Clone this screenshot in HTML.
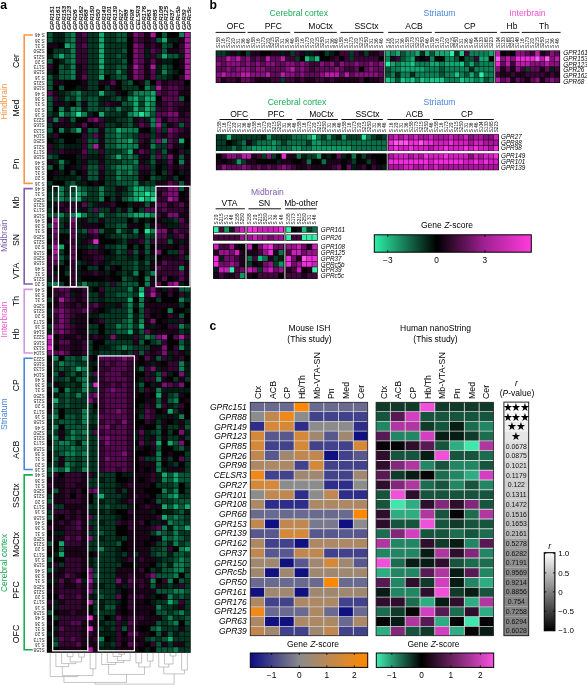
<!DOCTYPE html><html><head><meta charset="utf-8"><title>Figure</title><style>html,body{margin:0;padding:0;background:#fff}svg{display:block}text{font-family:'Liberation Sans', Arial, Helvetica, sans-serif}</style></head><body>
<svg width="587" height="685" viewBox="0 0 587 685">
<rect width="587" height="685" fill="#fff"/>
<rect x="46.80" y="32.00" width="143.90" height="620.80" fill="#000"/>
<path fill="#065637" d="M47.57 32.57h5.17v4.75h-5.17zM64.72 32.57h5.17v4.75h-5.17zM116.17 32.57h5.17v4.75h-5.17zM121.88 32.57h5.17v4.75h-5.17zM161.90 32.57h5.17v4.75h-5.17zM47.57 37.87h5.17v4.75h-5.17zM64.72 37.87h5.17v4.75h-5.17zM116.17 37.87h5.17v4.75h-5.17zM121.88 37.87h5.17v4.75h-5.17zM156.18 37.87h5.17v4.75h-5.17zM161.90 43.17h5.17v4.75h-5.17zM121.88 48.47h5.17v4.75h-5.17zM161.90 48.47h5.17v4.75h-5.17zM53.29 53.77h5.17v4.75h-5.17zM64.72 53.77h5.17v4.75h-5.17zM116.17 53.77h5.17v4.75h-5.17zM167.61 53.77h5.17v4.75h-5.17zM173.33 53.77h5.17v4.75h-5.17zM47.57 59.07h5.17v4.75h-5.17zM64.72 59.07h5.17v4.75h-5.17zM121.88 59.07h5.17v4.75h-5.17zM59.01 64.38h5.17v4.75h-5.17zM116.17 64.38h5.17v4.75h-5.17zM121.88 64.38h5.17v4.75h-5.17zM161.90 64.38h5.17v4.75h-5.17zM59.01 69.68h5.17v4.75h-5.17zM64.72 69.68h5.17v4.75h-5.17zM47.57 74.97h5.17v4.75h-5.17zM59.01 74.97h5.17v4.75h-5.17zM64.72 74.97h5.17v4.75h-5.17zM116.17 74.97h5.17v4.75h-5.17zM121.88 74.97h5.17v4.75h-5.17zM47.57 80.28h5.17v4.75h-5.17zM127.60 80.28h5.17v4.75h-5.17zM144.75 80.28h5.17v4.75h-5.17zM47.57 85.58h5.17v4.75h-5.17zM59.01 85.58h5.17v4.75h-5.17zM70.44 90.88h5.17v4.75h-5.17zM47.57 96.17h5.17v4.75h-5.17zM64.72 96.17h5.17v4.75h-5.17zM87.59 96.17h5.17v4.75h-5.17zM93.30 96.17h5.17v4.75h-5.17zM116.17 96.17h5.17v4.75h-5.17zM139.03 96.17h5.17v4.75h-5.17zM179.04 96.17h5.17v4.75h-5.17zM47.57 101.47h5.17v4.75h-5.17zM76.16 101.47h5.17v4.75h-5.17zM87.59 101.47h5.17v4.75h-5.17zM93.30 101.47h5.17v4.75h-5.17zM121.88 101.47h5.17v4.75h-5.17zM127.60 101.47h5.17v4.75h-5.17zM47.57 106.78h5.17v4.75h-5.17zM87.59 106.78h5.17v4.75h-5.17zM93.30 106.78h5.17v4.75h-5.17zM104.74 106.78h5.17v4.75h-5.17zM139.03 106.78h5.17v4.75h-5.17zM64.72 112.08h5.17v4.75h-5.17zM150.46 112.08h5.17v4.75h-5.17zM70.44 117.38h5.17v4.75h-5.17zM127.60 117.38h5.17v4.75h-5.17zM127.60 122.67h5.17v4.75h-5.17zM179.04 122.67h5.17v4.75h-5.17zM47.57 127.97h5.17v4.75h-5.17zM70.44 127.97h5.17v4.75h-5.17zM87.59 127.97h5.17v4.75h-5.17zM93.30 127.97h5.17v4.75h-5.17zM104.74 127.97h5.17v4.75h-5.17zM110.45 127.97h5.17v4.75h-5.17zM104.74 133.28h5.17v4.75h-5.17zM110.45 133.28h5.17v4.75h-5.17zM121.88 133.28h5.17v4.75h-5.17zM127.60 133.28h5.17v4.75h-5.17zM87.59 138.58h5.17v4.75h-5.17zM93.30 138.58h5.17v4.75h-5.17zM104.74 138.58h5.17v4.75h-5.17zM110.45 138.58h5.17v4.75h-5.17zM133.32 138.58h5.17v4.75h-5.17zM150.46 138.58h5.17v4.75h-5.17zM87.59 143.88h5.17v4.75h-5.17zM104.74 143.88h5.17v4.75h-5.17zM110.45 143.88h5.17v4.75h-5.17zM121.88 149.17h5.17v4.75h-5.17zM161.90 149.17h5.17v4.75h-5.17zM47.57 154.47h5.17v4.75h-5.17zM110.45 154.47h5.17v4.75h-5.17zM121.88 154.47h5.17v4.75h-5.17zM133.32 154.47h5.17v4.75h-5.17zM150.46 154.47h5.17v4.75h-5.17zM179.04 154.47h5.17v4.75h-5.17zM121.88 159.78h5.17v4.75h-5.17zM127.60 159.78h5.17v4.75h-5.17zM150.46 159.78h5.17v4.75h-5.17zM47.57 165.08h5.17v4.75h-5.17zM59.01 165.08h5.17v4.75h-5.17zM87.59 165.08h5.17v4.75h-5.17zM93.30 165.08h5.17v4.75h-5.17zM110.45 165.08h5.17v4.75h-5.17zM133.32 165.08h5.17v4.75h-5.17zM87.59 170.37h5.17v4.75h-5.17zM93.30 170.37h5.17v4.75h-5.17zM121.88 170.37h5.17v4.75h-5.17zM133.32 170.37h5.17v4.75h-5.17zM87.59 175.67h5.17v4.75h-5.17zM93.30 175.67h5.17v4.75h-5.17zM121.88 175.67h5.17v4.75h-5.17zM127.60 175.67h5.17v4.75h-5.17zM133.32 175.67h5.17v4.75h-5.17zM150.46 175.67h5.17v4.75h-5.17zM70.44 180.97h5.17v4.75h-5.17zM116.17 180.97h5.17v4.75h-5.17zM121.88 180.97h5.17v4.75h-5.17zM127.60 180.97h5.17v4.75h-5.17zM179.04 180.97h5.17v4.75h-5.17zM81.87 186.28h5.17v4.75h-5.17zM127.60 186.28h5.17v4.75h-5.17zM179.04 186.28h5.17v4.75h-5.17zM70.44 191.58h5.17v4.75h-5.17zM127.60 191.58h5.17v4.75h-5.17zM53.29 196.87h5.17v4.75h-5.17zM64.72 196.87h5.17v4.75h-5.17zM121.88 196.87h5.17v4.75h-5.17zM144.75 202.17h5.17v4.75h-5.17zM127.60 207.47h5.17v4.75h-5.17zM47.57 212.78h5.17v4.75h-5.17zM53.29 212.78h5.17v4.75h-5.17zM116.17 212.78h5.17v4.75h-5.17zM121.88 212.78h5.17v4.75h-5.17zM47.57 223.37h5.17v4.75h-5.17zM116.17 223.37h5.17v4.75h-5.17zM121.88 223.37h5.17v4.75h-5.17zM144.75 223.37h5.17v4.75h-5.17zM81.87 228.67h5.17v4.75h-5.17zM99.02 228.67h5.17v4.75h-5.17zM121.88 233.97h5.17v4.75h-5.17zM144.75 233.97h5.17v4.75h-5.17zM144.75 239.28h5.17v4.75h-5.17zM167.61 239.28h5.17v4.75h-5.17zM116.17 244.58h5.17v4.75h-5.17zM121.88 244.58h5.17v4.75h-5.17zM144.75 244.58h5.17v4.75h-5.17zM116.17 249.87h5.17v4.75h-5.17zM133.32 249.87h5.17v4.75h-5.17zM144.75 249.87h5.17v4.75h-5.17zM59.01 255.17h5.17v4.75h-5.17zM133.32 260.47h5.17v4.75h-5.17zM144.75 260.47h5.17v4.75h-5.17zM133.32 265.77h5.17v4.75h-5.17zM121.88 276.37h5.17v4.75h-5.17zM47.57 281.67h5.17v4.75h-5.17zM121.88 281.67h5.17v4.75h-5.17zM127.60 281.67h5.17v4.75h-5.17zM133.32 281.67h5.17v4.75h-5.17zM179.04 286.97h5.17v4.75h-5.17zM184.76 286.97h5.17v4.75h-5.17zM116.17 292.27h5.17v4.75h-5.17zM121.88 292.27h5.17v4.75h-5.17zM127.60 292.27h5.17v4.75h-5.17zM139.03 308.17h5.17v4.75h-5.17zM139.03 313.47h5.17v4.75h-5.17zM179.04 313.47h5.17v4.75h-5.17zM121.88 318.77h5.17v4.75h-5.17zM121.88 324.07h5.17v4.75h-5.17zM116.17 329.38h5.17v4.75h-5.17zM121.88 329.38h5.17v4.75h-5.17zM139.03 329.38h5.17v4.75h-5.17zM150.46 334.67h5.17v4.75h-5.17zM139.03 339.97h5.17v4.75h-5.17zM156.18 339.97h5.17v4.75h-5.17zM179.04 339.97h5.17v4.75h-5.17zM116.17 345.27h5.17v4.75h-5.17zM127.60 345.27h5.17v4.75h-5.17zM139.03 350.57h5.17v4.75h-5.17zM64.72 355.88h5.17v4.75h-5.17zM70.44 355.88h5.17v4.75h-5.17zM156.18 355.88h5.17v4.75h-5.17zM64.72 361.17h5.17v4.75h-5.17zM70.44 361.17h5.17v4.75h-5.17zM59.01 366.47h5.17v4.75h-5.17zM70.44 366.47h5.17v4.75h-5.17zM139.03 366.47h5.17v4.75h-5.17zM53.29 371.77h5.17v4.75h-5.17zM70.44 371.77h5.17v4.75h-5.17zM81.87 371.77h5.17v4.75h-5.17zM156.18 371.77h5.17v4.75h-5.17zM64.72 377.07h5.17v4.75h-5.17zM76.16 377.07h5.17v4.75h-5.17zM139.03 382.38h5.17v4.75h-5.17zM64.72 392.97h5.17v4.75h-5.17zM173.33 392.97h5.17v4.75h-5.17zM64.72 398.27h5.17v4.75h-5.17zM156.18 398.27h5.17v4.75h-5.17zM167.61 398.27h5.17v4.75h-5.17zM53.29 403.57h5.17v4.75h-5.17zM64.72 403.57h5.17v4.75h-5.17zM53.29 408.88h5.17v4.75h-5.17zM64.72 414.17h5.17v4.75h-5.17zM70.44 414.17h5.17v4.75h-5.17zM59.01 419.47h5.17v4.75h-5.17zM64.72 419.47h5.17v4.75h-5.17zM70.44 419.47h5.17v4.75h-5.17zM64.72 424.77h5.17v4.75h-5.17zM70.44 424.77h5.17v4.75h-5.17zM76.16 424.77h5.17v4.75h-5.17zM81.87 424.77h5.17v4.75h-5.17zM156.18 424.77h5.17v4.75h-5.17zM184.76 424.77h5.17v4.75h-5.17zM76.16 430.07h5.17v4.75h-5.17zM156.18 430.07h5.17v4.75h-5.17zM64.72 435.38h5.17v4.75h-5.17zM76.16 435.38h5.17v4.75h-5.17zM81.87 435.38h5.17v4.75h-5.17zM156.18 435.38h5.17v4.75h-5.17zM53.29 440.67h5.17v4.75h-5.17zM70.44 440.67h5.17v4.75h-5.17zM173.33 440.67h5.17v4.75h-5.17zM53.29 445.97h5.17v4.75h-5.17zM59.01 445.97h5.17v4.75h-5.17zM64.72 445.97h5.17v4.75h-5.17zM76.16 445.97h5.17v4.75h-5.17zM81.87 445.97h5.17v4.75h-5.17zM156.18 445.97h5.17v4.75h-5.17zM179.04 445.97h5.17v4.75h-5.17zM59.01 451.27h5.17v4.75h-5.17zM76.16 451.27h5.17v4.75h-5.17zM53.29 456.57h5.17v4.75h-5.17zM64.72 456.57h5.17v4.75h-5.17zM70.44 456.57h5.17v4.75h-5.17zM81.87 456.57h5.17v4.75h-5.17zM70.44 461.88h5.17v4.75h-5.17zM81.87 461.88h5.17v4.75h-5.17zM47.57 467.17h5.17v4.75h-5.17zM59.01 467.17h5.17v4.75h-5.17zM167.61 472.47h5.17v4.75h-5.17zM179.04 472.47h5.17v4.75h-5.17zM184.76 472.47h5.17v4.75h-5.17zM167.61 477.77h5.17v4.75h-5.17zM179.04 477.77h5.17v4.75h-5.17zM184.76 477.77h5.17v4.75h-5.17zM173.33 483.07h5.17v4.75h-5.17zM53.29 488.38h5.17v4.75h-5.17zM161.90 493.67h5.17v4.75h-5.17zM47.57 498.97h5.17v4.75h-5.17zM156.18 498.97h5.17v4.75h-5.17zM173.33 498.97h5.17v4.75h-5.17zM179.04 498.97h5.17v4.75h-5.17zM184.76 498.97h5.17v4.75h-5.17zM104.74 504.27h5.17v4.75h-5.17zM167.61 504.27h5.17v4.75h-5.17zM179.04 504.27h5.17v4.75h-5.17zM179.04 509.57h5.17v4.75h-5.17zM47.57 514.88h5.17v4.75h-5.17zM167.61 514.88h5.17v4.75h-5.17zM179.04 514.88h5.17v4.75h-5.17zM173.33 520.17h5.17v4.75h-5.17zM179.04 520.17h5.17v4.75h-5.17zM179.04 525.47h5.17v4.75h-5.17zM99.02 530.77h5.17v4.75h-5.17zM161.90 530.77h5.17v4.75h-5.17zM167.61 536.07h5.17v4.75h-5.17zM179.04 536.07h5.17v4.75h-5.17zM47.57 541.37h5.17v4.75h-5.17zM116.17 541.37h5.17v4.75h-5.17zM161.90 541.37h5.17v4.75h-5.17zM184.76 541.37h5.17v4.75h-5.17zM59.01 546.67h5.17v4.75h-5.17zM161.90 546.67h5.17v4.75h-5.17zM156.18 551.97h5.17v4.75h-5.17zM161.90 551.97h5.17v4.75h-5.17zM173.33 551.97h5.17v4.75h-5.17zM179.04 551.97h5.17v4.75h-5.17zM47.57 557.27h5.17v4.75h-5.17zM173.33 557.27h5.17v4.75h-5.17zM184.76 557.27h5.17v4.75h-5.17zM161.90 562.57h5.17v4.75h-5.17zM184.76 562.57h5.17v4.75h-5.17zM47.57 567.87h5.17v4.75h-5.17zM161.90 567.87h5.17v4.75h-5.17zM167.61 567.87h5.17v4.75h-5.17zM93.30 573.17h5.17v4.75h-5.17zM156.18 573.17h5.17v4.75h-5.17zM161.90 573.17h5.17v4.75h-5.17zM167.61 573.17h5.17v4.75h-5.17zM184.76 573.17h5.17v4.75h-5.17zM179.04 578.47h5.17v4.75h-5.17zM150.46 583.77h5.17v4.75h-5.17zM156.18 589.07h5.17v4.75h-5.17zM161.90 589.07h5.17v4.75h-5.17zM167.61 589.07h5.17v4.75h-5.17zM184.76 589.07h5.17v4.75h-5.17zM99.02 594.37h5.17v4.75h-5.17zM179.04 594.37h5.17v4.75h-5.17zM173.33 599.67h5.17v4.75h-5.17zM104.74 604.97h5.17v4.75h-5.17zM110.45 604.97h5.17v4.75h-5.17zM47.57 610.27h5.17v4.75h-5.17zM156.18 610.27h5.17v4.75h-5.17zM161.90 610.27h5.17v4.75h-5.17zM173.33 610.27h5.17v4.75h-5.17zM184.76 615.57h5.17v4.75h-5.17zM156.18 620.87h5.17v4.75h-5.17zM167.61 620.87h5.17v4.75h-5.17zM184.76 620.87h5.17v4.75h-5.17zM121.88 626.17h5.17v4.75h-5.17zM150.46 626.17h5.17v4.75h-5.17zM156.18 631.47h5.17v4.75h-5.17zM167.61 631.47h5.17v4.75h-5.17zM150.46 636.77h5.17v4.75h-5.17zM161.90 636.77h5.17v4.75h-5.17zM53.29 642.07h5.17v4.75h-5.17zM156.18 642.07h5.17v4.75h-5.17zM156.18 647.37h5.17v4.75h-5.17zM161.90 647.37h5.17v4.75h-5.17zM167.61 647.37h5.17v4.75h-5.17z"/>
<path fill="#021e14" d="M53.29 32.57h5.17v4.75h-5.17zM59.01 32.57h5.17v4.75h-5.17zM53.29 37.87h5.17v4.75h-5.17zM59.01 37.87h5.17v4.75h-5.17zM167.61 37.87h5.17v4.75h-5.17zM173.33 37.87h5.17v4.75h-5.17zM144.75 48.47h5.17v4.75h-5.17zM47.57 53.77h5.17v4.75h-5.17zM144.75 53.77h5.17v4.75h-5.17zM179.04 53.77h5.17v4.75h-5.17zM59.01 59.07h5.17v4.75h-5.17zM161.90 59.07h5.17v4.75h-5.17zM167.61 59.07h5.17v4.75h-5.17zM156.18 64.38h5.17v4.75h-5.17zM47.57 69.68h5.17v4.75h-5.17zM156.18 69.68h5.17v4.75h-5.17zM173.33 69.68h5.17v4.75h-5.17zM53.29 74.97h5.17v4.75h-5.17zM167.61 74.97h5.17v4.75h-5.17zM76.16 85.58h5.17v4.75h-5.17zM59.01 90.88h5.17v4.75h-5.17zM59.01 96.17h5.17v4.75h-5.17zM99.02 96.17h5.17v4.75h-5.17zM104.74 96.17h5.17v4.75h-5.17zM121.88 96.17h5.17v4.75h-5.17zM64.72 101.47h5.17v4.75h-5.17zM99.02 101.47h5.17v4.75h-5.17zM64.72 106.78h5.17v4.75h-5.17zM81.87 106.78h5.17v4.75h-5.17zM53.29 112.08h5.17v4.75h-5.17zM87.59 112.08h5.17v4.75h-5.17zM121.88 112.08h5.17v4.75h-5.17zM104.74 117.38h5.17v4.75h-5.17zM110.45 117.38h5.17v4.75h-5.17zM144.75 117.38h5.17v4.75h-5.17zM70.44 122.67h5.17v4.75h-5.17zM116.17 122.67h5.17v4.75h-5.17zM133.32 122.67h5.17v4.75h-5.17zM64.72 127.97h5.17v4.75h-5.17zM47.57 133.28h5.17v4.75h-5.17zM53.29 138.58h5.17v4.75h-5.17zM76.16 138.58h5.17v4.75h-5.17zM53.29 143.88h5.17v4.75h-5.17zM64.72 143.88h5.17v4.75h-5.17zM70.44 143.88h5.17v4.75h-5.17zM76.16 143.88h5.17v4.75h-5.17zM179.04 143.88h5.17v4.75h-5.17zM53.29 149.17h5.17v4.75h-5.17zM184.76 149.17h5.17v4.75h-5.17zM76.16 154.47h5.17v4.75h-5.17zM87.59 154.47h5.17v4.75h-5.17zM93.30 154.47h5.17v4.75h-5.17zM53.29 159.78h5.17v4.75h-5.17zM64.72 159.78h5.17v4.75h-5.17zM76.16 159.78h5.17v4.75h-5.17zM144.75 159.78h5.17v4.75h-5.17zM161.90 159.78h5.17v4.75h-5.17zM76.16 165.08h5.17v4.75h-5.17zM161.90 165.08h5.17v4.75h-5.17zM59.01 170.37h5.17v4.75h-5.17zM179.04 170.37h5.17v4.75h-5.17zM53.29 175.67h5.17v4.75h-5.17zM59.01 175.67h5.17v4.75h-5.17zM64.72 175.67h5.17v4.75h-5.17zM70.44 175.67h5.17v4.75h-5.17zM161.90 175.67h5.17v4.75h-5.17zM76.16 180.97h5.17v4.75h-5.17zM81.87 180.97h5.17v4.75h-5.17zM139.03 180.97h5.17v4.75h-5.17zM47.57 186.28h5.17v4.75h-5.17zM53.29 186.28h5.17v4.75h-5.17zM121.88 186.28h5.17v4.75h-5.17zM116.17 191.58h5.17v4.75h-5.17zM47.57 202.17h5.17v4.75h-5.17zM93.30 202.17h5.17v4.75h-5.17zM127.60 202.17h5.17v4.75h-5.17zM76.16 207.47h5.17v4.75h-5.17zM64.72 218.08h5.17v4.75h-5.17zM76.16 218.08h5.17v4.75h-5.17zM144.75 218.08h5.17v4.75h-5.17zM161.90 218.08h5.17v4.75h-5.17zM167.61 218.08h5.17v4.75h-5.17zM76.16 223.37h5.17v4.75h-5.17zM167.61 223.37h5.17v4.75h-5.17zM173.33 223.37h5.17v4.75h-5.17zM104.74 228.67h5.17v4.75h-5.17zM110.45 228.67h5.17v4.75h-5.17zM127.60 228.67h5.17v4.75h-5.17zM47.57 233.97h5.17v4.75h-5.17zM76.16 233.97h5.17v4.75h-5.17zM81.87 233.97h5.17v4.75h-5.17zM104.74 233.97h5.17v4.75h-5.17zM167.61 233.97h5.17v4.75h-5.17zM76.16 239.28h5.17v4.75h-5.17zM116.17 239.28h5.17v4.75h-5.17zM179.04 239.28h5.17v4.75h-5.17zM76.16 244.58h5.17v4.75h-5.17zM81.87 244.58h5.17v4.75h-5.17zM110.45 249.87h5.17v4.75h-5.17zM64.72 255.17h5.17v4.75h-5.17zM104.74 255.17h5.17v4.75h-5.17zM110.45 255.17h5.17v4.75h-5.17zM127.60 255.17h5.17v4.75h-5.17zM150.46 255.17h5.17v4.75h-5.17zM81.87 260.47h5.17v4.75h-5.17zM104.74 260.47h5.17v4.75h-5.17zM139.03 260.47h5.17v4.75h-5.17zM64.72 265.77h5.17v4.75h-5.17zM76.16 265.77h5.17v4.75h-5.17zM139.03 265.77h5.17v4.75h-5.17zM53.29 271.07h5.17v4.75h-5.17zM76.16 271.07h5.17v4.75h-5.17zM104.74 271.07h5.17v4.75h-5.17zM116.17 271.07h5.17v4.75h-5.17zM127.60 271.07h5.17v4.75h-5.17zM47.57 276.37h5.17v4.75h-5.17zM76.16 276.37h5.17v4.75h-5.17zM133.32 276.37h5.17v4.75h-5.17zM99.02 281.67h5.17v4.75h-5.17zM179.04 281.67h5.17v4.75h-5.17zM87.59 286.97h5.17v4.75h-5.17zM133.32 286.97h5.17v4.75h-5.17zM161.90 286.97h5.17v4.75h-5.17zM70.44 292.27h5.17v4.75h-5.17zM184.76 292.27h5.17v4.75h-5.17zM99.02 297.57h5.17v4.75h-5.17zM104.74 302.88h5.17v4.75h-5.17zM110.45 302.88h5.17v4.75h-5.17zM133.32 302.88h5.17v4.75h-5.17zM47.57 308.17h5.17v4.75h-5.17zM104.74 308.17h5.17v4.75h-5.17zM184.76 308.17h5.17v4.75h-5.17zM47.57 313.47h5.17v4.75h-5.17zM87.59 313.47h5.17v4.75h-5.17zM93.30 313.47h5.17v4.75h-5.17zM133.32 313.47h5.17v4.75h-5.17zM70.44 318.77h5.17v4.75h-5.17zM133.32 318.77h5.17v4.75h-5.17zM167.61 318.77h5.17v4.75h-5.17zM173.33 318.77h5.17v4.75h-5.17zM150.46 324.07h5.17v4.75h-5.17zM47.57 329.38h5.17v4.75h-5.17zM133.32 329.38h5.17v4.75h-5.17zM184.76 329.38h5.17v4.75h-5.17zM104.74 334.67h5.17v4.75h-5.17zM116.17 334.67h5.17v4.75h-5.17zM121.88 334.67h5.17v4.75h-5.17zM127.60 334.67h5.17v4.75h-5.17zM184.76 339.97h5.17v4.75h-5.17zM99.02 345.27h5.17v4.75h-5.17zM104.74 345.27h5.17v4.75h-5.17zM184.76 345.27h5.17v4.75h-5.17zM93.30 350.57h5.17v4.75h-5.17zM121.88 350.57h5.17v4.75h-5.17zM167.61 350.57h5.17v4.75h-5.17zM184.76 350.57h5.17v4.75h-5.17zM167.61 355.88h5.17v4.75h-5.17zM87.59 361.17h5.17v4.75h-5.17zM93.30 361.17h5.17v4.75h-5.17zM150.46 361.17h5.17v4.75h-5.17zM184.76 361.17h5.17v4.75h-5.17zM87.59 366.47h5.17v4.75h-5.17zM133.32 366.47h5.17v4.75h-5.17zM156.18 366.47h5.17v4.75h-5.17zM184.76 366.47h5.17v4.75h-5.17zM76.16 371.77h5.17v4.75h-5.17zM150.46 371.77h5.17v4.75h-5.17zM167.61 371.77h5.17v4.75h-5.17zM184.76 371.77h5.17v4.75h-5.17zM70.44 377.07h5.17v4.75h-5.17zM87.59 377.07h5.17v4.75h-5.17zM93.30 377.07h5.17v4.75h-5.17zM139.03 377.07h5.17v4.75h-5.17zM59.01 382.38h5.17v4.75h-5.17zM76.16 382.38h5.17v4.75h-5.17zM133.32 382.38h5.17v4.75h-5.17zM150.46 382.38h5.17v4.75h-5.17zM161.90 387.67h5.17v4.75h-5.17zM167.61 387.67h5.17v4.75h-5.17zM173.33 387.67h5.17v4.75h-5.17zM179.04 387.67h5.17v4.75h-5.17zM184.76 387.67h5.17v4.75h-5.17zM53.29 392.97h5.17v4.75h-5.17zM139.03 403.57h5.17v4.75h-5.17zM167.61 403.57h5.17v4.75h-5.17zM93.30 408.88h5.17v4.75h-5.17zM139.03 408.88h5.17v4.75h-5.17zM156.18 414.17h5.17v4.75h-5.17zM161.90 414.17h5.17v4.75h-5.17zM173.33 414.17h5.17v4.75h-5.17zM47.57 419.47h5.17v4.75h-5.17zM173.33 419.47h5.17v4.75h-5.17zM47.57 424.77h5.17v4.75h-5.17zM87.59 424.77h5.17v4.75h-5.17zM93.30 424.77h5.17v4.75h-5.17zM133.32 430.07h5.17v4.75h-5.17zM144.75 430.07h5.17v4.75h-5.17zM184.76 430.07h5.17v4.75h-5.17zM47.57 435.38h5.17v4.75h-5.17zM133.32 435.38h5.17v4.75h-5.17zM144.75 435.38h5.17v4.75h-5.17zM76.16 440.67h5.17v4.75h-5.17zM144.75 440.67h5.17v4.75h-5.17zM47.57 445.97h5.17v4.75h-5.17zM133.32 445.97h5.17v4.75h-5.17zM184.76 445.97h5.17v4.75h-5.17zM47.57 461.88h5.17v4.75h-5.17zM167.61 461.88h5.17v4.75h-5.17zM161.90 467.17h5.17v4.75h-5.17zM93.30 472.47h5.17v4.75h-5.17zM121.88 472.47h5.17v4.75h-5.17zM127.60 472.47h5.17v4.75h-5.17zM156.18 472.47h5.17v4.75h-5.17zM99.02 477.77h5.17v4.75h-5.17zM156.18 477.77h5.17v4.75h-5.17zM116.17 483.07h5.17v4.75h-5.17zM121.88 493.67h5.17v4.75h-5.17zM99.02 498.97h5.17v4.75h-5.17zM116.17 498.97h5.17v4.75h-5.17zM127.60 504.27h5.17v4.75h-5.17zM87.59 509.57h5.17v4.75h-5.17zM93.30 509.57h5.17v4.75h-5.17zM99.02 509.57h5.17v4.75h-5.17zM110.45 509.57h5.17v4.75h-5.17zM150.46 509.57h5.17v4.75h-5.17zM161.90 509.57h5.17v4.75h-5.17zM167.61 509.57h5.17v4.75h-5.17zM184.76 509.57h5.17v4.75h-5.17zM116.17 514.88h5.17v4.75h-5.17zM99.02 520.17h5.17v4.75h-5.17zM150.46 520.17h5.17v4.75h-5.17zM156.18 520.17h5.17v4.75h-5.17zM167.61 525.47h5.17v4.75h-5.17zM53.29 530.77h5.17v4.75h-5.17zM59.01 530.77h5.17v4.75h-5.17zM99.02 536.07h5.17v4.75h-5.17zM116.17 536.07h5.17v4.75h-5.17zM167.61 541.37h5.17v4.75h-5.17zM116.17 546.67h5.17v4.75h-5.17zM53.29 551.97h5.17v4.75h-5.17zM116.17 551.97h5.17v4.75h-5.17zM167.61 551.97h5.17v4.75h-5.17zM87.59 557.27h5.17v4.75h-5.17zM116.17 557.27h5.17v4.75h-5.17zM156.18 557.27h5.17v4.75h-5.17zM47.57 562.57h5.17v4.75h-5.17zM87.59 562.57h5.17v4.75h-5.17zM133.32 562.57h5.17v4.75h-5.17zM167.61 562.57h5.17v4.75h-5.17zM53.29 567.87h5.17v4.75h-5.17zM156.18 567.87h5.17v4.75h-5.17zM47.57 578.47h5.17v4.75h-5.17zM53.29 578.47h5.17v4.75h-5.17zM81.87 578.47h5.17v4.75h-5.17zM93.30 583.77h5.17v4.75h-5.17zM99.02 583.77h5.17v4.75h-5.17zM121.88 583.77h5.17v4.75h-5.17zM161.90 583.77h5.17v4.75h-5.17zM173.33 583.77h5.17v4.75h-5.17zM116.17 589.07h5.17v4.75h-5.17zM87.59 594.37h5.17v4.75h-5.17zM93.30 594.37h5.17v4.75h-5.17zM150.46 594.37h5.17v4.75h-5.17zM53.29 599.67h5.17v4.75h-5.17zM99.02 599.67h5.17v4.75h-5.17zM116.17 599.67h5.17v4.75h-5.17zM150.46 599.67h5.17v4.75h-5.17zM53.29 604.97h5.17v4.75h-5.17zM99.02 604.97h5.17v4.75h-5.17zM173.33 604.97h5.17v4.75h-5.17zM110.45 615.57h5.17v4.75h-5.17zM99.02 620.87h5.17v4.75h-5.17zM121.88 620.87h5.17v4.75h-5.17zM53.29 626.17h5.17v4.75h-5.17zM104.74 626.17h5.17v4.75h-5.17zM47.57 631.47h5.17v4.75h-5.17zM99.02 631.47h5.17v4.75h-5.17zM104.74 631.47h5.17v4.75h-5.17zM110.45 631.47h5.17v4.75h-5.17zM173.33 631.47h5.17v4.75h-5.17zM110.45 636.77h5.17v4.75h-5.17zM104.74 642.07h5.17v4.75h-5.17zM99.02 647.37h5.17v4.75h-5.17zM104.74 647.37h5.17v4.75h-5.17zM110.45 647.37h5.17v4.75h-5.17zM144.75 647.37h5.17v4.75h-5.17z"/>
<path fill="#0c7e52" d="M70.44 32.57h5.17v4.75h-5.17zM179.04 32.57h5.17v4.75h-5.17zM70.44 37.87h5.17v4.75h-5.17zM70.44 43.17h5.17v4.75h-5.17zM70.44 48.47h5.17v4.75h-5.17zM70.44 53.77h5.17v4.75h-5.17zM70.44 59.07h5.17v4.75h-5.17zM70.44 64.38h5.17v4.75h-5.17zM70.44 69.68h5.17v4.75h-5.17zM99.02 69.68h5.17v4.75h-5.17zM116.17 69.68h5.17v4.75h-5.17zM161.90 69.68h5.17v4.75h-5.17zM70.44 74.97h5.17v4.75h-5.17zM144.75 85.58h5.17v4.75h-5.17zM76.16 90.88h5.17v4.75h-5.17zM133.32 90.88h5.17v4.75h-5.17zM139.03 90.88h5.17v4.75h-5.17zM144.75 90.88h5.17v4.75h-5.17zM76.16 96.17h5.17v4.75h-5.17zM127.60 96.17h5.17v4.75h-5.17zM150.46 101.47h5.17v4.75h-5.17zM59.01 106.78h5.17v4.75h-5.17zM70.44 106.78h5.17v4.75h-5.17zM76.16 106.78h5.17v4.75h-5.17zM116.17 106.78h5.17v4.75h-5.17zM150.46 106.78h5.17v4.75h-5.17zM70.44 112.08h5.17v4.75h-5.17zM81.87 112.08h5.17v4.75h-5.17zM127.60 112.08h5.17v4.75h-5.17zM53.29 117.38h5.17v4.75h-5.17zM150.46 117.38h5.17v4.75h-5.17zM150.46 122.67h5.17v4.75h-5.17zM59.01 127.97h5.17v4.75h-5.17zM121.88 127.97h5.17v4.75h-5.17zM127.60 127.97h5.17v4.75h-5.17zM133.32 127.97h5.17v4.75h-5.17zM116.17 133.28h5.17v4.75h-5.17zM116.17 138.58h5.17v4.75h-5.17zM121.88 138.58h5.17v4.75h-5.17zM161.90 138.58h5.17v4.75h-5.17zM116.17 143.88h5.17v4.75h-5.17zM121.88 143.88h5.17v4.75h-5.17zM127.60 143.88h5.17v4.75h-5.17zM133.32 143.88h5.17v4.75h-5.17zM150.46 143.88h5.17v4.75h-5.17zM127.60 154.47h5.17v4.75h-5.17zM59.01 159.78h5.17v4.75h-5.17zM133.32 159.78h5.17v4.75h-5.17zM179.04 159.78h5.17v4.75h-5.17zM116.17 165.08h5.17v4.75h-5.17zM121.88 165.08h5.17v4.75h-5.17zM127.60 165.08h5.17v4.75h-5.17zM116.17 170.37h5.17v4.75h-5.17zM127.60 170.37h5.17v4.75h-5.17zM116.17 175.67h5.17v4.75h-5.17zM133.32 180.97h5.17v4.75h-5.17zM59.01 186.28h5.17v4.75h-5.17zM76.16 186.28h5.17v4.75h-5.17zM99.02 186.28h5.17v4.75h-5.17zM144.75 186.28h5.17v4.75h-5.17zM150.46 186.28h5.17v4.75h-5.17zM59.01 191.58h5.17v4.75h-5.17zM81.87 191.58h5.17v4.75h-5.17zM99.02 191.58h5.17v4.75h-5.17zM59.01 196.87h5.17v4.75h-5.17zM70.44 196.87h5.17v4.75h-5.17zM99.02 196.87h5.17v4.75h-5.17zM127.60 196.87h5.17v4.75h-5.17zM59.01 212.78h5.17v4.75h-5.17zM70.44 212.78h5.17v4.75h-5.17zM81.87 212.78h5.17v4.75h-5.17zM99.02 212.78h5.17v4.75h-5.17zM127.60 212.78h5.17v4.75h-5.17zM150.46 212.78h5.17v4.75h-5.17zM116.17 228.67h5.17v4.75h-5.17zM133.32 228.67h5.17v4.75h-5.17zM150.46 228.67h5.17v4.75h-5.17zM179.04 265.77h5.17v4.75h-5.17zM133.32 271.07h5.17v4.75h-5.17zM150.46 271.07h5.17v4.75h-5.17zM144.75 276.37h5.17v4.75h-5.17zM53.29 281.67h5.17v4.75h-5.17zM81.87 281.67h5.17v4.75h-5.17zM144.75 281.67h5.17v4.75h-5.17zM127.60 286.97h5.17v4.75h-5.17zM139.03 297.57h5.17v4.75h-5.17zM179.04 297.57h5.17v4.75h-5.17zM127.60 302.88h5.17v4.75h-5.17zM139.03 302.88h5.17v4.75h-5.17zM127.60 308.17h5.17v4.75h-5.17zM167.61 308.17h5.17v4.75h-5.17zM127.60 313.47h5.17v4.75h-5.17zM127.60 318.77h5.17v4.75h-5.17zM139.03 318.77h5.17v4.75h-5.17zM116.17 324.07h5.17v4.75h-5.17zM127.60 324.07h5.17v4.75h-5.17zM179.04 324.07h5.17v4.75h-5.17zM144.75 334.67h5.17v4.75h-5.17zM121.88 345.27h5.17v4.75h-5.17zM179.04 345.27h5.17v4.75h-5.17zM53.29 355.88h5.17v4.75h-5.17zM81.87 355.88h5.17v4.75h-5.17zM59.01 361.17h5.17v4.75h-5.17zM179.04 361.17h5.17v4.75h-5.17zM81.87 366.47h5.17v4.75h-5.17zM179.04 366.47h5.17v4.75h-5.17zM81.87 377.07h5.17v4.75h-5.17zM156.18 377.07h5.17v4.75h-5.17zM81.87 382.38h5.17v4.75h-5.17zM53.29 387.67h5.17v4.75h-5.17zM64.72 387.67h5.17v4.75h-5.17zM81.87 387.67h5.17v4.75h-5.17zM156.18 387.67h5.17v4.75h-5.17zM76.16 392.97h5.17v4.75h-5.17zM173.33 398.27h5.17v4.75h-5.17zM156.18 403.57h5.17v4.75h-5.17zM81.87 408.88h5.17v4.75h-5.17zM53.29 414.17h5.17v4.75h-5.17zM81.87 414.17h5.17v4.75h-5.17zM179.04 414.17h5.17v4.75h-5.17zM81.87 419.47h5.17v4.75h-5.17zM53.29 424.77h5.17v4.75h-5.17zM70.44 430.07h5.17v4.75h-5.17zM81.87 430.07h5.17v4.75h-5.17zM53.29 435.38h5.17v4.75h-5.17zM70.44 435.38h5.17v4.75h-5.17zM59.01 440.67h5.17v4.75h-5.17zM64.72 440.67h5.17v4.75h-5.17zM81.87 440.67h5.17v4.75h-5.17zM70.44 445.97h5.17v4.75h-5.17zM64.72 451.27h5.17v4.75h-5.17zM70.44 451.27h5.17v4.75h-5.17zM81.87 451.27h5.17v4.75h-5.17zM156.18 451.27h5.17v4.75h-5.17zM156.18 456.57h5.17v4.75h-5.17zM64.72 461.88h5.17v4.75h-5.17zM156.18 461.88h5.17v4.75h-5.17zM53.29 467.17h5.17v4.75h-5.17zM81.87 467.17h5.17v4.75h-5.17zM156.18 467.17h5.17v4.75h-5.17zM161.90 477.77h5.17v4.75h-5.17zM161.90 488.38h5.17v4.75h-5.17zM173.33 488.38h5.17v4.75h-5.17zM167.61 493.67h5.17v4.75h-5.17zM173.33 514.88h5.17v4.75h-5.17zM167.61 520.17h5.17v4.75h-5.17zM161.90 525.47h5.17v4.75h-5.17zM173.33 525.47h5.17v4.75h-5.17zM156.18 530.77h5.17v4.75h-5.17zM173.33 530.77h5.17v4.75h-5.17zM161.90 536.07h5.17v4.75h-5.17zM173.33 536.07h5.17v4.75h-5.17zM173.33 541.37h5.17v4.75h-5.17zM99.02 546.67h5.17v4.75h-5.17zM179.04 546.67h5.17v4.75h-5.17zM179.04 557.27h5.17v4.75h-5.17zM173.33 562.57h5.17v4.75h-5.17zM179.04 562.57h5.17v4.75h-5.17zM173.33 567.87h5.17v4.75h-5.17zM179.04 567.87h5.17v4.75h-5.17zM173.33 573.17h5.17v4.75h-5.17zM150.46 578.47h5.17v4.75h-5.17zM167.61 578.47h5.17v4.75h-5.17zM173.33 589.07h5.17v4.75h-5.17zM179.04 589.07h5.17v4.75h-5.17zM167.61 594.37h5.17v4.75h-5.17zM156.18 604.97h5.17v4.75h-5.17zM179.04 610.27h5.17v4.75h-5.17zM167.61 615.57h5.17v4.75h-5.17zM173.33 620.87h5.17v4.75h-5.17zM156.18 626.17h5.17v4.75h-5.17zM99.02 636.77h5.17v4.75h-5.17zM173.33 647.37h5.17v4.75h-5.17z"/>
<path fill="#360632" d="M76.16 32.57h5.17v4.75h-5.17zM76.16 37.87h5.17v4.75h-5.17zM81.87 37.87h5.17v4.75h-5.17zM139.03 37.87h5.17v4.75h-5.17zM150.46 37.87h5.17v4.75h-5.17zM76.16 43.17h5.17v4.75h-5.17zM150.46 43.17h5.17v4.75h-5.17zM179.04 43.17h5.17v4.75h-5.17zM76.16 48.47h5.17v4.75h-5.17zM81.87 48.47h5.17v4.75h-5.17zM156.18 48.47h5.17v4.75h-5.17zM179.04 48.47h5.17v4.75h-5.17zM76.16 53.77h5.17v4.75h-5.17zM81.87 53.77h5.17v4.75h-5.17zM150.46 53.77h5.17v4.75h-5.17zM76.16 59.07h5.17v4.75h-5.17zM81.87 59.07h5.17v4.75h-5.17zM47.57 64.38h5.17v4.75h-5.17zM81.87 64.38h5.17v4.75h-5.17zM81.87 69.68h5.17v4.75h-5.17zM179.04 74.97h5.17v4.75h-5.17zM167.61 80.28h5.17v4.75h-5.17zM173.33 80.28h5.17v4.75h-5.17zM179.04 80.28h5.17v4.75h-5.17zM161.90 85.58h5.17v4.75h-5.17zM179.04 85.58h5.17v4.75h-5.17zM161.90 90.88h5.17v4.75h-5.17zM53.29 96.17h5.17v4.75h-5.17zM104.74 101.47h5.17v4.75h-5.17zM161.90 101.47h5.17v4.75h-5.17zM173.33 101.47h5.17v4.75h-5.17zM179.04 101.47h5.17v4.75h-5.17zM156.18 106.78h5.17v4.75h-5.17zM161.90 106.78h5.17v4.75h-5.17zM173.33 106.78h5.17v4.75h-5.17zM184.76 112.08h5.17v4.75h-5.17zM47.57 117.38h5.17v4.75h-5.17zM59.01 117.38h5.17v4.75h-5.17zM99.02 117.38h5.17v4.75h-5.17zM139.03 117.38h5.17v4.75h-5.17zM179.04 117.38h5.17v4.75h-5.17zM184.76 117.38h5.17v4.75h-5.17zM99.02 122.67h5.17v4.75h-5.17zM144.75 122.67h5.17v4.75h-5.17zM173.33 122.67h5.17v4.75h-5.17zM184.76 122.67h5.17v4.75h-5.17zM179.04 127.97h5.17v4.75h-5.17zM53.29 133.28h5.17v4.75h-5.17zM81.87 133.28h5.17v4.75h-5.17zM139.03 133.28h5.17v4.75h-5.17zM144.75 133.28h5.17v4.75h-5.17zM156.18 133.28h5.17v4.75h-5.17zM173.33 133.28h5.17v4.75h-5.17zM81.87 138.58h5.17v4.75h-5.17zM139.03 138.58h5.17v4.75h-5.17zM173.33 138.58h5.17v4.75h-5.17zM47.57 143.88h5.17v4.75h-5.17zM81.87 143.88h5.17v4.75h-5.17zM47.57 149.17h5.17v4.75h-5.17zM59.01 149.17h5.17v4.75h-5.17zM99.02 149.17h5.17v4.75h-5.17zM144.75 149.17h5.17v4.75h-5.17zM156.18 149.17h5.17v4.75h-5.17zM179.04 149.17h5.17v4.75h-5.17zM81.87 154.47h5.17v4.75h-5.17zM81.87 165.08h5.17v4.75h-5.17zM99.02 165.08h5.17v4.75h-5.17zM139.03 165.08h5.17v4.75h-5.17zM144.75 165.08h5.17v4.75h-5.17zM167.61 165.08h5.17v4.75h-5.17zM179.04 165.08h5.17v4.75h-5.17zM167.61 170.37h5.17v4.75h-5.17zM173.33 180.97h5.17v4.75h-5.17zM156.18 186.28h5.17v4.75h-5.17zM161.90 186.28h5.17v4.75h-5.17zM156.18 196.87h5.17v4.75h-5.17zM161.90 196.87h5.17v4.75h-5.17zM59.01 202.17h5.17v4.75h-5.17zM70.44 202.17h5.17v4.75h-5.17zM110.45 202.17h5.17v4.75h-5.17zM173.33 202.17h5.17v4.75h-5.17zM64.72 207.47h5.17v4.75h-5.17zM70.44 207.47h5.17v4.75h-5.17zM156.18 207.47h5.17v4.75h-5.17zM167.61 207.47h5.17v4.75h-5.17zM173.33 207.47h5.17v4.75h-5.17zM179.04 207.47h5.17v4.75h-5.17zM156.18 212.78h5.17v4.75h-5.17zM156.18 223.37h5.17v4.75h-5.17zM179.04 223.37h5.17v4.75h-5.17zM184.76 223.37h5.17v4.75h-5.17zM179.04 228.67h5.17v4.75h-5.17zM184.76 228.67h5.17v4.75h-5.17zM93.30 233.97h5.17v4.75h-5.17zM173.33 233.97h5.17v4.75h-5.17zM70.44 239.28h5.17v4.75h-5.17zM87.59 239.28h5.17v4.75h-5.17zM139.03 239.28h5.17v4.75h-5.17zM150.46 239.28h5.17v4.75h-5.17zM156.18 239.28h5.17v4.75h-5.17zM161.90 239.28h5.17v4.75h-5.17zM179.04 244.58h5.17v4.75h-5.17zM87.59 249.87h5.17v4.75h-5.17zM93.30 249.87h5.17v4.75h-5.17zM127.60 249.87h5.17v4.75h-5.17zM47.57 255.17h5.17v4.75h-5.17zM93.30 255.17h5.17v4.75h-5.17zM99.02 255.17h5.17v4.75h-5.17zM179.04 255.17h5.17v4.75h-5.17zM47.57 260.47h5.17v4.75h-5.17zM70.44 260.47h5.17v4.75h-5.17zM93.30 260.47h5.17v4.75h-5.17zM167.61 260.47h5.17v4.75h-5.17zM173.33 260.47h5.17v4.75h-5.17zM179.04 260.47h5.17v4.75h-5.17zM47.57 265.77h5.17v4.75h-5.17zM70.44 265.77h5.17v4.75h-5.17zM161.90 265.77h5.17v4.75h-5.17zM167.61 265.77h5.17v4.75h-5.17zM173.33 265.77h5.17v4.75h-5.17zM47.57 271.07h5.17v4.75h-5.17zM70.44 271.07h5.17v4.75h-5.17zM93.30 271.07h5.17v4.75h-5.17zM156.18 271.07h5.17v4.75h-5.17zM161.90 271.07h5.17v4.75h-5.17zM167.61 271.07h5.17v4.75h-5.17zM173.33 271.07h5.17v4.75h-5.17zM53.29 276.37h5.17v4.75h-5.17zM70.44 276.37h5.17v4.75h-5.17zM70.44 281.67h5.17v4.75h-5.17zM110.45 281.67h5.17v4.75h-5.17zM53.29 286.97h5.17v4.75h-5.17zM81.87 286.97h5.17v4.75h-5.17zM99.02 286.97h5.17v4.75h-5.17zM144.75 286.97h5.17v4.75h-5.17zM167.61 286.97h5.17v4.75h-5.17zM53.29 292.27h5.17v4.75h-5.17zM59.01 292.27h5.17v4.75h-5.17zM81.87 292.27h5.17v4.75h-5.17zM144.75 292.27h5.17v4.75h-5.17zM156.18 292.27h5.17v4.75h-5.17zM167.61 292.27h5.17v4.75h-5.17zM179.04 292.27h5.17v4.75h-5.17zM70.44 297.57h5.17v4.75h-5.17zM81.87 297.57h5.17v4.75h-5.17zM64.72 302.88h5.17v4.75h-5.17zM76.16 302.88h5.17v4.75h-5.17zM87.59 302.88h5.17v4.75h-5.17zM70.44 308.17h5.17v4.75h-5.17zM76.16 308.17h5.17v4.75h-5.17zM87.59 308.17h5.17v4.75h-5.17zM144.75 308.17h5.17v4.75h-5.17zM53.29 313.47h5.17v4.75h-5.17zM70.44 313.47h5.17v4.75h-5.17zM144.75 313.47h5.17v4.75h-5.17zM167.61 313.47h5.17v4.75h-5.17zM53.29 318.77h5.17v4.75h-5.17zM99.02 318.77h5.17v4.75h-5.17zM179.04 318.77h5.17v4.75h-5.17zM70.44 324.07h5.17v4.75h-5.17zM167.61 324.07h5.17v4.75h-5.17zM173.33 324.07h5.17v4.75h-5.17zM70.44 329.38h5.17v4.75h-5.17zM59.01 334.67h5.17v4.75h-5.17zM76.16 334.67h5.17v4.75h-5.17zM93.30 334.67h5.17v4.75h-5.17zM133.32 334.67h5.17v4.75h-5.17zM184.76 334.67h5.17v4.75h-5.17zM81.87 339.97h5.17v4.75h-5.17zM161.90 339.97h5.17v4.75h-5.17zM59.01 345.27h5.17v4.75h-5.17zM64.72 345.27h5.17v4.75h-5.17zM81.87 345.27h5.17v4.75h-5.17zM173.33 345.27h5.17v4.75h-5.17zM81.87 350.57h5.17v4.75h-5.17zM133.32 350.57h5.17v4.75h-5.17zM144.75 350.57h5.17v4.75h-5.17zM156.18 350.57h5.17v4.75h-5.17zM173.33 350.57h5.17v4.75h-5.17zM133.32 355.88h5.17v4.75h-5.17zM161.90 355.88h5.17v4.75h-5.17zM179.04 355.88h5.17v4.75h-5.17zM99.02 361.17h5.17v4.75h-5.17zM110.45 361.17h5.17v4.75h-5.17zM127.60 361.17h5.17v4.75h-5.17zM167.61 361.17h5.17v4.75h-5.17zM173.33 361.17h5.17v4.75h-5.17zM99.02 366.47h5.17v4.75h-5.17zM104.74 366.47h5.17v4.75h-5.17zM127.60 366.47h5.17v4.75h-5.17zM144.75 366.47h5.17v4.75h-5.17zM167.61 366.47h5.17v4.75h-5.17zM173.33 366.47h5.17v4.75h-5.17zM99.02 371.77h5.17v4.75h-5.17zM121.88 371.77h5.17v4.75h-5.17zM127.60 371.77h5.17v4.75h-5.17zM144.75 371.77h5.17v4.75h-5.17zM99.02 377.07h5.17v4.75h-5.17zM127.60 377.07h5.17v4.75h-5.17zM144.75 377.07h5.17v4.75h-5.17zM150.46 377.07h5.17v4.75h-5.17zM99.02 382.38h5.17v4.75h-5.17zM104.74 382.38h5.17v4.75h-5.17zM116.17 382.38h5.17v4.75h-5.17zM127.60 382.38h5.17v4.75h-5.17zM173.33 382.38h5.17v4.75h-5.17zM99.02 387.67h5.17v4.75h-5.17zM127.60 387.67h5.17v4.75h-5.17zM144.75 387.67h5.17v4.75h-5.17zM99.02 392.97h5.17v4.75h-5.17zM127.60 392.97h5.17v4.75h-5.17zM93.30 398.27h5.17v4.75h-5.17zM99.02 398.27h5.17v4.75h-5.17zM127.60 398.27h5.17v4.75h-5.17zM99.02 403.57h5.17v4.75h-5.17zM127.60 403.57h5.17v4.75h-5.17zM144.75 403.57h5.17v4.75h-5.17zM161.90 403.57h5.17v4.75h-5.17zM179.04 403.57h5.17v4.75h-5.17zM99.02 408.88h5.17v4.75h-5.17zM127.60 408.88h5.17v4.75h-5.17zM150.46 408.88h5.17v4.75h-5.17zM127.60 414.17h5.17v4.75h-5.17zM150.46 414.17h5.17v4.75h-5.17zM99.02 419.47h5.17v4.75h-5.17zM116.17 419.47h5.17v4.75h-5.17zM127.60 419.47h5.17v4.75h-5.17zM144.75 419.47h5.17v4.75h-5.17zM110.45 424.77h5.17v4.75h-5.17zM127.60 424.77h5.17v4.75h-5.17zM99.02 430.07h5.17v4.75h-5.17zM127.60 430.07h5.17v4.75h-5.17zM127.60 435.38h5.17v4.75h-5.17zM139.03 435.38h5.17v4.75h-5.17zM99.02 440.67h5.17v4.75h-5.17zM127.60 440.67h5.17v4.75h-5.17zM150.46 440.67h5.17v4.75h-5.17zM99.02 445.97h5.17v4.75h-5.17zM127.60 445.97h5.17v4.75h-5.17zM99.02 451.27h5.17v4.75h-5.17zM127.60 451.27h5.17v4.75h-5.17zM99.02 456.57h5.17v4.75h-5.17zM127.60 456.57h5.17v4.75h-5.17zM139.03 456.57h5.17v4.75h-5.17zM99.02 461.88h5.17v4.75h-5.17zM127.60 461.88h5.17v4.75h-5.17zM99.02 467.17h5.17v4.75h-5.17zM116.17 467.17h5.17v4.75h-5.17zM127.60 467.17h5.17v4.75h-5.17zM53.29 472.47h5.17v4.75h-5.17zM64.72 472.47h5.17v4.75h-5.17zM70.44 472.47h5.17v4.75h-5.17zM76.16 472.47h5.17v4.75h-5.17zM87.59 472.47h5.17v4.75h-5.17zM150.46 472.47h5.17v4.75h-5.17zM64.72 477.77h5.17v4.75h-5.17zM70.44 477.77h5.17v4.75h-5.17zM76.16 477.77h5.17v4.75h-5.17zM150.46 477.77h5.17v4.75h-5.17zM47.57 483.07h5.17v4.75h-5.17zM64.72 483.07h5.17v4.75h-5.17zM70.44 483.07h5.17v4.75h-5.17zM127.60 483.07h5.17v4.75h-5.17zM64.72 488.38h5.17v4.75h-5.17zM76.16 488.38h5.17v4.75h-5.17zM64.72 493.67h5.17v4.75h-5.17zM76.16 493.67h5.17v4.75h-5.17zM133.32 493.67h5.17v4.75h-5.17zM64.72 498.97h5.17v4.75h-5.17zM70.44 498.97h5.17v4.75h-5.17zM76.16 498.97h5.17v4.75h-5.17zM127.60 498.97h5.17v4.75h-5.17zM47.57 504.27h5.17v4.75h-5.17zM144.75 504.27h5.17v4.75h-5.17zM53.29 509.57h5.17v4.75h-5.17zM59.01 509.57h5.17v4.75h-5.17zM64.72 509.57h5.17v4.75h-5.17zM76.16 509.57h5.17v4.75h-5.17zM127.60 509.57h5.17v4.75h-5.17zM64.72 514.88h5.17v4.75h-5.17zM76.16 514.88h5.17v4.75h-5.17zM156.18 514.88h5.17v4.75h-5.17zM59.01 520.17h5.17v4.75h-5.17zM70.44 520.17h5.17v4.75h-5.17zM116.17 520.17h5.17v4.75h-5.17zM127.60 520.17h5.17v4.75h-5.17zM139.03 520.17h5.17v4.75h-5.17zM47.57 525.47h5.17v4.75h-5.17zM64.72 525.47h5.17v4.75h-5.17zM70.44 525.47h5.17v4.75h-5.17zM87.59 525.47h5.17v4.75h-5.17zM127.60 525.47h5.17v4.75h-5.17zM150.46 525.47h5.17v4.75h-5.17zM64.72 530.77h5.17v4.75h-5.17zM70.44 530.77h5.17v4.75h-5.17zM76.16 530.77h5.17v4.75h-5.17zM70.44 536.07h5.17v4.75h-5.17zM64.72 541.37h5.17v4.75h-5.17zM70.44 541.37h5.17v4.75h-5.17zM76.16 541.37h5.17v4.75h-5.17zM167.61 546.67h5.17v4.75h-5.17zM64.72 557.27h5.17v4.75h-5.17zM70.44 557.27h5.17v4.75h-5.17zM76.16 557.27h5.17v4.75h-5.17zM127.60 557.27h5.17v4.75h-5.17zM139.03 557.27h5.17v4.75h-5.17zM53.29 562.57h5.17v4.75h-5.17zM64.72 562.57h5.17v4.75h-5.17zM70.44 562.57h5.17v4.75h-5.17zM76.16 562.57h5.17v4.75h-5.17zM64.72 567.87h5.17v4.75h-5.17zM70.44 567.87h5.17v4.75h-5.17zM76.16 567.87h5.17v4.75h-5.17zM139.03 567.87h5.17v4.75h-5.17zM70.44 573.17h5.17v4.75h-5.17zM127.60 573.17h5.17v4.75h-5.17zM144.75 573.17h5.17v4.75h-5.17zM70.44 578.47h5.17v4.75h-5.17zM133.32 578.47h5.17v4.75h-5.17zM139.03 578.47h5.17v4.75h-5.17zM161.90 578.47h5.17v4.75h-5.17zM59.01 583.77h5.17v4.75h-5.17zM76.16 583.77h5.17v4.75h-5.17zM127.60 583.77h5.17v4.75h-5.17zM139.03 583.77h5.17v4.75h-5.17zM179.04 583.77h5.17v4.75h-5.17zM59.01 589.07h5.17v4.75h-5.17zM64.72 589.07h5.17v4.75h-5.17zM70.44 589.07h5.17v4.75h-5.17zM76.16 589.07h5.17v4.75h-5.17zM64.72 594.37h5.17v4.75h-5.17zM70.44 594.37h5.17v4.75h-5.17zM127.60 594.37h5.17v4.75h-5.17zM133.32 594.37h5.17v4.75h-5.17zM139.03 594.37h5.17v4.75h-5.17zM47.57 599.67h5.17v4.75h-5.17zM64.72 599.67h5.17v4.75h-5.17zM70.44 599.67h5.17v4.75h-5.17zM76.16 599.67h5.17v4.75h-5.17zM127.60 599.67h5.17v4.75h-5.17zM179.04 599.67h5.17v4.75h-5.17zM59.01 604.97h5.17v4.75h-5.17zM64.72 604.97h5.17v4.75h-5.17zM70.44 604.97h5.17v4.75h-5.17zM76.16 604.97h5.17v4.75h-5.17zM127.60 604.97h5.17v4.75h-5.17zM70.44 610.27h5.17v4.75h-5.17zM59.01 615.57h5.17v4.75h-5.17zM64.72 615.57h5.17v4.75h-5.17zM70.44 615.57h5.17v4.75h-5.17zM76.16 615.57h5.17v4.75h-5.17zM81.87 615.57h5.17v4.75h-5.17zM127.60 615.57h5.17v4.75h-5.17zM133.32 615.57h5.17v4.75h-5.17zM139.03 615.57h5.17v4.75h-5.17zM59.01 620.87h5.17v4.75h-5.17zM64.72 620.87h5.17v4.75h-5.17zM116.17 620.87h5.17v4.75h-5.17zM133.32 620.87h5.17v4.75h-5.17zM64.72 626.17h5.17v4.75h-5.17zM70.44 626.17h5.17v4.75h-5.17zM76.16 626.17h5.17v4.75h-5.17zM116.17 626.17h5.17v4.75h-5.17zM127.60 626.17h5.17v4.75h-5.17zM59.01 631.47h5.17v4.75h-5.17zM64.72 631.47h5.17v4.75h-5.17zM70.44 631.47h5.17v4.75h-5.17zM76.16 631.47h5.17v4.75h-5.17zM87.59 631.47h5.17v4.75h-5.17zM116.17 631.47h5.17v4.75h-5.17zM64.72 636.77h5.17v4.75h-5.17zM76.16 636.77h5.17v4.75h-5.17zM93.30 636.77h5.17v4.75h-5.17zM116.17 636.77h5.17v4.75h-5.17zM127.60 636.77h5.17v4.75h-5.17zM59.01 642.07h5.17v4.75h-5.17zM64.72 642.07h5.17v4.75h-5.17zM70.44 642.07h5.17v4.75h-5.17zM116.17 642.07h5.17v4.75h-5.17zM133.32 642.07h5.17v4.75h-5.17zM150.46 642.07h5.17v4.75h-5.17z"/>
<path fill="#560950" d="M81.87 32.57h5.17v4.75h-5.17zM139.03 32.57h5.17v4.75h-5.17zM133.32 37.87h5.17v4.75h-5.17zM81.87 43.17h5.17v4.75h-5.17zM139.03 43.17h5.17v4.75h-5.17zM139.03 48.47h5.17v4.75h-5.17zM150.46 48.47h5.17v4.75h-5.17zM139.03 53.77h5.17v4.75h-5.17zM139.03 59.07h5.17v4.75h-5.17zM150.46 59.07h5.17v4.75h-5.17zM139.03 64.38h5.17v4.75h-5.17zM139.03 69.68h5.17v4.75h-5.17zM150.46 69.68h5.17v4.75h-5.17zM81.87 74.97h5.17v4.75h-5.17zM139.03 74.97h5.17v4.75h-5.17zM150.46 74.97h5.17v4.75h-5.17zM110.45 80.28h5.17v4.75h-5.17zM156.18 80.28h5.17v4.75h-5.17zM167.61 85.58h5.17v4.75h-5.17zM173.33 85.58h5.17v4.75h-5.17zM47.57 90.88h5.17v4.75h-5.17zM156.18 90.88h5.17v4.75h-5.17zM167.61 90.88h5.17v4.75h-5.17zM173.33 90.88h5.17v4.75h-5.17zM161.90 96.17h5.17v4.75h-5.17zM167.61 96.17h5.17v4.75h-5.17zM173.33 96.17h5.17v4.75h-5.17zM167.61 101.47h5.17v4.75h-5.17zM167.61 106.78h5.17v4.75h-5.17zM156.18 112.08h5.17v4.75h-5.17zM161.90 112.08h5.17v4.75h-5.17zM87.59 117.38h5.17v4.75h-5.17zM167.61 117.38h5.17v4.75h-5.17zM173.33 117.38h5.17v4.75h-5.17zM81.87 122.67h5.17v4.75h-5.17zM139.03 122.67h5.17v4.75h-5.17zM156.18 127.97h5.17v4.75h-5.17zM173.33 127.97h5.17v4.75h-5.17zM93.30 133.28h5.17v4.75h-5.17zM167.61 133.28h5.17v4.75h-5.17zM167.61 138.58h5.17v4.75h-5.17zM167.61 143.88h5.17v4.75h-5.17zM81.87 149.17h5.17v4.75h-5.17zM139.03 149.17h5.17v4.75h-5.17zM156.18 154.47h5.17v4.75h-5.17zM167.61 159.78h5.17v4.75h-5.17zM167.61 180.97h5.17v4.75h-5.17zM161.90 191.58h5.17v4.75h-5.17zM81.87 202.17h5.17v4.75h-5.17zM156.18 202.17h5.17v4.75h-5.17zM161.90 202.17h5.17v4.75h-5.17zM179.04 202.17h5.17v4.75h-5.17zM93.30 207.47h5.17v4.75h-5.17zM144.75 207.47h5.17v4.75h-5.17zM150.46 207.47h5.17v4.75h-5.17zM161.90 207.47h5.17v4.75h-5.17zM179.04 218.08h5.17v4.75h-5.17zM70.44 223.37h5.17v4.75h-5.17zM70.44 228.67h5.17v4.75h-5.17zM87.59 228.67h5.17v4.75h-5.17zM173.33 228.67h5.17v4.75h-5.17zM53.29 233.97h5.17v4.75h-5.17zM70.44 233.97h5.17v4.75h-5.17zM156.18 233.97h5.17v4.75h-5.17zM161.90 233.97h5.17v4.75h-5.17zM179.04 233.97h5.17v4.75h-5.17zM53.29 239.28h5.17v4.75h-5.17zM70.44 244.58h5.17v4.75h-5.17zM70.44 249.87h5.17v4.75h-5.17zM179.04 249.87h5.17v4.75h-5.17zM70.44 255.17h5.17v4.75h-5.17zM53.29 260.47h5.17v4.75h-5.17zM161.90 260.47h5.17v4.75h-5.17zM156.18 265.77h5.17v4.75h-5.17zM179.04 271.07h5.17v4.75h-5.17zM161.90 276.37h5.17v4.75h-5.17zM179.04 276.37h5.17v4.75h-5.17zM156.18 281.67h5.17v4.75h-5.17zM59.01 286.97h5.17v4.75h-5.17zM64.72 286.97h5.17v4.75h-5.17zM64.72 292.27h5.17v4.75h-5.17zM64.72 297.57h5.17v4.75h-5.17zM59.01 302.88h5.17v4.75h-5.17zM93.30 302.88h5.17v4.75h-5.17zM53.29 308.17h5.17v4.75h-5.17zM64.72 308.17h5.17v4.75h-5.17zM81.87 308.17h5.17v4.75h-5.17zM64.72 313.47h5.17v4.75h-5.17zM64.72 318.77h5.17v4.75h-5.17zM53.29 324.07h5.17v4.75h-5.17zM64.72 324.07h5.17v4.75h-5.17zM53.29 329.38h5.17v4.75h-5.17zM64.72 329.38h5.17v4.75h-5.17zM144.75 329.38h5.17v4.75h-5.17zM173.33 334.67h5.17v4.75h-5.17zM59.01 339.97h5.17v4.75h-5.17zM64.72 339.97h5.17v4.75h-5.17zM53.29 350.57h5.17v4.75h-5.17zM64.72 350.57h5.17v4.75h-5.17zM99.02 355.88h5.17v4.75h-5.17zM104.74 355.88h5.17v4.75h-5.17zM110.45 355.88h5.17v4.75h-5.17zM116.17 355.88h5.17v4.75h-5.17zM127.60 355.88h5.17v4.75h-5.17zM144.75 355.88h5.17v4.75h-5.17zM104.74 361.17h5.17v4.75h-5.17zM116.17 361.17h5.17v4.75h-5.17zM121.88 361.17h5.17v4.75h-5.17zM110.45 366.47h5.17v4.75h-5.17zM116.17 366.47h5.17v4.75h-5.17zM121.88 366.47h5.17v4.75h-5.17zM93.30 371.77h5.17v4.75h-5.17zM104.74 371.77h5.17v4.75h-5.17zM110.45 371.77h5.17v4.75h-5.17zM116.17 371.77h5.17v4.75h-5.17zM161.90 371.77h5.17v4.75h-5.17zM104.74 377.07h5.17v4.75h-5.17zM110.45 377.07h5.17v4.75h-5.17zM116.17 377.07h5.17v4.75h-5.17zM121.88 377.07h5.17v4.75h-5.17zM110.45 382.38h5.17v4.75h-5.17zM121.88 382.38h5.17v4.75h-5.17zM167.61 382.38h5.17v4.75h-5.17zM104.74 387.67h5.17v4.75h-5.17zM116.17 387.67h5.17v4.75h-5.17zM121.88 387.67h5.17v4.75h-5.17zM87.59 392.97h5.17v4.75h-5.17zM104.74 392.97h5.17v4.75h-5.17zM110.45 392.97h5.17v4.75h-5.17zM116.17 392.97h5.17v4.75h-5.17zM121.88 392.97h5.17v4.75h-5.17zM104.74 398.27h5.17v4.75h-5.17zM110.45 398.27h5.17v4.75h-5.17zM116.17 398.27h5.17v4.75h-5.17zM121.88 398.27h5.17v4.75h-5.17zM104.74 403.57h5.17v4.75h-5.17zM110.45 403.57h5.17v4.75h-5.17zM116.17 403.57h5.17v4.75h-5.17zM121.88 403.57h5.17v4.75h-5.17zM104.74 408.88h5.17v4.75h-5.17zM110.45 408.88h5.17v4.75h-5.17zM121.88 408.88h5.17v4.75h-5.17zM144.75 408.88h5.17v4.75h-5.17zM99.02 414.17h5.17v4.75h-5.17zM104.74 414.17h5.17v4.75h-5.17zM110.45 414.17h5.17v4.75h-5.17zM116.17 414.17h5.17v4.75h-5.17zM121.88 414.17h5.17v4.75h-5.17zM144.75 414.17h5.17v4.75h-5.17zM104.74 419.47h5.17v4.75h-5.17zM110.45 419.47h5.17v4.75h-5.17zM99.02 424.77h5.17v4.75h-5.17zM116.17 424.77h5.17v4.75h-5.17zM121.88 424.77h5.17v4.75h-5.17zM93.30 430.07h5.17v4.75h-5.17zM104.74 430.07h5.17v4.75h-5.17zM110.45 430.07h5.17v4.75h-5.17zM116.17 430.07h5.17v4.75h-5.17zM121.88 430.07h5.17v4.75h-5.17zM139.03 430.07h5.17v4.75h-5.17zM99.02 435.38h5.17v4.75h-5.17zM110.45 435.38h5.17v4.75h-5.17zM116.17 435.38h5.17v4.75h-5.17zM121.88 435.38h5.17v4.75h-5.17zM110.45 440.67h5.17v4.75h-5.17zM116.17 440.67h5.17v4.75h-5.17zM121.88 440.67h5.17v4.75h-5.17zM139.03 440.67h5.17v4.75h-5.17zM104.74 445.97h5.17v4.75h-5.17zM110.45 445.97h5.17v4.75h-5.17zM116.17 445.97h5.17v4.75h-5.17zM121.88 445.97h5.17v4.75h-5.17zM104.74 451.27h5.17v4.75h-5.17zM110.45 451.27h5.17v4.75h-5.17zM116.17 451.27h5.17v4.75h-5.17zM110.45 456.57h5.17v4.75h-5.17zM116.17 456.57h5.17v4.75h-5.17zM121.88 456.57h5.17v4.75h-5.17zM179.04 456.57h5.17v4.75h-5.17zM104.74 461.88h5.17v4.75h-5.17zM110.45 461.88h5.17v4.75h-5.17zM116.17 461.88h5.17v4.75h-5.17zM121.88 461.88h5.17v4.75h-5.17zM104.74 467.17h5.17v4.75h-5.17zM110.45 467.17h5.17v4.75h-5.17zM121.88 467.17h5.17v4.75h-5.17zM87.59 488.38h5.17v4.75h-5.17zM87.59 514.88h5.17v4.75h-5.17zM76.16 520.17h5.17v4.75h-5.17zM76.16 525.47h5.17v4.75h-5.17zM156.18 525.47h5.17v4.75h-5.17zM64.72 536.07h5.17v4.75h-5.17zM76.16 536.07h5.17v4.75h-5.17zM64.72 573.17h5.17v4.75h-5.17zM59.01 578.47h5.17v4.75h-5.17zM127.60 578.47h5.17v4.75h-5.17zM87.59 583.77h5.17v4.75h-5.17zM59.01 594.37h5.17v4.75h-5.17zM76.16 594.37h5.17v4.75h-5.17zM116.17 594.37h5.17v4.75h-5.17zM116.17 615.57h5.17v4.75h-5.17zM70.44 620.87h5.17v4.75h-5.17zM76.16 620.87h5.17v4.75h-5.17zM127.60 620.87h5.17v4.75h-5.17zM59.01 626.17h5.17v4.75h-5.17zM127.60 631.47h5.17v4.75h-5.17zM133.32 631.47h5.17v4.75h-5.17zM59.01 636.77h5.17v4.75h-5.17zM70.44 636.77h5.17v4.75h-5.17zM76.16 642.07h5.17v4.75h-5.17zM127.60 642.07h5.17v4.75h-5.17z"/>
<path fill="#043724" d="M87.59 32.57h5.17v4.75h-5.17zM93.30 32.57h5.17v4.75h-5.17zM104.74 32.57h5.17v4.75h-5.17zM110.45 32.57h5.17v4.75h-5.17zM87.59 37.87h5.17v4.75h-5.17zM93.30 37.87h5.17v4.75h-5.17zM104.74 37.87h5.17v4.75h-5.17zM110.45 37.87h5.17v4.75h-5.17zM87.59 43.17h5.17v4.75h-5.17zM93.30 43.17h5.17v4.75h-5.17zM104.74 43.17h5.17v4.75h-5.17zM110.45 43.17h5.17v4.75h-5.17zM116.17 43.17h5.17v4.75h-5.17zM121.88 43.17h5.17v4.75h-5.17zM167.61 43.17h5.17v4.75h-5.17zM53.29 48.47h5.17v4.75h-5.17zM59.01 48.47h5.17v4.75h-5.17zM64.72 48.47h5.17v4.75h-5.17zM87.59 48.47h5.17v4.75h-5.17zM93.30 48.47h5.17v4.75h-5.17zM104.74 48.47h5.17v4.75h-5.17zM110.45 48.47h5.17v4.75h-5.17zM116.17 48.47h5.17v4.75h-5.17zM87.59 53.77h5.17v4.75h-5.17zM93.30 53.77h5.17v4.75h-5.17zM104.74 53.77h5.17v4.75h-5.17zM110.45 53.77h5.17v4.75h-5.17zM121.88 53.77h5.17v4.75h-5.17zM156.18 53.77h5.17v4.75h-5.17zM87.59 59.07h5.17v4.75h-5.17zM93.30 59.07h5.17v4.75h-5.17zM104.74 59.07h5.17v4.75h-5.17zM110.45 59.07h5.17v4.75h-5.17zM116.17 59.07h5.17v4.75h-5.17zM64.72 64.38h5.17v4.75h-5.17zM87.59 64.38h5.17v4.75h-5.17zM93.30 64.38h5.17v4.75h-5.17zM104.74 64.38h5.17v4.75h-5.17zM110.45 64.38h5.17v4.75h-5.17zM167.61 64.38h5.17v4.75h-5.17zM87.59 69.68h5.17v4.75h-5.17zM93.30 69.68h5.17v4.75h-5.17zM104.74 69.68h5.17v4.75h-5.17zM110.45 69.68h5.17v4.75h-5.17zM121.88 69.68h5.17v4.75h-5.17zM167.61 69.68h5.17v4.75h-5.17zM87.59 74.97h5.17v4.75h-5.17zM93.30 74.97h5.17v4.75h-5.17zM110.45 74.97h5.17v4.75h-5.17zM156.18 74.97h5.17v4.75h-5.17zM161.90 74.97h5.17v4.75h-5.17zM87.59 80.28h5.17v4.75h-5.17zM93.30 80.28h5.17v4.75h-5.17zM121.88 80.28h5.17v4.75h-5.17zM87.59 85.58h5.17v4.75h-5.17zM93.30 85.58h5.17v4.75h-5.17zM104.74 85.58h5.17v4.75h-5.17zM121.88 85.58h5.17v4.75h-5.17zM127.60 85.58h5.17v4.75h-5.17zM133.32 85.58h5.17v4.75h-5.17zM150.46 85.58h5.17v4.75h-5.17zM64.72 90.88h5.17v4.75h-5.17zM81.87 90.88h5.17v4.75h-5.17zM87.59 90.88h5.17v4.75h-5.17zM93.30 90.88h5.17v4.75h-5.17zM104.74 90.88h5.17v4.75h-5.17zM110.45 90.88h5.17v4.75h-5.17zM127.60 90.88h5.17v4.75h-5.17zM70.44 96.17h5.17v4.75h-5.17zM81.87 96.17h5.17v4.75h-5.17zM110.45 96.17h5.17v4.75h-5.17zM139.03 101.47h5.17v4.75h-5.17zM99.02 106.78h5.17v4.75h-5.17zM110.45 106.78h5.17v4.75h-5.17zM121.88 106.78h5.17v4.75h-5.17zM127.60 106.78h5.17v4.75h-5.17zM47.57 112.08h5.17v4.75h-5.17zM104.74 112.08h5.17v4.75h-5.17zM110.45 112.08h5.17v4.75h-5.17zM116.17 112.08h5.17v4.75h-5.17zM116.17 117.38h5.17v4.75h-5.17zM121.88 117.38h5.17v4.75h-5.17zM47.57 122.67h5.17v4.75h-5.17zM104.74 122.67h5.17v4.75h-5.17zM110.45 122.67h5.17v4.75h-5.17zM121.88 122.67h5.17v4.75h-5.17zM161.90 122.67h5.17v4.75h-5.17zM150.46 127.97h5.17v4.75h-5.17zM161.90 127.97h5.17v4.75h-5.17zM87.59 133.28h5.17v4.75h-5.17zM133.32 133.28h5.17v4.75h-5.17zM150.46 133.28h5.17v4.75h-5.17zM59.01 138.58h5.17v4.75h-5.17zM59.01 143.88h5.17v4.75h-5.17zM156.18 143.88h5.17v4.75h-5.17zM161.90 143.88h5.17v4.75h-5.17zM87.59 149.17h5.17v4.75h-5.17zM93.30 149.17h5.17v4.75h-5.17zM104.74 149.17h5.17v4.75h-5.17zM110.45 149.17h5.17v4.75h-5.17zM116.17 149.17h5.17v4.75h-5.17zM150.46 149.17h5.17v4.75h-5.17zM53.29 154.47h5.17v4.75h-5.17zM104.74 154.47h5.17v4.75h-5.17zM161.90 154.47h5.17v4.75h-5.17zM87.59 159.78h5.17v4.75h-5.17zM93.30 159.78h5.17v4.75h-5.17zM104.74 159.78h5.17v4.75h-5.17zM110.45 159.78h5.17v4.75h-5.17zM116.17 159.78h5.17v4.75h-5.17zM104.74 165.08h5.17v4.75h-5.17zM150.46 165.08h5.17v4.75h-5.17zM70.44 170.37h5.17v4.75h-5.17zM104.74 170.37h5.17v4.75h-5.17zM110.45 170.37h5.17v4.75h-5.17zM150.46 170.37h5.17v4.75h-5.17zM161.90 170.37h5.17v4.75h-5.17zM76.16 175.67h5.17v4.75h-5.17zM104.74 175.67h5.17v4.75h-5.17zM110.45 175.67h5.17v4.75h-5.17zM156.18 175.67h5.17v4.75h-5.17zM173.33 175.67h5.17v4.75h-5.17zM47.57 180.97h5.17v4.75h-5.17zM64.72 180.97h5.17v4.75h-5.17zM104.74 180.97h5.17v4.75h-5.17zM110.45 180.97h5.17v4.75h-5.17zM144.75 180.97h5.17v4.75h-5.17zM150.46 180.97h5.17v4.75h-5.17zM64.72 186.28h5.17v4.75h-5.17zM70.44 186.28h5.17v4.75h-5.17zM87.59 186.28h5.17v4.75h-5.17zM93.30 186.28h5.17v4.75h-5.17zM104.74 186.28h5.17v4.75h-5.17zM110.45 186.28h5.17v4.75h-5.17zM47.57 191.58h5.17v4.75h-5.17zM53.29 191.58h5.17v4.75h-5.17zM64.72 191.58h5.17v4.75h-5.17zM87.59 191.58h5.17v4.75h-5.17zM93.30 191.58h5.17v4.75h-5.17zM104.74 191.58h5.17v4.75h-5.17zM110.45 191.58h5.17v4.75h-5.17zM121.88 191.58h5.17v4.75h-5.17zM47.57 196.87h5.17v4.75h-5.17zM81.87 196.87h5.17v4.75h-5.17zM87.59 196.87h5.17v4.75h-5.17zM93.30 196.87h5.17v4.75h-5.17zM110.45 196.87h5.17v4.75h-5.17zM87.59 202.17h5.17v4.75h-5.17zM47.57 207.47h5.17v4.75h-5.17zM87.59 207.47h5.17v4.75h-5.17zM99.02 207.47h5.17v4.75h-5.17zM104.74 207.47h5.17v4.75h-5.17zM116.17 207.47h5.17v4.75h-5.17zM139.03 207.47h5.17v4.75h-5.17zM64.72 212.78h5.17v4.75h-5.17zM87.59 212.78h5.17v4.75h-5.17zM93.30 212.78h5.17v4.75h-5.17zM104.74 212.78h5.17v4.75h-5.17zM110.45 212.78h5.17v4.75h-5.17zM59.01 218.08h5.17v4.75h-5.17zM87.59 218.08h5.17v4.75h-5.17zM93.30 218.08h5.17v4.75h-5.17zM104.74 218.08h5.17v4.75h-5.17zM110.45 218.08h5.17v4.75h-5.17zM116.17 218.08h5.17v4.75h-5.17zM121.88 218.08h5.17v4.75h-5.17zM133.32 218.08h5.17v4.75h-5.17zM173.33 218.08h5.17v4.75h-5.17zM59.01 223.37h5.17v4.75h-5.17zM104.74 223.37h5.17v4.75h-5.17zM110.45 223.37h5.17v4.75h-5.17zM59.01 228.67h5.17v4.75h-5.17zM64.72 228.67h5.17v4.75h-5.17zM76.16 228.67h5.17v4.75h-5.17zM121.88 228.67h5.17v4.75h-5.17zM110.45 233.97h5.17v4.75h-5.17zM116.17 233.97h5.17v4.75h-5.17zM127.60 233.97h5.17v4.75h-5.17zM133.32 233.97h5.17v4.75h-5.17zM150.46 233.97h5.17v4.75h-5.17zM121.88 239.28h5.17v4.75h-5.17zM47.57 244.58h5.17v4.75h-5.17zM87.59 244.58h5.17v4.75h-5.17zM93.30 244.58h5.17v4.75h-5.17zM104.74 244.58h5.17v4.75h-5.17zM110.45 244.58h5.17v4.75h-5.17zM133.32 244.58h5.17v4.75h-5.17zM59.01 249.87h5.17v4.75h-5.17zM121.88 249.87h5.17v4.75h-5.17zM167.61 249.87h5.17v4.75h-5.17zM173.33 249.87h5.17v4.75h-5.17zM116.17 255.17h5.17v4.75h-5.17zM121.88 255.17h5.17v4.75h-5.17zM133.32 255.17h5.17v4.75h-5.17zM144.75 255.17h5.17v4.75h-5.17zM184.76 255.17h5.17v4.75h-5.17zM59.01 260.47h5.17v4.75h-5.17zM76.16 260.47h5.17v4.75h-5.17zM110.45 260.47h5.17v4.75h-5.17zM116.17 260.47h5.17v4.75h-5.17zM121.88 260.47h5.17v4.75h-5.17zM127.60 260.47h5.17v4.75h-5.17zM87.59 265.77h5.17v4.75h-5.17zM93.30 265.77h5.17v4.75h-5.17zM104.74 265.77h5.17v4.75h-5.17zM121.88 265.77h5.17v4.75h-5.17zM127.60 265.77h5.17v4.75h-5.17zM144.75 265.77h5.17v4.75h-5.17zM64.72 271.07h5.17v4.75h-5.17zM121.88 271.07h5.17v4.75h-5.17zM144.75 271.07h5.17v4.75h-5.17zM127.60 276.37h5.17v4.75h-5.17zM59.01 281.67h5.17v4.75h-5.17zM76.16 281.67h5.17v4.75h-5.17zM87.59 281.67h5.17v4.75h-5.17zM93.30 281.67h5.17v4.75h-5.17zM104.74 281.67h5.17v4.75h-5.17zM116.17 281.67h5.17v4.75h-5.17zM104.74 286.97h5.17v4.75h-5.17zM110.45 286.97h5.17v4.75h-5.17zM116.17 286.97h5.17v4.75h-5.17zM121.88 286.97h5.17v4.75h-5.17zM87.59 292.27h5.17v4.75h-5.17zM93.30 292.27h5.17v4.75h-5.17zM104.74 292.27h5.17v4.75h-5.17zM110.45 292.27h5.17v4.75h-5.17zM133.32 292.27h5.17v4.75h-5.17zM47.57 297.57h5.17v4.75h-5.17zM87.59 297.57h5.17v4.75h-5.17zM93.30 297.57h5.17v4.75h-5.17zM104.74 297.57h5.17v4.75h-5.17zM110.45 297.57h5.17v4.75h-5.17zM116.17 297.57h5.17v4.75h-5.17zM121.88 297.57h5.17v4.75h-5.17zM156.18 297.57h5.17v4.75h-5.17zM184.76 297.57h5.17v4.75h-5.17zM121.88 302.88h5.17v4.75h-5.17zM179.04 302.88h5.17v4.75h-5.17zM110.45 308.17h5.17v4.75h-5.17zM116.17 308.17h5.17v4.75h-5.17zM121.88 308.17h5.17v4.75h-5.17zM99.02 313.47h5.17v4.75h-5.17zM104.74 313.47h5.17v4.75h-5.17zM110.45 313.47h5.17v4.75h-5.17zM116.17 313.47h5.17v4.75h-5.17zM121.88 313.47h5.17v4.75h-5.17zM104.74 318.77h5.17v4.75h-5.17zM110.45 318.77h5.17v4.75h-5.17zM116.17 318.77h5.17v4.75h-5.17zM47.57 324.07h5.17v4.75h-5.17zM87.59 324.07h5.17v4.75h-5.17zM93.30 324.07h5.17v4.75h-5.17zM104.74 324.07h5.17v4.75h-5.17zM110.45 324.07h5.17v4.75h-5.17zM133.32 324.07h5.17v4.75h-5.17zM184.76 324.07h5.17v4.75h-5.17zM87.59 329.38h5.17v4.75h-5.17zM93.30 329.38h5.17v4.75h-5.17zM104.74 329.38h5.17v4.75h-5.17zM110.45 329.38h5.17v4.75h-5.17zM179.04 329.38h5.17v4.75h-5.17zM139.03 334.67h5.17v4.75h-5.17zM87.59 339.97h5.17v4.75h-5.17zM104.74 339.97h5.17v4.75h-5.17zM110.45 339.97h5.17v4.75h-5.17zM116.17 339.97h5.17v4.75h-5.17zM121.88 339.97h5.17v4.75h-5.17zM127.60 339.97h5.17v4.75h-5.17zM150.46 339.97h5.17v4.75h-5.17zM87.59 345.27h5.17v4.75h-5.17zM110.45 345.27h5.17v4.75h-5.17zM133.32 345.27h5.17v4.75h-5.17zM139.03 345.27h5.17v4.75h-5.17zM144.75 345.27h5.17v4.75h-5.17zM87.59 350.57h5.17v4.75h-5.17zM99.02 350.57h5.17v4.75h-5.17zM104.74 350.57h5.17v4.75h-5.17zM110.45 350.57h5.17v4.75h-5.17zM116.17 350.57h5.17v4.75h-5.17zM127.60 350.57h5.17v4.75h-5.17zM76.16 355.88h5.17v4.75h-5.17zM53.29 361.17h5.17v4.75h-5.17zM76.16 361.17h5.17v4.75h-5.17zM81.87 361.17h5.17v4.75h-5.17zM53.29 366.47h5.17v4.75h-5.17zM64.72 366.47h5.17v4.75h-5.17zM64.72 371.77h5.17v4.75h-5.17zM87.59 371.77h5.17v4.75h-5.17zM53.29 377.07h5.17v4.75h-5.17zM59.01 377.07h5.17v4.75h-5.17zM173.33 377.07h5.17v4.75h-5.17zM184.76 377.07h5.17v4.75h-5.17zM47.57 382.38h5.17v4.75h-5.17zM64.72 382.38h5.17v4.75h-5.17zM70.44 382.38h5.17v4.75h-5.17zM87.59 382.38h5.17v4.75h-5.17zM70.44 387.67h5.17v4.75h-5.17zM76.16 387.67h5.17v4.75h-5.17zM87.59 387.67h5.17v4.75h-5.17zM93.30 387.67h5.17v4.75h-5.17zM139.03 387.67h5.17v4.75h-5.17zM59.01 392.97h5.17v4.75h-5.17zM70.44 392.97h5.17v4.75h-5.17zM81.87 392.97h5.17v4.75h-5.17zM167.61 392.97h5.17v4.75h-5.17zM59.01 398.27h5.17v4.75h-5.17zM70.44 398.27h5.17v4.75h-5.17zM76.16 398.27h5.17v4.75h-5.17zM81.87 398.27h5.17v4.75h-5.17zM59.01 403.57h5.17v4.75h-5.17zM70.44 403.57h5.17v4.75h-5.17zM76.16 403.57h5.17v4.75h-5.17zM81.87 403.57h5.17v4.75h-5.17zM87.59 403.57h5.17v4.75h-5.17zM173.33 403.57h5.17v4.75h-5.17zM64.72 408.88h5.17v4.75h-5.17zM70.44 408.88h5.17v4.75h-5.17zM76.16 408.88h5.17v4.75h-5.17zM87.59 408.88h5.17v4.75h-5.17zM173.33 408.88h5.17v4.75h-5.17zM47.57 414.17h5.17v4.75h-5.17zM76.16 414.17h5.17v4.75h-5.17zM87.59 414.17h5.17v4.75h-5.17zM93.30 414.17h5.17v4.75h-5.17zM139.03 414.17h5.17v4.75h-5.17zM53.29 419.47h5.17v4.75h-5.17zM76.16 419.47h5.17v4.75h-5.17zM87.59 419.47h5.17v4.75h-5.17zM93.30 419.47h5.17v4.75h-5.17zM156.18 419.47h5.17v4.75h-5.17zM184.76 419.47h5.17v4.75h-5.17zM167.61 424.77h5.17v4.75h-5.17zM173.33 424.77h5.17v4.75h-5.17zM47.57 430.07h5.17v4.75h-5.17zM53.29 430.07h5.17v4.75h-5.17zM64.72 430.07h5.17v4.75h-5.17zM87.59 430.07h5.17v4.75h-5.17zM150.46 430.07h5.17v4.75h-5.17zM167.61 430.07h5.17v4.75h-5.17zM87.59 435.38h5.17v4.75h-5.17zM93.30 435.38h5.17v4.75h-5.17zM167.61 435.38h5.17v4.75h-5.17zM173.33 435.38h5.17v4.75h-5.17zM184.76 435.38h5.17v4.75h-5.17zM87.59 440.67h5.17v4.75h-5.17zM93.30 440.67h5.17v4.75h-5.17zM87.59 445.97h5.17v4.75h-5.17zM93.30 445.97h5.17v4.75h-5.17zM173.33 445.97h5.17v4.75h-5.17zM53.29 451.27h5.17v4.75h-5.17zM87.59 451.27h5.17v4.75h-5.17zM93.30 451.27h5.17v4.75h-5.17zM184.76 451.27h5.17v4.75h-5.17zM76.16 456.57h5.17v4.75h-5.17zM87.59 456.57h5.17v4.75h-5.17zM93.30 456.57h5.17v4.75h-5.17zM144.75 456.57h5.17v4.75h-5.17zM150.46 456.57h5.17v4.75h-5.17zM167.61 456.57h5.17v4.75h-5.17zM184.76 456.57h5.17v4.75h-5.17zM53.29 461.88h5.17v4.75h-5.17zM76.16 461.88h5.17v4.75h-5.17zM87.59 461.88h5.17v4.75h-5.17zM93.30 461.88h5.17v4.75h-5.17zM173.33 461.88h5.17v4.75h-5.17zM184.76 461.88h5.17v4.75h-5.17zM70.44 467.17h5.17v4.75h-5.17zM76.16 467.17h5.17v4.75h-5.17zM87.59 467.17h5.17v4.75h-5.17zM93.30 467.17h5.17v4.75h-5.17zM184.76 467.17h5.17v4.75h-5.17zM47.57 472.47h5.17v4.75h-5.17zM99.02 472.47h5.17v4.75h-5.17zM104.74 472.47h5.17v4.75h-5.17zM110.45 472.47h5.17v4.75h-5.17zM87.59 477.77h5.17v4.75h-5.17zM93.30 477.77h5.17v4.75h-5.17zM104.74 477.77h5.17v4.75h-5.17zM110.45 477.77h5.17v4.75h-5.17zM87.59 483.07h5.17v4.75h-5.17zM93.30 483.07h5.17v4.75h-5.17zM99.02 483.07h5.17v4.75h-5.17zM104.74 483.07h5.17v4.75h-5.17zM110.45 483.07h5.17v4.75h-5.17zM156.18 483.07h5.17v4.75h-5.17zM161.90 483.07h5.17v4.75h-5.17zM167.61 483.07h5.17v4.75h-5.17zM184.76 483.07h5.17v4.75h-5.17zM99.02 488.38h5.17v4.75h-5.17zM104.74 488.38h5.17v4.75h-5.17zM110.45 488.38h5.17v4.75h-5.17zM121.88 488.38h5.17v4.75h-5.17zM167.61 488.38h5.17v4.75h-5.17zM184.76 488.38h5.17v4.75h-5.17zM47.57 493.67h5.17v4.75h-5.17zM93.30 493.67h5.17v4.75h-5.17zM104.74 493.67h5.17v4.75h-5.17zM110.45 493.67h5.17v4.75h-5.17zM116.17 493.67h5.17v4.75h-5.17zM156.18 493.67h5.17v4.75h-5.17zM179.04 493.67h5.17v4.75h-5.17zM184.76 493.67h5.17v4.75h-5.17zM93.30 498.97h5.17v4.75h-5.17zM104.74 498.97h5.17v4.75h-5.17zM110.45 498.97h5.17v4.75h-5.17zM161.90 498.97h5.17v4.75h-5.17zM167.61 498.97h5.17v4.75h-5.17zM53.29 504.27h5.17v4.75h-5.17zM59.01 504.27h5.17v4.75h-5.17zM87.59 504.27h5.17v4.75h-5.17zM93.30 504.27h5.17v4.75h-5.17zM99.02 504.27h5.17v4.75h-5.17zM110.45 504.27h5.17v4.75h-5.17zM116.17 504.27h5.17v4.75h-5.17zM121.88 504.27h5.17v4.75h-5.17zM47.57 509.57h5.17v4.75h-5.17zM104.74 509.57h5.17v4.75h-5.17zM173.33 509.57h5.17v4.75h-5.17zM93.30 514.88h5.17v4.75h-5.17zM99.02 514.88h5.17v4.75h-5.17zM104.74 514.88h5.17v4.75h-5.17zM110.45 514.88h5.17v4.75h-5.17zM184.76 514.88h5.17v4.75h-5.17zM87.59 520.17h5.17v4.75h-5.17zM93.30 520.17h5.17v4.75h-5.17zM104.74 520.17h5.17v4.75h-5.17zM110.45 520.17h5.17v4.75h-5.17zM184.76 520.17h5.17v4.75h-5.17zM93.30 525.47h5.17v4.75h-5.17zM99.02 525.47h5.17v4.75h-5.17zM104.74 525.47h5.17v4.75h-5.17zM110.45 525.47h5.17v4.75h-5.17zM87.59 530.77h5.17v4.75h-5.17zM93.30 530.77h5.17v4.75h-5.17zM104.74 530.77h5.17v4.75h-5.17zM110.45 530.77h5.17v4.75h-5.17zM150.46 530.77h5.17v4.75h-5.17zM167.61 530.77h5.17v4.75h-5.17zM179.04 530.77h5.17v4.75h-5.17zM184.76 530.77h5.17v4.75h-5.17zM93.30 536.07h5.17v4.75h-5.17zM104.74 536.07h5.17v4.75h-5.17zM110.45 536.07h5.17v4.75h-5.17zM121.88 536.07h5.17v4.75h-5.17zM184.76 536.07h5.17v4.75h-5.17zM87.59 541.37h5.17v4.75h-5.17zM93.30 541.37h5.17v4.75h-5.17zM99.02 541.37h5.17v4.75h-5.17zM104.74 541.37h5.17v4.75h-5.17zM110.45 541.37h5.17v4.75h-5.17zM156.18 541.37h5.17v4.75h-5.17zM179.04 541.37h5.17v4.75h-5.17zM87.59 546.67h5.17v4.75h-5.17zM93.30 546.67h5.17v4.75h-5.17zM104.74 546.67h5.17v4.75h-5.17zM110.45 546.67h5.17v4.75h-5.17zM150.46 546.67h5.17v4.75h-5.17zM156.18 546.67h5.17v4.75h-5.17zM99.02 551.97h5.17v4.75h-5.17zM104.74 551.97h5.17v4.75h-5.17zM110.45 551.97h5.17v4.75h-5.17zM121.88 551.97h5.17v4.75h-5.17zM133.32 551.97h5.17v4.75h-5.17zM150.46 551.97h5.17v4.75h-5.17zM184.76 551.97h5.17v4.75h-5.17zM93.30 557.27h5.17v4.75h-5.17zM99.02 557.27h5.17v4.75h-5.17zM104.74 557.27h5.17v4.75h-5.17zM110.45 557.27h5.17v4.75h-5.17zM161.90 557.27h5.17v4.75h-5.17zM167.61 557.27h5.17v4.75h-5.17zM59.01 562.57h5.17v4.75h-5.17zM93.30 562.57h5.17v4.75h-5.17zM99.02 562.57h5.17v4.75h-5.17zM104.74 562.57h5.17v4.75h-5.17zM110.45 562.57h5.17v4.75h-5.17zM116.17 562.57h5.17v4.75h-5.17zM156.18 562.57h5.17v4.75h-5.17zM93.30 567.87h5.17v4.75h-5.17zM99.02 567.87h5.17v4.75h-5.17zM104.74 567.87h5.17v4.75h-5.17zM110.45 567.87h5.17v4.75h-5.17zM150.46 567.87h5.17v4.75h-5.17zM184.76 567.87h5.17v4.75h-5.17zM99.02 573.17h5.17v4.75h-5.17zM104.74 573.17h5.17v4.75h-5.17zM110.45 573.17h5.17v4.75h-5.17zM93.30 578.47h5.17v4.75h-5.17zM99.02 578.47h5.17v4.75h-5.17zM104.74 578.47h5.17v4.75h-5.17zM110.45 578.47h5.17v4.75h-5.17zM184.76 578.47h5.17v4.75h-5.17zM104.74 583.77h5.17v4.75h-5.17zM110.45 583.77h5.17v4.75h-5.17zM167.61 583.77h5.17v4.75h-5.17zM184.76 583.77h5.17v4.75h-5.17zM93.30 589.07h5.17v4.75h-5.17zM99.02 589.07h5.17v4.75h-5.17zM104.74 589.07h5.17v4.75h-5.17zM110.45 589.07h5.17v4.75h-5.17zM104.74 594.37h5.17v4.75h-5.17zM110.45 594.37h5.17v4.75h-5.17zM173.33 594.37h5.17v4.75h-5.17zM184.76 594.37h5.17v4.75h-5.17zM93.30 599.67h5.17v4.75h-5.17zM104.74 599.67h5.17v4.75h-5.17zM110.45 599.67h5.17v4.75h-5.17zM156.18 599.67h5.17v4.75h-5.17zM161.90 599.67h5.17v4.75h-5.17zM184.76 599.67h5.17v4.75h-5.17zM93.30 604.97h5.17v4.75h-5.17zM161.90 604.97h5.17v4.75h-5.17zM167.61 604.97h5.17v4.75h-5.17zM184.76 604.97h5.17v4.75h-5.17zM93.30 610.27h5.17v4.75h-5.17zM99.02 610.27h5.17v4.75h-5.17zM104.74 610.27h5.17v4.75h-5.17zM110.45 610.27h5.17v4.75h-5.17zM167.61 610.27h5.17v4.75h-5.17zM184.76 610.27h5.17v4.75h-5.17zM53.29 615.57h5.17v4.75h-5.17zM99.02 615.57h5.17v4.75h-5.17zM161.90 615.57h5.17v4.75h-5.17zM173.33 615.57h5.17v4.75h-5.17zM179.04 615.57h5.17v4.75h-5.17zM104.74 620.87h5.17v4.75h-5.17zM110.45 620.87h5.17v4.75h-5.17zM161.90 620.87h5.17v4.75h-5.17zM99.02 626.17h5.17v4.75h-5.17zM110.45 626.17h5.17v4.75h-5.17zM161.90 626.17h5.17v4.75h-5.17zM167.61 626.17h5.17v4.75h-5.17zM173.33 626.17h5.17v4.75h-5.17zM184.76 626.17h5.17v4.75h-5.17zM179.04 631.47h5.17v4.75h-5.17zM184.76 631.47h5.17v4.75h-5.17zM53.29 636.77h5.17v4.75h-5.17zM144.75 636.77h5.17v4.75h-5.17zM156.18 636.77h5.17v4.75h-5.17zM173.33 636.77h5.17v4.75h-5.17zM179.04 636.77h5.17v4.75h-5.17zM184.76 636.77h5.17v4.75h-5.17zM99.02 642.07h5.17v4.75h-5.17zM110.45 642.07h5.17v4.75h-5.17zM167.61 642.07h5.17v4.75h-5.17zM184.76 642.07h5.17v4.75h-5.17zM179.04 647.37h5.17v4.75h-5.17zM184.76 647.37h5.17v4.75h-5.17z"/>
<path fill="#13a86e" d="M99.02 32.57h5.17v4.75h-5.17zM99.02 37.87h5.17v4.75h-5.17zM161.90 37.87h5.17v4.75h-5.17zM64.72 43.17h5.17v4.75h-5.17zM99.02 43.17h5.17v4.75h-5.17zM99.02 48.47h5.17v4.75h-5.17zM59.01 53.77h5.17v4.75h-5.17zM99.02 53.77h5.17v4.75h-5.17zM161.90 53.77h5.17v4.75h-5.17zM99.02 59.07h5.17v4.75h-5.17zM99.02 64.38h5.17v4.75h-5.17zM99.02 74.97h5.17v4.75h-5.17zM99.02 90.88h5.17v4.75h-5.17zM150.46 90.88h5.17v4.75h-5.17zM133.32 96.17h5.17v4.75h-5.17zM144.75 96.17h5.17v4.75h-5.17zM150.46 96.17h5.17v4.75h-5.17zM133.32 101.47h5.17v4.75h-5.17zM144.75 101.47h5.17v4.75h-5.17zM133.32 106.78h5.17v4.75h-5.17zM144.75 106.78h5.17v4.75h-5.17zM59.01 112.08h5.17v4.75h-5.17zM99.02 112.08h5.17v4.75h-5.17zM133.32 112.08h5.17v4.75h-5.17zM144.75 112.08h5.17v4.75h-5.17zM76.16 127.97h5.17v4.75h-5.17zM116.17 127.97h5.17v4.75h-5.17zM127.60 138.58h5.17v4.75h-5.17zM179.04 138.58h5.17v4.75h-5.17zM127.60 149.17h5.17v4.75h-5.17zM116.17 154.47h5.17v4.75h-5.17zM133.32 186.28h5.17v4.75h-5.17zM139.03 186.28h5.17v4.75h-5.17zM76.16 191.58h5.17v4.75h-5.17zM133.32 191.58h5.17v4.75h-5.17zM139.03 191.58h5.17v4.75h-5.17zM150.46 191.58h5.17v4.75h-5.17zM76.16 196.87h5.17v4.75h-5.17zM133.32 196.87h5.17v4.75h-5.17zM144.75 196.87h5.17v4.75h-5.17zM133.32 212.78h5.17v4.75h-5.17zM139.03 212.78h5.17v4.75h-5.17zM144.75 212.78h5.17v4.75h-5.17zM59.01 244.58h5.17v4.75h-5.17zM139.03 286.97h5.17v4.75h-5.17zM127.60 297.57h5.17v4.75h-5.17zM139.03 324.07h5.17v4.75h-5.17zM127.60 329.38h5.17v4.75h-5.17zM76.16 366.47h5.17v4.75h-5.17zM156.18 392.97h5.17v4.75h-5.17zM53.29 398.27h5.17v4.75h-5.17zM167.61 408.88h5.17v4.75h-5.17zM156.18 440.67h5.17v4.75h-5.17zM167.61 440.67h5.17v4.75h-5.17zM64.72 467.17h5.17v4.75h-5.17zM161.90 472.47h5.17v4.75h-5.17zM173.33 472.47h5.17v4.75h-5.17zM173.33 477.77h5.17v4.75h-5.17zM99.02 493.67h5.17v4.75h-5.17zM173.33 493.67h5.17v4.75h-5.17zM161.90 504.27h5.17v4.75h-5.17zM173.33 504.27h5.17v4.75h-5.17zM184.76 504.27h5.17v4.75h-5.17zM161.90 514.88h5.17v4.75h-5.17zM184.76 525.47h5.17v4.75h-5.17zM59.01 541.37h5.17v4.75h-5.17zM184.76 546.67h5.17v4.75h-5.17zM59.01 551.97h5.17v4.75h-5.17zM167.61 599.67h5.17v4.75h-5.17zM167.61 636.77h5.17v4.75h-5.17z"/>
<path fill="#1b0319" d="M127.60 32.57h5.17v4.75h-5.17zM144.75 32.57h5.17v4.75h-5.17zM144.75 37.87h5.17v4.75h-5.17zM179.04 37.87h5.17v4.75h-5.17zM47.57 43.17h5.17v4.75h-5.17zM53.29 43.17h5.17v4.75h-5.17zM144.75 43.17h5.17v4.75h-5.17zM156.18 43.17h5.17v4.75h-5.17zM167.61 48.47h5.17v4.75h-5.17zM173.33 48.47h5.17v4.75h-5.17zM144.75 59.07h5.17v4.75h-5.17zM156.18 59.07h5.17v4.75h-5.17zM179.04 59.07h5.17v4.75h-5.17zM76.16 64.38h5.17v4.75h-5.17zM127.60 64.38h5.17v4.75h-5.17zM144.75 64.38h5.17v4.75h-5.17zM179.04 64.38h5.17v4.75h-5.17zM76.16 69.68h5.17v4.75h-5.17zM127.60 69.68h5.17v4.75h-5.17zM144.75 69.68h5.17v4.75h-5.17zM76.16 74.97h5.17v4.75h-5.17zM127.60 74.97h5.17v4.75h-5.17zM144.75 74.97h5.17v4.75h-5.17zM53.29 80.28h5.17v4.75h-5.17zM59.01 80.28h5.17v4.75h-5.17zM81.87 80.28h5.17v4.75h-5.17zM99.02 80.28h5.17v4.75h-5.17zM104.74 80.28h5.17v4.75h-5.17zM139.03 80.28h5.17v4.75h-5.17zM161.90 80.28h5.17v4.75h-5.17zM81.87 85.58h5.17v4.75h-5.17zM110.45 85.58h5.17v4.75h-5.17zM184.76 85.58h5.17v4.75h-5.17zM53.29 90.88h5.17v4.75h-5.17zM116.17 90.88h5.17v4.75h-5.17zM179.04 90.88h5.17v4.75h-5.17zM184.76 90.88h5.17v4.75h-5.17zM53.29 101.47h5.17v4.75h-5.17zM59.01 101.47h5.17v4.75h-5.17zM81.87 101.47h5.17v4.75h-5.17zM110.45 101.47h5.17v4.75h-5.17zM116.17 101.47h5.17v4.75h-5.17zM156.18 101.47h5.17v4.75h-5.17zM184.76 101.47h5.17v4.75h-5.17zM179.04 106.78h5.17v4.75h-5.17zM184.76 106.78h5.17v4.75h-5.17zM179.04 112.08h5.17v4.75h-5.17zM64.72 117.38h5.17v4.75h-5.17zM133.32 117.38h5.17v4.75h-5.17zM161.90 117.38h5.17v4.75h-5.17zM53.29 122.67h5.17v4.75h-5.17zM59.01 122.67h5.17v4.75h-5.17zM64.72 122.67h5.17v4.75h-5.17zM76.16 122.67h5.17v4.75h-5.17zM93.30 122.67h5.17v4.75h-5.17zM167.61 122.67h5.17v4.75h-5.17zM81.87 127.97h5.17v4.75h-5.17zM99.02 127.97h5.17v4.75h-5.17zM184.76 127.97h5.17v4.75h-5.17zM99.02 133.28h5.17v4.75h-5.17zM161.90 133.28h5.17v4.75h-5.17zM179.04 133.28h5.17v4.75h-5.17zM184.76 133.28h5.17v4.75h-5.17zM99.02 138.58h5.17v4.75h-5.17zM144.75 138.58h5.17v4.75h-5.17zM99.02 143.88h5.17v4.75h-5.17zM139.03 143.88h5.17v4.75h-5.17zM144.75 143.88h5.17v4.75h-5.17zM173.33 143.88h5.17v4.75h-5.17zM64.72 149.17h5.17v4.75h-5.17zM70.44 149.17h5.17v4.75h-5.17zM76.16 149.17h5.17v4.75h-5.17zM133.32 149.17h5.17v4.75h-5.17zM167.61 149.17h5.17v4.75h-5.17zM99.02 154.47h5.17v4.75h-5.17zM139.03 154.47h5.17v4.75h-5.17zM144.75 154.47h5.17v4.75h-5.17zM173.33 154.47h5.17v4.75h-5.17zM184.76 154.47h5.17v4.75h-5.17zM47.57 159.78h5.17v4.75h-5.17zM81.87 159.78h5.17v4.75h-5.17zM99.02 159.78h5.17v4.75h-5.17zM139.03 159.78h5.17v4.75h-5.17zM156.18 159.78h5.17v4.75h-5.17zM184.76 159.78h5.17v4.75h-5.17zM70.44 165.08h5.17v4.75h-5.17zM173.33 165.08h5.17v4.75h-5.17zM184.76 165.08h5.17v4.75h-5.17zM53.29 170.37h5.17v4.75h-5.17zM81.87 170.37h5.17v4.75h-5.17zM99.02 170.37h5.17v4.75h-5.17zM139.03 170.37h5.17v4.75h-5.17zM144.75 170.37h5.17v4.75h-5.17zM184.76 170.37h5.17v4.75h-5.17zM81.87 175.67h5.17v4.75h-5.17zM99.02 175.67h5.17v4.75h-5.17zM139.03 175.67h5.17v4.75h-5.17zM167.61 175.67h5.17v4.75h-5.17zM184.76 175.67h5.17v4.75h-5.17zM93.30 180.97h5.17v4.75h-5.17zM156.18 180.97h5.17v4.75h-5.17zM161.90 180.97h5.17v4.75h-5.17zM184.76 180.97h5.17v4.75h-5.17zM116.17 186.28h5.17v4.75h-5.17zM184.76 186.28h5.17v4.75h-5.17zM156.18 191.58h5.17v4.75h-5.17zM184.76 191.58h5.17v4.75h-5.17zM116.17 196.87h5.17v4.75h-5.17zM184.76 196.87h5.17v4.75h-5.17zM53.29 202.17h5.17v4.75h-5.17zM64.72 202.17h5.17v4.75h-5.17zM76.16 202.17h5.17v4.75h-5.17zM99.02 202.17h5.17v4.75h-5.17zM104.74 202.17h5.17v4.75h-5.17zM133.32 202.17h5.17v4.75h-5.17zM139.03 202.17h5.17v4.75h-5.17zM150.46 202.17h5.17v4.75h-5.17zM167.61 202.17h5.17v4.75h-5.17zM184.76 202.17h5.17v4.75h-5.17zM59.01 207.47h5.17v4.75h-5.17zM81.87 207.47h5.17v4.75h-5.17zM110.45 207.47h5.17v4.75h-5.17zM121.88 207.47h5.17v4.75h-5.17zM184.76 207.47h5.17v4.75h-5.17zM161.90 212.78h5.17v4.75h-5.17zM179.04 212.78h5.17v4.75h-5.17zM184.76 212.78h5.17v4.75h-5.17zM47.57 218.08h5.17v4.75h-5.17zM81.87 218.08h5.17v4.75h-5.17zM99.02 218.08h5.17v4.75h-5.17zM156.18 218.08h5.17v4.75h-5.17zM184.76 218.08h5.17v4.75h-5.17zM64.72 223.37h5.17v4.75h-5.17zM81.87 223.37h5.17v4.75h-5.17zM87.59 223.37h5.17v4.75h-5.17zM93.30 223.37h5.17v4.75h-5.17zM127.60 223.37h5.17v4.75h-5.17zM133.32 223.37h5.17v4.75h-5.17zM150.46 223.37h5.17v4.75h-5.17zM161.90 223.37h5.17v4.75h-5.17zM47.57 228.67h5.17v4.75h-5.17zM167.61 228.67h5.17v4.75h-5.17zM87.59 233.97h5.17v4.75h-5.17zM139.03 233.97h5.17v4.75h-5.17zM184.76 233.97h5.17v4.75h-5.17zM64.72 239.28h5.17v4.75h-5.17zM81.87 239.28h5.17v4.75h-5.17zM127.60 239.28h5.17v4.75h-5.17zM133.32 239.28h5.17v4.75h-5.17zM173.33 239.28h5.17v4.75h-5.17zM184.76 239.28h5.17v4.75h-5.17zM99.02 244.58h5.17v4.75h-5.17zM156.18 244.58h5.17v4.75h-5.17zM161.90 244.58h5.17v4.75h-5.17zM167.61 244.58h5.17v4.75h-5.17zM184.76 244.58h5.17v4.75h-5.17zM81.87 249.87h5.17v4.75h-5.17zM99.02 249.87h5.17v4.75h-5.17zM139.03 249.87h5.17v4.75h-5.17zM150.46 249.87h5.17v4.75h-5.17zM184.76 249.87h5.17v4.75h-5.17zM81.87 255.17h5.17v4.75h-5.17zM87.59 255.17h5.17v4.75h-5.17zM161.90 255.17h5.17v4.75h-5.17zM167.61 255.17h5.17v4.75h-5.17zM173.33 255.17h5.17v4.75h-5.17zM87.59 260.47h5.17v4.75h-5.17zM99.02 260.47h5.17v4.75h-5.17zM150.46 260.47h5.17v4.75h-5.17zM156.18 260.47h5.17v4.75h-5.17zM184.76 260.47h5.17v4.75h-5.17zM110.45 265.77h5.17v4.75h-5.17zM150.46 265.77h5.17v4.75h-5.17zM184.76 265.77h5.17v4.75h-5.17zM81.87 271.07h5.17v4.75h-5.17zM87.59 271.07h5.17v4.75h-5.17zM99.02 271.07h5.17v4.75h-5.17zM184.76 271.07h5.17v4.75h-5.17zM104.74 276.37h5.17v4.75h-5.17zM150.46 276.37h5.17v4.75h-5.17zM156.18 276.37h5.17v4.75h-5.17zM173.33 276.37h5.17v4.75h-5.17zM184.76 276.37h5.17v4.75h-5.17zM150.46 281.67h5.17v4.75h-5.17zM70.44 286.97h5.17v4.75h-5.17zM76.16 286.97h5.17v4.75h-5.17zM156.18 286.97h5.17v4.75h-5.17zM173.33 286.97h5.17v4.75h-5.17zM76.16 292.27h5.17v4.75h-5.17zM99.02 292.27h5.17v4.75h-5.17zM53.29 297.57h5.17v4.75h-5.17zM76.16 297.57h5.17v4.75h-5.17zM144.75 297.57h5.17v4.75h-5.17zM53.29 302.88h5.17v4.75h-5.17zM70.44 302.88h5.17v4.75h-5.17zM81.87 302.88h5.17v4.75h-5.17zM99.02 302.88h5.17v4.75h-5.17zM116.17 302.88h5.17v4.75h-5.17zM144.75 302.88h5.17v4.75h-5.17zM150.46 302.88h5.17v4.75h-5.17zM156.18 302.88h5.17v4.75h-5.17zM161.90 302.88h5.17v4.75h-5.17zM167.61 302.88h5.17v4.75h-5.17zM173.33 302.88h5.17v4.75h-5.17zM93.30 308.17h5.17v4.75h-5.17zM150.46 308.17h5.17v4.75h-5.17zM156.18 308.17h5.17v4.75h-5.17zM76.16 313.47h5.17v4.75h-5.17zM81.87 313.47h5.17v4.75h-5.17zM156.18 313.47h5.17v4.75h-5.17zM173.33 313.47h5.17v4.75h-5.17zM76.16 318.77h5.17v4.75h-5.17zM81.87 318.77h5.17v4.75h-5.17zM93.30 318.77h5.17v4.75h-5.17zM144.75 318.77h5.17v4.75h-5.17zM161.90 318.77h5.17v4.75h-5.17zM76.16 324.07h5.17v4.75h-5.17zM81.87 324.07h5.17v4.75h-5.17zM144.75 324.07h5.17v4.75h-5.17zM156.18 324.07h5.17v4.75h-5.17zM76.16 329.38h5.17v4.75h-5.17zM81.87 329.38h5.17v4.75h-5.17zM150.46 329.38h5.17v4.75h-5.17zM156.18 329.38h5.17v4.75h-5.17zM161.90 329.38h5.17v4.75h-5.17zM167.61 329.38h5.17v4.75h-5.17zM173.33 329.38h5.17v4.75h-5.17zM64.72 334.67h5.17v4.75h-5.17zM70.44 334.67h5.17v4.75h-5.17zM81.87 334.67h5.17v4.75h-5.17zM87.59 334.67h5.17v4.75h-5.17zM99.02 334.67h5.17v4.75h-5.17zM53.29 339.97h5.17v4.75h-5.17zM70.44 339.97h5.17v4.75h-5.17zM76.16 339.97h5.17v4.75h-5.17zM133.32 339.97h5.17v4.75h-5.17zM70.44 345.27h5.17v4.75h-5.17zM76.16 345.27h5.17v4.75h-5.17zM150.46 345.27h5.17v4.75h-5.17zM156.18 345.27h5.17v4.75h-5.17zM70.44 350.57h5.17v4.75h-5.17zM76.16 350.57h5.17v4.75h-5.17zM150.46 350.57h5.17v4.75h-5.17zM179.04 350.57h5.17v4.75h-5.17zM87.59 355.88h5.17v4.75h-5.17zM150.46 355.88h5.17v4.75h-5.17zM173.33 355.88h5.17v4.75h-5.17zM47.57 361.17h5.17v4.75h-5.17zM133.32 361.17h5.17v4.75h-5.17zM144.75 361.17h5.17v4.75h-5.17zM156.18 361.17h5.17v4.75h-5.17zM161.90 366.47h5.17v4.75h-5.17zM59.01 371.77h5.17v4.75h-5.17zM47.57 377.07h5.17v4.75h-5.17zM161.90 377.07h5.17v4.75h-5.17zM179.04 377.07h5.17v4.75h-5.17zM53.29 382.38h5.17v4.75h-5.17zM156.18 382.38h5.17v4.75h-5.17zM47.57 387.67h5.17v4.75h-5.17zM133.32 387.67h5.17v4.75h-5.17zM150.46 387.67h5.17v4.75h-5.17zM133.32 392.97h5.17v4.75h-5.17zM144.75 392.97h5.17v4.75h-5.17zM161.90 392.97h5.17v4.75h-5.17zM179.04 392.97h5.17v4.75h-5.17zM47.57 398.27h5.17v4.75h-5.17zM144.75 398.27h5.17v4.75h-5.17zM150.46 398.27h5.17v4.75h-5.17zM161.90 398.27h5.17v4.75h-5.17zM184.76 398.27h5.17v4.75h-5.17zM150.46 403.57h5.17v4.75h-5.17zM47.57 408.88h5.17v4.75h-5.17zM133.32 408.88h5.17v4.75h-5.17zM161.90 408.88h5.17v4.75h-5.17zM179.04 408.88h5.17v4.75h-5.17zM167.61 414.17h5.17v4.75h-5.17zM150.46 419.47h5.17v4.75h-5.17zM161.90 419.47h5.17v4.75h-5.17zM179.04 419.47h5.17v4.75h-5.17zM139.03 424.77h5.17v4.75h-5.17zM161.90 424.77h5.17v4.75h-5.17zM179.04 424.77h5.17v4.75h-5.17zM59.01 430.07h5.17v4.75h-5.17zM59.01 435.38h5.17v4.75h-5.17zM150.46 435.38h5.17v4.75h-5.17zM161.90 435.38h5.17v4.75h-5.17zM179.04 435.38h5.17v4.75h-5.17zM139.03 445.97h5.17v4.75h-5.17zM150.46 445.97h5.17v4.75h-5.17zM150.46 451.27h5.17v4.75h-5.17zM167.61 451.27h5.17v4.75h-5.17zM59.01 456.57h5.17v4.75h-5.17zM161.90 456.57h5.17v4.75h-5.17zM59.01 461.88h5.17v4.75h-5.17zM139.03 461.88h5.17v4.75h-5.17zM144.75 461.88h5.17v4.75h-5.17zM150.46 461.88h5.17v4.75h-5.17zM139.03 467.17h5.17v4.75h-5.17zM150.46 467.17h5.17v4.75h-5.17zM167.61 467.17h5.17v4.75h-5.17zM173.33 467.17h5.17v4.75h-5.17zM179.04 467.17h5.17v4.75h-5.17zM81.87 472.47h5.17v4.75h-5.17zM133.32 472.47h5.17v4.75h-5.17zM139.03 472.47h5.17v4.75h-5.17zM144.75 472.47h5.17v4.75h-5.17zM47.57 477.77h5.17v4.75h-5.17zM53.29 477.77h5.17v4.75h-5.17zM59.01 477.77h5.17v4.75h-5.17zM81.87 477.77h5.17v4.75h-5.17zM127.60 477.77h5.17v4.75h-5.17zM133.32 477.77h5.17v4.75h-5.17zM144.75 477.77h5.17v4.75h-5.17zM53.29 483.07h5.17v4.75h-5.17zM59.01 483.07h5.17v4.75h-5.17zM76.16 483.07h5.17v4.75h-5.17zM81.87 483.07h5.17v4.75h-5.17zM121.88 483.07h5.17v4.75h-5.17zM133.32 483.07h5.17v4.75h-5.17zM139.03 483.07h5.17v4.75h-5.17zM144.75 483.07h5.17v4.75h-5.17zM47.57 488.38h5.17v4.75h-5.17zM59.01 488.38h5.17v4.75h-5.17zM70.44 488.38h5.17v4.75h-5.17zM116.17 488.38h5.17v4.75h-5.17zM127.60 488.38h5.17v4.75h-5.17zM133.32 488.38h5.17v4.75h-5.17zM139.03 488.38h5.17v4.75h-5.17zM53.29 493.67h5.17v4.75h-5.17zM59.01 493.67h5.17v4.75h-5.17zM81.87 493.67h5.17v4.75h-5.17zM127.60 493.67h5.17v4.75h-5.17zM139.03 493.67h5.17v4.75h-5.17zM144.75 493.67h5.17v4.75h-5.17zM53.29 498.97h5.17v4.75h-5.17zM59.01 498.97h5.17v4.75h-5.17zM81.87 498.97h5.17v4.75h-5.17zM121.88 498.97h5.17v4.75h-5.17zM133.32 498.97h5.17v4.75h-5.17zM139.03 498.97h5.17v4.75h-5.17zM150.46 498.97h5.17v4.75h-5.17zM64.72 504.27h5.17v4.75h-5.17zM70.44 504.27h5.17v4.75h-5.17zM76.16 504.27h5.17v4.75h-5.17zM81.87 504.27h5.17v4.75h-5.17zM139.03 504.27h5.17v4.75h-5.17zM150.46 504.27h5.17v4.75h-5.17zM156.18 504.27h5.17v4.75h-5.17zM70.44 509.57h5.17v4.75h-5.17zM81.87 509.57h5.17v4.75h-5.17zM133.32 509.57h5.17v4.75h-5.17zM139.03 509.57h5.17v4.75h-5.17zM144.75 509.57h5.17v4.75h-5.17zM53.29 514.88h5.17v4.75h-5.17zM70.44 514.88h5.17v4.75h-5.17zM81.87 514.88h5.17v4.75h-5.17zM127.60 514.88h5.17v4.75h-5.17zM133.32 514.88h5.17v4.75h-5.17zM139.03 514.88h5.17v4.75h-5.17zM144.75 514.88h5.17v4.75h-5.17zM150.46 514.88h5.17v4.75h-5.17zM53.29 520.17h5.17v4.75h-5.17zM64.72 520.17h5.17v4.75h-5.17zM81.87 520.17h5.17v4.75h-5.17zM121.88 520.17h5.17v4.75h-5.17zM133.32 520.17h5.17v4.75h-5.17zM161.90 520.17h5.17v4.75h-5.17zM53.29 525.47h5.17v4.75h-5.17zM59.01 525.47h5.17v4.75h-5.17zM81.87 525.47h5.17v4.75h-5.17zM133.32 525.47h5.17v4.75h-5.17zM139.03 525.47h5.17v4.75h-5.17zM144.75 525.47h5.17v4.75h-5.17zM81.87 530.77h5.17v4.75h-5.17zM127.60 530.77h5.17v4.75h-5.17zM133.32 530.77h5.17v4.75h-5.17zM139.03 530.77h5.17v4.75h-5.17zM144.75 530.77h5.17v4.75h-5.17zM47.57 536.07h5.17v4.75h-5.17zM53.29 536.07h5.17v4.75h-5.17zM59.01 536.07h5.17v4.75h-5.17zM81.87 536.07h5.17v4.75h-5.17zM127.60 536.07h5.17v4.75h-5.17zM133.32 536.07h5.17v4.75h-5.17zM139.03 536.07h5.17v4.75h-5.17zM144.75 536.07h5.17v4.75h-5.17zM156.18 536.07h5.17v4.75h-5.17zM81.87 541.37h5.17v4.75h-5.17zM127.60 541.37h5.17v4.75h-5.17zM133.32 541.37h5.17v4.75h-5.17zM139.03 541.37h5.17v4.75h-5.17zM150.46 541.37h5.17v4.75h-5.17zM47.57 546.67h5.17v4.75h-5.17zM64.72 546.67h5.17v4.75h-5.17zM70.44 546.67h5.17v4.75h-5.17zM76.16 546.67h5.17v4.75h-5.17zM81.87 546.67h5.17v4.75h-5.17zM127.60 546.67h5.17v4.75h-5.17zM133.32 546.67h5.17v4.75h-5.17zM139.03 546.67h5.17v4.75h-5.17zM144.75 546.67h5.17v4.75h-5.17zM64.72 551.97h5.17v4.75h-5.17zM70.44 551.97h5.17v4.75h-5.17zM76.16 551.97h5.17v4.75h-5.17zM81.87 551.97h5.17v4.75h-5.17zM93.30 551.97h5.17v4.75h-5.17zM127.60 551.97h5.17v4.75h-5.17zM139.03 551.97h5.17v4.75h-5.17zM144.75 551.97h5.17v4.75h-5.17zM81.87 557.27h5.17v4.75h-5.17zM121.88 557.27h5.17v4.75h-5.17zM133.32 557.27h5.17v4.75h-5.17zM144.75 557.27h5.17v4.75h-5.17zM150.46 557.27h5.17v4.75h-5.17zM81.87 562.57h5.17v4.75h-5.17zM139.03 562.57h5.17v4.75h-5.17zM144.75 562.57h5.17v4.75h-5.17zM59.01 567.87h5.17v4.75h-5.17zM81.87 567.87h5.17v4.75h-5.17zM116.17 567.87h5.17v4.75h-5.17zM121.88 567.87h5.17v4.75h-5.17zM127.60 567.87h5.17v4.75h-5.17zM133.32 567.87h5.17v4.75h-5.17zM47.57 573.17h5.17v4.75h-5.17zM53.29 573.17h5.17v4.75h-5.17zM59.01 573.17h5.17v4.75h-5.17zM76.16 573.17h5.17v4.75h-5.17zM116.17 573.17h5.17v4.75h-5.17zM121.88 573.17h5.17v4.75h-5.17zM133.32 573.17h5.17v4.75h-5.17zM139.03 573.17h5.17v4.75h-5.17zM64.72 578.47h5.17v4.75h-5.17zM121.88 578.47h5.17v4.75h-5.17zM144.75 578.47h5.17v4.75h-5.17zM53.29 583.77h5.17v4.75h-5.17zM64.72 583.77h5.17v4.75h-5.17zM70.44 583.77h5.17v4.75h-5.17zM81.87 583.77h5.17v4.75h-5.17zM116.17 583.77h5.17v4.75h-5.17zM133.32 583.77h5.17v4.75h-5.17zM144.75 583.77h5.17v4.75h-5.17zM156.18 583.77h5.17v4.75h-5.17zM47.57 589.07h5.17v4.75h-5.17zM53.29 589.07h5.17v4.75h-5.17zM81.87 589.07h5.17v4.75h-5.17zM127.60 589.07h5.17v4.75h-5.17zM133.32 589.07h5.17v4.75h-5.17zM139.03 589.07h5.17v4.75h-5.17zM144.75 589.07h5.17v4.75h-5.17zM150.46 589.07h5.17v4.75h-5.17zM81.87 594.37h5.17v4.75h-5.17zM144.75 594.37h5.17v4.75h-5.17zM161.90 594.37h5.17v4.75h-5.17zM59.01 599.67h5.17v4.75h-5.17zM81.87 599.67h5.17v4.75h-5.17zM133.32 599.67h5.17v4.75h-5.17zM139.03 599.67h5.17v4.75h-5.17zM47.57 604.97h5.17v4.75h-5.17zM81.87 604.97h5.17v4.75h-5.17zM116.17 604.97h5.17v4.75h-5.17zM133.32 604.97h5.17v4.75h-5.17zM139.03 604.97h5.17v4.75h-5.17zM144.75 604.97h5.17v4.75h-5.17zM150.46 604.97h5.17v4.75h-5.17zM179.04 604.97h5.17v4.75h-5.17zM59.01 610.27h5.17v4.75h-5.17zM64.72 610.27h5.17v4.75h-5.17zM76.16 610.27h5.17v4.75h-5.17zM81.87 610.27h5.17v4.75h-5.17zM116.17 610.27h5.17v4.75h-5.17zM127.60 610.27h5.17v4.75h-5.17zM133.32 610.27h5.17v4.75h-5.17zM139.03 610.27h5.17v4.75h-5.17zM144.75 610.27h5.17v4.75h-5.17zM93.30 615.57h5.17v4.75h-5.17zM121.88 615.57h5.17v4.75h-5.17zM144.75 615.57h5.17v4.75h-5.17zM150.46 615.57h5.17v4.75h-5.17zM156.18 615.57h5.17v4.75h-5.17zM47.57 620.87h5.17v4.75h-5.17zM81.87 620.87h5.17v4.75h-5.17zM87.59 620.87h5.17v4.75h-5.17zM93.30 620.87h5.17v4.75h-5.17zM139.03 620.87h5.17v4.75h-5.17zM144.75 620.87h5.17v4.75h-5.17zM150.46 620.87h5.17v4.75h-5.17zM81.87 626.17h5.17v4.75h-5.17zM93.30 626.17h5.17v4.75h-5.17zM133.32 626.17h5.17v4.75h-5.17zM179.04 626.17h5.17v4.75h-5.17zM53.29 631.47h5.17v4.75h-5.17zM81.87 631.47h5.17v4.75h-5.17zM93.30 631.47h5.17v4.75h-5.17zM139.03 631.47h5.17v4.75h-5.17zM144.75 631.47h5.17v4.75h-5.17zM161.90 631.47h5.17v4.75h-5.17zM81.87 636.77h5.17v4.75h-5.17zM87.59 636.77h5.17v4.75h-5.17zM121.88 636.77h5.17v4.75h-5.17zM133.32 636.77h5.17v4.75h-5.17zM139.03 636.77h5.17v4.75h-5.17zM81.87 642.07h5.17v4.75h-5.17zM87.59 642.07h5.17v4.75h-5.17zM93.30 642.07h5.17v4.75h-5.17zM139.03 642.07h5.17v4.75h-5.17zM161.90 642.07h5.17v4.75h-5.17zM173.33 642.07h5.17v4.75h-5.17zM179.04 642.07h5.17v4.75h-5.17zM59.01 647.37h5.17v4.75h-5.17zM64.72 647.37h5.17v4.75h-5.17zM70.44 647.37h5.17v4.75h-5.17zM76.16 647.37h5.17v4.75h-5.17zM93.30 647.37h5.17v4.75h-5.17zM116.17 647.37h5.17v4.75h-5.17zM121.88 647.37h5.17v4.75h-5.17zM127.60 647.37h5.17v4.75h-5.17zM133.32 647.37h5.17v4.75h-5.17z"/>
<path fill="#7a0f71" d="M133.32 32.57h5.17v4.75h-5.17zM133.32 43.17h5.17v4.75h-5.17zM133.32 48.47h5.17v4.75h-5.17zM133.32 53.77h5.17v4.75h-5.17zM133.32 59.07h5.17v4.75h-5.17zM133.32 69.68h5.17v4.75h-5.17zM133.32 74.97h5.17v4.75h-5.17zM167.61 112.08h5.17v4.75h-5.17zM173.33 112.08h5.17v4.75h-5.17zM93.30 117.38h5.17v4.75h-5.17zM156.18 117.38h5.17v4.75h-5.17zM167.61 127.97h5.17v4.75h-5.17zM156.18 138.58h5.17v4.75h-5.17zM167.61 154.47h5.17v4.75h-5.17zM167.61 186.28h5.17v4.75h-5.17zM173.33 186.28h5.17v4.75h-5.17zM167.61 191.58h5.17v4.75h-5.17zM173.33 191.58h5.17v4.75h-5.17zM173.33 196.87h5.17v4.75h-5.17zM167.61 212.78h5.17v4.75h-5.17zM173.33 212.78h5.17v4.75h-5.17zM70.44 218.08h5.17v4.75h-5.17zM53.29 223.37h5.17v4.75h-5.17zM53.29 228.67h5.17v4.75h-5.17zM93.30 228.67h5.17v4.75h-5.17zM156.18 228.67h5.17v4.75h-5.17zM161.90 228.67h5.17v4.75h-5.17zM156.18 249.87h5.17v4.75h-5.17zM53.29 255.17h5.17v4.75h-5.17zM167.61 281.67h5.17v4.75h-5.17zM150.46 286.97h5.17v4.75h-5.17zM59.01 308.17h5.17v4.75h-5.17zM59.01 313.47h5.17v4.75h-5.17zM59.01 318.77h5.17v4.75h-5.17zM150.46 318.77h5.17v4.75h-5.17zM59.01 324.07h5.17v4.75h-5.17zM59.01 329.38h5.17v4.75h-5.17zM110.45 334.67h5.17v4.75h-5.17zM156.18 334.67h5.17v4.75h-5.17zM161.90 345.27h5.17v4.75h-5.17zM47.57 350.57h5.17v4.75h-5.17zM59.01 350.57h5.17v4.75h-5.17zM161.90 350.57h5.17v4.75h-5.17zM121.88 355.88h5.17v4.75h-5.17zM150.46 366.47h5.17v4.75h-5.17zM179.04 371.77h5.17v4.75h-5.17zM161.90 382.38h5.17v4.75h-5.17zM179.04 382.38h5.17v4.75h-5.17zM110.45 387.67h5.17v4.75h-5.17zM93.30 392.97h5.17v4.75h-5.17zM87.59 398.27h5.17v4.75h-5.17zM116.17 408.88h5.17v4.75h-5.17zM121.88 419.47h5.17v4.75h-5.17zM104.74 424.77h5.17v4.75h-5.17zM179.04 430.07h5.17v4.75h-5.17zM104.74 435.38h5.17v4.75h-5.17zM104.74 440.67h5.17v4.75h-5.17zM179.04 440.67h5.17v4.75h-5.17zM121.88 451.27h5.17v4.75h-5.17zM104.74 456.57h5.17v4.75h-5.17zM93.30 488.38h5.17v4.75h-5.17zM87.59 536.07h5.17v4.75h-5.17zM87.59 567.87h5.17v4.75h-5.17zM87.59 573.17h5.17v4.75h-5.17zM150.46 573.17h5.17v4.75h-5.17zM76.16 578.47h5.17v4.75h-5.17zM116.17 578.47h5.17v4.75h-5.17zM87.59 589.07h5.17v4.75h-5.17z"/>
<path fill="#a71a99" d="M150.46 32.57h5.17v4.75h-5.17zM184.76 32.57h5.17v4.75h-5.17zM184.76 37.87h5.17v4.75h-5.17zM184.76 43.17h5.17v4.75h-5.17zM184.76 48.47h5.17v4.75h-5.17zM184.76 53.77h5.17v4.75h-5.17zM184.76 59.07h5.17v4.75h-5.17zM133.32 64.38h5.17v4.75h-5.17zM150.46 64.38h5.17v4.75h-5.17zM184.76 64.38h5.17v4.75h-5.17zM184.76 69.68h5.17v4.75h-5.17zM184.76 74.97h5.17v4.75h-5.17zM156.18 85.58h5.17v4.75h-5.17zM156.18 122.67h5.17v4.75h-5.17zM93.30 143.88h5.17v4.75h-5.17zM167.61 196.87h5.17v4.75h-5.17zM53.29 218.08h5.17v4.75h-5.17zM53.29 244.58h5.17v4.75h-5.17zM53.29 249.87h5.17v4.75h-5.17zM173.33 281.67h5.17v4.75h-5.17zM150.46 292.27h5.17v4.75h-5.17zM59.01 297.57h5.17v4.75h-5.17zM161.90 334.67h5.17v4.75h-5.17zM179.04 334.67h5.17v4.75h-5.17zM47.57 339.97h5.17v4.75h-5.17zM87.59 578.47h5.17v4.75h-5.17zM87.59 599.67h5.17v4.75h-5.17zM87.59 647.37h5.17v4.75h-5.17z"/>
<path fill="#030303" d="M156.18 32.57h5.17v4.75h-5.17zM167.61 32.57h5.17v4.75h-5.17zM173.33 32.57h5.17v4.75h-5.17zM127.60 37.87h5.17v4.75h-5.17zM59.01 43.17h5.17v4.75h-5.17zM127.60 43.17h5.17v4.75h-5.17zM173.33 43.17h5.17v4.75h-5.17zM47.57 48.47h5.17v4.75h-5.17zM127.60 48.47h5.17v4.75h-5.17zM127.60 53.77h5.17v4.75h-5.17zM53.29 59.07h5.17v4.75h-5.17zM127.60 59.07h5.17v4.75h-5.17zM173.33 59.07h5.17v4.75h-5.17zM53.29 64.38h5.17v4.75h-5.17zM173.33 64.38h5.17v4.75h-5.17zM53.29 69.68h5.17v4.75h-5.17zM179.04 69.68h5.17v4.75h-5.17zM104.74 74.97h5.17v4.75h-5.17zM173.33 74.97h5.17v4.75h-5.17zM64.72 80.28h5.17v4.75h-5.17zM70.44 80.28h5.17v4.75h-5.17zM76.16 80.28h5.17v4.75h-5.17zM116.17 80.28h5.17v4.75h-5.17zM133.32 80.28h5.17v4.75h-5.17zM150.46 80.28h5.17v4.75h-5.17zM184.76 80.28h5.17v4.75h-5.17zM53.29 85.58h5.17v4.75h-5.17zM64.72 85.58h5.17v4.75h-5.17zM70.44 85.58h5.17v4.75h-5.17zM99.02 85.58h5.17v4.75h-5.17zM116.17 85.58h5.17v4.75h-5.17zM139.03 85.58h5.17v4.75h-5.17zM121.88 90.88h5.17v4.75h-5.17zM156.18 96.17h5.17v4.75h-5.17zM184.76 96.17h5.17v4.75h-5.17zM70.44 101.47h5.17v4.75h-5.17zM53.29 106.78h5.17v4.75h-5.17zM93.30 112.08h5.17v4.75h-5.17zM76.16 117.38h5.17v4.75h-5.17zM81.87 117.38h5.17v4.75h-5.17zM87.59 122.67h5.17v4.75h-5.17zM53.29 127.97h5.17v4.75h-5.17zM139.03 127.97h5.17v4.75h-5.17zM144.75 127.97h5.17v4.75h-5.17zM59.01 133.28h5.17v4.75h-5.17zM64.72 133.28h5.17v4.75h-5.17zM70.44 133.28h5.17v4.75h-5.17zM76.16 133.28h5.17v4.75h-5.17zM47.57 138.58h5.17v4.75h-5.17zM64.72 138.58h5.17v4.75h-5.17zM70.44 138.58h5.17v4.75h-5.17zM184.76 138.58h5.17v4.75h-5.17zM184.76 143.88h5.17v4.75h-5.17zM173.33 149.17h5.17v4.75h-5.17zM59.01 154.47h5.17v4.75h-5.17zM64.72 154.47h5.17v4.75h-5.17zM70.44 154.47h5.17v4.75h-5.17zM70.44 159.78h5.17v4.75h-5.17zM173.33 159.78h5.17v4.75h-5.17zM53.29 165.08h5.17v4.75h-5.17zM64.72 165.08h5.17v4.75h-5.17zM156.18 165.08h5.17v4.75h-5.17zM47.57 170.37h5.17v4.75h-5.17zM64.72 170.37h5.17v4.75h-5.17zM76.16 170.37h5.17v4.75h-5.17zM156.18 170.37h5.17v4.75h-5.17zM173.33 170.37h5.17v4.75h-5.17zM47.57 175.67h5.17v4.75h-5.17zM144.75 175.67h5.17v4.75h-5.17zM179.04 175.67h5.17v4.75h-5.17zM53.29 180.97h5.17v4.75h-5.17zM59.01 180.97h5.17v4.75h-5.17zM87.59 180.97h5.17v4.75h-5.17zM99.02 180.97h5.17v4.75h-5.17zM179.04 191.58h5.17v4.75h-5.17zM104.74 196.87h5.17v4.75h-5.17zM179.04 196.87h5.17v4.75h-5.17zM116.17 202.17h5.17v4.75h-5.17zM121.88 202.17h5.17v4.75h-5.17zM53.29 207.47h5.17v4.75h-5.17zM133.32 207.47h5.17v4.75h-5.17zM127.60 218.08h5.17v4.75h-5.17zM139.03 218.08h5.17v4.75h-5.17zM150.46 218.08h5.17v4.75h-5.17zM99.02 223.37h5.17v4.75h-5.17zM139.03 223.37h5.17v4.75h-5.17zM139.03 228.67h5.17v4.75h-5.17zM59.01 233.97h5.17v4.75h-5.17zM64.72 233.97h5.17v4.75h-5.17zM99.02 233.97h5.17v4.75h-5.17zM47.57 239.28h5.17v4.75h-5.17zM59.01 239.28h5.17v4.75h-5.17zM99.02 239.28h5.17v4.75h-5.17zM104.74 239.28h5.17v4.75h-5.17zM110.45 239.28h5.17v4.75h-5.17zM64.72 244.58h5.17v4.75h-5.17zM127.60 244.58h5.17v4.75h-5.17zM139.03 244.58h5.17v4.75h-5.17zM150.46 244.58h5.17v4.75h-5.17zM173.33 244.58h5.17v4.75h-5.17zM47.57 249.87h5.17v4.75h-5.17zM64.72 249.87h5.17v4.75h-5.17zM76.16 249.87h5.17v4.75h-5.17zM104.74 249.87h5.17v4.75h-5.17zM161.90 249.87h5.17v4.75h-5.17zM76.16 255.17h5.17v4.75h-5.17zM139.03 255.17h5.17v4.75h-5.17zM156.18 255.17h5.17v4.75h-5.17zM64.72 260.47h5.17v4.75h-5.17zM53.29 265.77h5.17v4.75h-5.17zM59.01 265.77h5.17v4.75h-5.17zM81.87 265.77h5.17v4.75h-5.17zM99.02 265.77h5.17v4.75h-5.17zM116.17 265.77h5.17v4.75h-5.17zM59.01 271.07h5.17v4.75h-5.17zM110.45 271.07h5.17v4.75h-5.17zM139.03 271.07h5.17v4.75h-5.17zM59.01 276.37h5.17v4.75h-5.17zM64.72 276.37h5.17v4.75h-5.17zM81.87 276.37h5.17v4.75h-5.17zM87.59 276.37h5.17v4.75h-5.17zM93.30 276.37h5.17v4.75h-5.17zM99.02 276.37h5.17v4.75h-5.17zM110.45 276.37h5.17v4.75h-5.17zM116.17 276.37h5.17v4.75h-5.17zM139.03 276.37h5.17v4.75h-5.17zM167.61 276.37h5.17v4.75h-5.17zM64.72 281.67h5.17v4.75h-5.17zM139.03 281.67h5.17v4.75h-5.17zM161.90 281.67h5.17v4.75h-5.17zM184.76 281.67h5.17v4.75h-5.17zM47.57 286.97h5.17v4.75h-5.17zM93.30 286.97h5.17v4.75h-5.17zM47.57 292.27h5.17v4.75h-5.17zM161.90 292.27h5.17v4.75h-5.17zM173.33 292.27h5.17v4.75h-5.17zM133.32 297.57h5.17v4.75h-5.17zM150.46 297.57h5.17v4.75h-5.17zM161.90 297.57h5.17v4.75h-5.17zM167.61 297.57h5.17v4.75h-5.17zM173.33 297.57h5.17v4.75h-5.17zM47.57 302.88h5.17v4.75h-5.17zM184.76 302.88h5.17v4.75h-5.17zM99.02 308.17h5.17v4.75h-5.17zM133.32 308.17h5.17v4.75h-5.17zM161.90 308.17h5.17v4.75h-5.17zM173.33 308.17h5.17v4.75h-5.17zM179.04 308.17h5.17v4.75h-5.17zM150.46 313.47h5.17v4.75h-5.17zM161.90 313.47h5.17v4.75h-5.17zM184.76 313.47h5.17v4.75h-5.17zM47.57 318.77h5.17v4.75h-5.17zM87.59 318.77h5.17v4.75h-5.17zM156.18 318.77h5.17v4.75h-5.17zM184.76 318.77h5.17v4.75h-5.17zM99.02 324.07h5.17v4.75h-5.17zM161.90 324.07h5.17v4.75h-5.17zM99.02 329.38h5.17v4.75h-5.17zM53.29 334.67h5.17v4.75h-5.17zM167.61 334.67h5.17v4.75h-5.17zM93.30 339.97h5.17v4.75h-5.17zM99.02 339.97h5.17v4.75h-5.17zM144.75 339.97h5.17v4.75h-5.17zM167.61 339.97h5.17v4.75h-5.17zM173.33 339.97h5.17v4.75h-5.17zM53.29 345.27h5.17v4.75h-5.17zM93.30 345.27h5.17v4.75h-5.17zM167.61 345.27h5.17v4.75h-5.17zM47.57 355.88h5.17v4.75h-5.17zM59.01 355.88h5.17v4.75h-5.17zM93.30 355.88h5.17v4.75h-5.17zM139.03 355.88h5.17v4.75h-5.17zM184.76 355.88h5.17v4.75h-5.17zM139.03 361.17h5.17v4.75h-5.17zM161.90 361.17h5.17v4.75h-5.17zM47.57 366.47h5.17v4.75h-5.17zM93.30 366.47h5.17v4.75h-5.17zM47.57 371.77h5.17v4.75h-5.17zM133.32 371.77h5.17v4.75h-5.17zM139.03 371.77h5.17v4.75h-5.17zM173.33 371.77h5.17v4.75h-5.17zM133.32 377.07h5.17v4.75h-5.17zM167.61 377.07h5.17v4.75h-5.17zM144.75 382.38h5.17v4.75h-5.17zM184.76 382.38h5.17v4.75h-5.17zM59.01 387.67h5.17v4.75h-5.17zM47.57 392.97h5.17v4.75h-5.17zM139.03 392.97h5.17v4.75h-5.17zM150.46 392.97h5.17v4.75h-5.17zM184.76 392.97h5.17v4.75h-5.17zM133.32 398.27h5.17v4.75h-5.17zM139.03 398.27h5.17v4.75h-5.17zM179.04 398.27h5.17v4.75h-5.17zM47.57 403.57h5.17v4.75h-5.17zM93.30 403.57h5.17v4.75h-5.17zM133.32 403.57h5.17v4.75h-5.17zM184.76 403.57h5.17v4.75h-5.17zM59.01 408.88h5.17v4.75h-5.17zM156.18 408.88h5.17v4.75h-5.17zM184.76 408.88h5.17v4.75h-5.17zM59.01 414.17h5.17v4.75h-5.17zM133.32 414.17h5.17v4.75h-5.17zM184.76 414.17h5.17v4.75h-5.17zM133.32 419.47h5.17v4.75h-5.17zM139.03 419.47h5.17v4.75h-5.17zM167.61 419.47h5.17v4.75h-5.17zM59.01 424.77h5.17v4.75h-5.17zM133.32 424.77h5.17v4.75h-5.17zM144.75 424.77h5.17v4.75h-5.17zM150.46 424.77h5.17v4.75h-5.17zM161.90 430.07h5.17v4.75h-5.17zM173.33 430.07h5.17v4.75h-5.17zM47.57 440.67h5.17v4.75h-5.17zM133.32 440.67h5.17v4.75h-5.17zM161.90 440.67h5.17v4.75h-5.17zM184.76 440.67h5.17v4.75h-5.17zM144.75 445.97h5.17v4.75h-5.17zM161.90 445.97h5.17v4.75h-5.17zM167.61 445.97h5.17v4.75h-5.17zM47.57 451.27h5.17v4.75h-5.17zM133.32 451.27h5.17v4.75h-5.17zM139.03 451.27h5.17v4.75h-5.17zM144.75 451.27h5.17v4.75h-5.17zM161.90 451.27h5.17v4.75h-5.17zM173.33 451.27h5.17v4.75h-5.17zM179.04 451.27h5.17v4.75h-5.17zM47.57 456.57h5.17v4.75h-5.17zM133.32 456.57h5.17v4.75h-5.17zM173.33 456.57h5.17v4.75h-5.17zM133.32 461.88h5.17v4.75h-5.17zM161.90 461.88h5.17v4.75h-5.17zM179.04 461.88h5.17v4.75h-5.17zM133.32 467.17h5.17v4.75h-5.17zM144.75 467.17h5.17v4.75h-5.17zM59.01 472.47h5.17v4.75h-5.17zM116.17 472.47h5.17v4.75h-5.17zM116.17 477.77h5.17v4.75h-5.17zM121.88 477.77h5.17v4.75h-5.17zM139.03 477.77h5.17v4.75h-5.17zM150.46 483.07h5.17v4.75h-5.17zM179.04 483.07h5.17v4.75h-5.17zM81.87 488.38h5.17v4.75h-5.17zM144.75 488.38h5.17v4.75h-5.17zM150.46 488.38h5.17v4.75h-5.17zM156.18 488.38h5.17v4.75h-5.17zM179.04 488.38h5.17v4.75h-5.17zM70.44 493.67h5.17v4.75h-5.17zM87.59 493.67h5.17v4.75h-5.17zM150.46 493.67h5.17v4.75h-5.17zM87.59 498.97h5.17v4.75h-5.17zM144.75 498.97h5.17v4.75h-5.17zM133.32 504.27h5.17v4.75h-5.17zM116.17 509.57h5.17v4.75h-5.17zM121.88 509.57h5.17v4.75h-5.17zM156.18 509.57h5.17v4.75h-5.17zM59.01 514.88h5.17v4.75h-5.17zM121.88 514.88h5.17v4.75h-5.17zM47.57 520.17h5.17v4.75h-5.17zM144.75 520.17h5.17v4.75h-5.17zM116.17 525.47h5.17v4.75h-5.17zM121.88 525.47h5.17v4.75h-5.17zM47.57 530.77h5.17v4.75h-5.17zM116.17 530.77h5.17v4.75h-5.17zM121.88 530.77h5.17v4.75h-5.17zM150.46 536.07h5.17v4.75h-5.17zM53.29 541.37h5.17v4.75h-5.17zM121.88 541.37h5.17v4.75h-5.17zM144.75 541.37h5.17v4.75h-5.17zM53.29 546.67h5.17v4.75h-5.17zM121.88 546.67h5.17v4.75h-5.17zM173.33 546.67h5.17v4.75h-5.17zM47.57 551.97h5.17v4.75h-5.17zM87.59 551.97h5.17v4.75h-5.17zM53.29 557.27h5.17v4.75h-5.17zM59.01 557.27h5.17v4.75h-5.17zM121.88 562.57h5.17v4.75h-5.17zM127.60 562.57h5.17v4.75h-5.17zM150.46 562.57h5.17v4.75h-5.17zM144.75 567.87h5.17v4.75h-5.17zM81.87 573.17h5.17v4.75h-5.17zM179.04 573.17h5.17v4.75h-5.17zM156.18 578.47h5.17v4.75h-5.17zM173.33 578.47h5.17v4.75h-5.17zM47.57 583.77h5.17v4.75h-5.17zM121.88 589.07h5.17v4.75h-5.17zM47.57 594.37h5.17v4.75h-5.17zM53.29 594.37h5.17v4.75h-5.17zM121.88 594.37h5.17v4.75h-5.17zM156.18 594.37h5.17v4.75h-5.17zM121.88 599.67h5.17v4.75h-5.17zM144.75 599.67h5.17v4.75h-5.17zM87.59 604.97h5.17v4.75h-5.17zM121.88 604.97h5.17v4.75h-5.17zM53.29 610.27h5.17v4.75h-5.17zM87.59 610.27h5.17v4.75h-5.17zM121.88 610.27h5.17v4.75h-5.17zM150.46 610.27h5.17v4.75h-5.17zM47.57 615.57h5.17v4.75h-5.17zM104.74 615.57h5.17v4.75h-5.17zM53.29 620.87h5.17v4.75h-5.17zM179.04 620.87h5.17v4.75h-5.17zM47.57 626.17h5.17v4.75h-5.17zM139.03 626.17h5.17v4.75h-5.17zM144.75 626.17h5.17v4.75h-5.17zM121.88 631.47h5.17v4.75h-5.17zM150.46 631.47h5.17v4.75h-5.17zM47.57 636.77h5.17v4.75h-5.17zM104.74 636.77h5.17v4.75h-5.17zM47.57 642.07h5.17v4.75h-5.17zM121.88 642.07h5.17v4.75h-5.17zM144.75 642.07h5.17v4.75h-5.17zM47.57 647.37h5.17v4.75h-5.17zM53.29 647.37h5.17v4.75h-5.17zM81.87 647.37h5.17v4.75h-5.17zM139.03 647.37h5.17v4.75h-5.17zM150.46 647.37h5.17v4.75h-5.17z"/>
<path fill="#22e298" d="M76.16 112.08h5.17v4.75h-5.17zM139.03 112.08h5.17v4.75h-5.17zM144.75 191.58h5.17v4.75h-5.17zM139.03 196.87h5.17v4.75h-5.17zM150.46 196.87h5.17v4.75h-5.17zM76.16 212.78h5.17v4.75h-5.17zM144.75 228.67h5.17v4.75h-5.17zM139.03 292.27h5.17v4.75h-5.17z"/>
<path fill="#e02bcc" d="M93.30 239.28h5.17v4.75h-5.17zM47.57 334.67h5.17v4.75h-5.17zM47.57 345.27h5.17v4.75h-5.17zM93.30 382.38h5.17v4.75h-5.17zM87.59 615.57h5.17v4.75h-5.17zM87.59 626.17h5.17v4.75h-5.17z"/>
<rect x="52.65" y="186.30" width="5.80" height="100.40" fill="none" stroke="#fff" stroke-width="1.25"/>
<rect x="70.40" y="186.30" width="5.90" height="100.40" fill="none" stroke="#fff" stroke-width="1.25"/>
<rect x="155.90" y="186.30" width="34.10" height="100.40" fill="none" stroke="#fff" stroke-width="1.25"/>
<rect x="52.70" y="287.00" width="35.10" height="363.80" fill="none" stroke="#fff" stroke-width="1.25"/>
<rect x="98.30" y="355.90" width="36.10" height="294.90" fill="none" stroke="#fff" stroke-width="1.25"/>
<text transform="translate(54.16 29.80) rotate(-90)" style="font-size:6.20px;font-style:italic;" stroke="#000" stroke-width="0.15">GPR151</text>
<text transform="translate(59.87 29.80) rotate(-90)" style="font-size:6.20px;font-style:italic;" stroke="#000" stroke-width="0.15">GPR161</text>
<text transform="translate(65.59 29.80) rotate(-90)" style="font-size:6.20px;font-style:italic;" stroke="#000" stroke-width="0.15">GPR153</text>
<text transform="translate(71.31 29.80) rotate(-90)" style="font-size:6.20px;font-style:italic;" stroke="#000" stroke-width="0.15">GPR123</text>
<text transform="translate(77.02 29.80) rotate(-90)" style="font-size:6.20px;font-style:italic;" stroke="#000" stroke-width="0.15">GPR26</text>
<text transform="translate(82.74 29.80) rotate(-90)" style="font-size:6.20px;font-style:italic;" stroke="#000" stroke-width="0.15">GPR162</text>
<text transform="translate(88.45 29.80) rotate(-90)" style="font-size:6.20px;font-style:italic;" stroke="#000" stroke-width="0.15">GPR68</text>
<text transform="translate(94.17 29.80) rotate(-90)" style="font-size:6.20px;font-style:italic;" stroke="#000" stroke-width="0.15">GPR150</text>
<text transform="translate(99.89 29.80) rotate(-90)" style="font-size:6.20px;font-style:italic;" stroke="#000" stroke-width="0.15">GPR50</text>
<text transform="translate(105.60 29.80) rotate(-90)" style="font-size:6.20px;font-style:italic;" stroke="#000" stroke-width="0.15">GPR149</text>
<text transform="translate(111.32 29.80) rotate(-90)" style="font-size:6.20px;font-style:italic;" stroke="#000" stroke-width="0.15">GPR101</text>
<text transform="translate(117.03 29.80) rotate(-90)" style="font-size:6.20px;font-style:italic;" stroke="#000" stroke-width="0.15">GPR139</text>
<text transform="translate(122.75 29.80) rotate(-90)" style="font-size:6.20px;font-style:italic;" stroke="#000" stroke-width="0.15">GPR27</text>
<text transform="translate(128.47 29.80) rotate(-90)" style="font-size:6.20px;font-style:italic;" stroke="#000" stroke-width="0.15">GPR88</text>
<text transform="translate(134.18 29.80) rotate(-90)" style="font-size:6.20px;font-style:italic;" stroke="#000" stroke-width="0.15">GPR98</text>
<text transform="translate(139.90 29.80) rotate(-90)" style="font-size:6.20px;font-style:italic;" stroke="#000" stroke-width="0.15">CELSR3</text>
<text transform="translate(145.61 29.80) rotate(-90)" style="font-size:6.20px;font-style:italic;" stroke="#000" stroke-width="0.15">GPR176</text>
<text transform="translate(151.33 29.80) rotate(-90)" style="font-size:6.20px;font-style:italic;" stroke="#000" stroke-width="0.15">GPR63</text>
<text transform="translate(157.05 29.80) rotate(-90)" style="font-size:6.20px;font-style:italic;" stroke="#000" stroke-width="0.15">GPR85</text>
<text transform="translate(162.76 29.80) rotate(-90)" style="font-size:6.20px;font-style:italic;" stroke="#000" stroke-width="0.15">GPR108</text>
<text transform="translate(168.48 29.80) rotate(-90)" style="font-size:6.20px;font-style:italic;" stroke="#000" stroke-width="0.15">GPR125</text>
<text transform="translate(174.19 29.80) rotate(-90)" style="font-size:6.20px;font-style:italic;" stroke="#000" stroke-width="0.15">GPR37</text>
<text transform="translate(179.91 29.80) rotate(-90)" style="font-size:6.20px;font-style:italic;" stroke="#000" stroke-width="0.15">GPRc5b</text>
<text transform="translate(185.63 29.80) rotate(-90)" style="font-size:6.20px;font-style:italic;" stroke="#000" stroke-width="0.15">GPR39</text>
<text transform="translate(191.34 29.80) rotate(-90)" style="font-size:6.20px;font-style:italic;" stroke="#000" stroke-width="0.15">GPRc5c</text>
<g style="font-size:4.8px" fill="#000">
<text transform="translate(44.80 33.35) rotate(180)" fill="#2a2a2a">S 46</text>
<text transform="translate(44.80 38.65) rotate(180)" fill="#2a2a2a">S 36</text>
<text transform="translate(44.80 43.95) rotate(180)" fill="#2a2a2a">S 31</text>
<text transform="translate(44.80 49.25) rotate(180)" fill="#2a2a2a">S250</text>
<text transform="translate(44.80 54.55) rotate(180)" fill="#2a2a2a">S215</text>
<text transform="translate(44.80 59.85) rotate(180)" fill="#2a2a2a">S 20</text>
<text transform="translate(44.80 65.15) rotate(180)" fill="#2a2a2a">S173</text>
<text transform="translate(44.80 70.45) rotate(180)" fill="#2a2a2a">S158</text>
<text transform="translate(44.80 75.75) rotate(180)" fill="#2a2a2a">S 16</text>
<text transform="translate(44.80 81.05) rotate(180)" fill="#2a2a2a">S215</text>
<text transform="translate(44.80 86.35) rotate(180)" fill="#2a2a2a">S158</text>
<text transform="translate(44.80 91.65) rotate(180)" fill="#2a2a2a">S 46</text>
<text transform="translate(44.80 96.95) rotate(180)" fill="#2a2a2a">S 36</text>
<text transform="translate(44.80 102.25) rotate(180)" fill="#2a2a2a">S 31</text>
<text transform="translate(44.80 107.55) rotate(180)" fill="#2a2a2a">S 20</text>
<text transform="translate(44.80 112.85) rotate(180)" fill="#2a2a2a">S 16</text>
<text transform="translate(44.80 118.15) rotate(180)" fill="#2a2a2a">S223</text>
<text transform="translate(44.80 123.45) rotate(180)" fill="#2a2a2a">S165</text>
<text transform="translate(44.80 128.75) rotate(180)" fill="#2a2a2a">S133</text>
<text transform="translate(44.80 134.05) rotate(180)" fill="#2a2a2a">S104</text>
<text transform="translate(44.80 139.35) rotate(180)" fill="#2a2a2a">S250</text>
<text transform="translate(44.80 144.65) rotate(180)" fill="#2a2a2a">S215</text>
<text transform="translate(44.80 149.95) rotate(180)" fill="#2a2a2a">S173</text>
<text transform="translate(44.80 155.25) rotate(180)" fill="#2a2a2a">S158</text>
<text transform="translate(44.80 160.55) rotate(180)" fill="#2a2a2a">S 46</text>
<text transform="translate(44.80 165.85) rotate(180)" fill="#2a2a2a">S 36</text>
<text transform="translate(44.80 171.15) rotate(180)" fill="#2a2a2a">S 31</text>
<text transform="translate(44.80 176.45) rotate(180)" fill="#2a2a2a">S 20</text>
<text transform="translate(44.80 181.75) rotate(180)" fill="#2a2a2a">S 16</text>
<text transform="translate(44.80 187.05) rotate(180)" fill="#2a2a2a">S 46</text>
<text transform="translate(44.80 192.35) rotate(180)" fill="#2a2a2a">S 31</text>
<text transform="translate(44.80 197.65) rotate(180)" fill="#2a2a2a">S250</text>
<text transform="translate(44.80 202.95) rotate(180)" fill="#2a2a2a">S215</text>
<text transform="translate(44.80 208.25) rotate(180)" fill="#2a2a2a">S173</text>
<text transform="translate(44.80 213.55) rotate(180)" fill="#2a2a2a">S158</text>
<text transform="translate(44.80 218.85) rotate(180)" fill="#2a2a2a">S 46</text>
<text transform="translate(44.80 224.15) rotate(180)" fill="#2a2a2a">S 36</text>
<text transform="translate(44.80 229.45) rotate(180)" fill="#2a2a2a">S 31</text>
<text transform="translate(44.80 234.75) rotate(180)" fill="#2a2a2a">S250</text>
<text transform="translate(44.80 240.05) rotate(180)" fill="#2a2a2a">S215</text>
<text transform="translate(44.80 245.35) rotate(180)" fill="#2a2a2a">S 20</text>
<text transform="translate(44.80 250.65) rotate(180)" fill="#2a2a2a">S158</text>
<text transform="translate(44.80 255.95) rotate(180)" fill="#2a2a2a">S250</text>
<text transform="translate(44.80 261.25) rotate(180)" fill="#2a2a2a">S158</text>
<text transform="translate(44.80 266.55) rotate(180)" fill="#2a2a2a">S 46</text>
<text transform="translate(44.80 271.85) rotate(180)" fill="#2a2a2a">S 31</text>
<text transform="translate(44.80 277.15) rotate(180)" fill="#2a2a2a">S215</text>
<text transform="translate(44.80 282.45) rotate(180)" fill="#2a2a2a">S 20</text>
<text transform="translate(44.80 287.75) rotate(180)" fill="#2a2a2a">S 46</text>
<text transform="translate(44.80 293.05) rotate(180)" fill="#2a2a2a">S 36</text>
<text transform="translate(44.80 298.35) rotate(180)" fill="#2a2a2a">S 31</text>
<text transform="translate(44.80 303.65) rotate(180)" fill="#2a2a2a">S250</text>
<text transform="translate(44.80 308.95) rotate(180)" fill="#2a2a2a">S215</text>
<text transform="translate(44.80 314.25) rotate(180)" fill="#2a2a2a">S 20</text>
<text transform="translate(44.80 319.55) rotate(180)" fill="#2a2a2a">S173</text>
<text transform="translate(44.80 324.85) rotate(180)" fill="#2a2a2a">S 16</text>
<text transform="translate(44.80 330.15) rotate(180)" fill="#2a2a2a">S146</text>
<text transform="translate(44.80 335.45) rotate(180)" fill="#2a2a2a">S223</text>
<text transform="translate(44.80 340.75) rotate(180)" fill="#2a2a2a">S165</text>
<text transform="translate(44.80 346.05) rotate(180)" fill="#2a2a2a">S133</text>
<text transform="translate(44.80 351.35) rotate(180)" fill="#2a2a2a">S104</text>
<text transform="translate(44.80 356.65) rotate(180)" fill="#2a2a2a">S223</text>
<text transform="translate(44.80 361.95) rotate(180)" fill="#2a2a2a">S165</text>
<text transform="translate(44.80 367.25) rotate(180)" fill="#2a2a2a">S133</text>
<text transform="translate(44.80 372.55) rotate(180)" fill="#2a2a2a">S104</text>
<text transform="translate(44.80 377.85) rotate(180)" fill="#2a2a2a">S 46</text>
<text transform="translate(44.80 383.15) rotate(180)" fill="#2a2a2a">S 36</text>
<text transform="translate(44.80 388.45) rotate(180)" fill="#2a2a2a">S 31</text>
<text transform="translate(44.80 393.75) rotate(180)" fill="#2a2a2a">S250</text>
<text transform="translate(44.80 399.05) rotate(180)" fill="#2a2a2a">S215</text>
<text transform="translate(44.80 404.35) rotate(180)" fill="#2a2a2a">S 20</text>
<text transform="translate(44.80 409.65) rotate(180)" fill="#2a2a2a">S173</text>
<text transform="translate(44.80 414.95) rotate(180)" fill="#2a2a2a">S 16</text>
<text transform="translate(44.80 420.25) rotate(180)" fill="#2a2a2a">S158</text>
<text transform="translate(44.80 425.55) rotate(180)" fill="#2a2a2a">S 46</text>
<text transform="translate(44.80 430.85) rotate(180)" fill="#2a2a2a">S250</text>
<text transform="translate(44.80 436.15) rotate(180)" fill="#2a2a2a">S215</text>
<text transform="translate(44.80 441.45) rotate(180)" fill="#2a2a2a">S173</text>
<text transform="translate(44.80 446.75) rotate(180)" fill="#2a2a2a">S158</text>
<text transform="translate(44.80 452.05) rotate(180)" fill="#2a2a2a">S 36</text>
<text transform="translate(44.80 457.35) rotate(180)" fill="#2a2a2a">S 31</text>
<text transform="translate(44.80 462.65) rotate(180)" fill="#2a2a2a">S 20</text>
<text transform="translate(44.80 467.95) rotate(180)" fill="#2a2a2a">S 16</text>
<text transform="translate(44.80 473.25) rotate(180)" fill="#2a2a2a">S 46</text>
<text transform="translate(44.80 478.55) rotate(180)" fill="#2a2a2a">S 36</text>
<text transform="translate(44.80 483.85) rotate(180)" fill="#2a2a2a">S 31</text>
<text transform="translate(44.80 489.15) rotate(180)" fill="#2a2a2a">S250</text>
<text transform="translate(44.80 494.45) rotate(180)" fill="#2a2a2a">S215</text>
<text transform="translate(44.80 499.75) rotate(180)" fill="#2a2a2a">S 20</text>
<text transform="translate(44.80 505.05) rotate(180)" fill="#2a2a2a">S173</text>
<text transform="translate(44.80 510.35) rotate(180)" fill="#2a2a2a">S 16</text>
<text transform="translate(44.80 515.65) rotate(180)" fill="#2a2a2a">S158</text>
<text transform="translate(44.80 520.95) rotate(180)" fill="#2a2a2a">S 46</text>
<text transform="translate(44.80 526.25) rotate(180)" fill="#2a2a2a">S 36</text>
<text transform="translate(44.80 531.55) rotate(180)" fill="#2a2a2a">S 31</text>
<text transform="translate(44.80 536.85) rotate(180)" fill="#2a2a2a">S250</text>
<text transform="translate(44.80 542.15) rotate(180)" fill="#2a2a2a">S215</text>
<text transform="translate(44.80 547.45) rotate(180)" fill="#2a2a2a">S 20</text>
<text transform="translate(44.80 552.75) rotate(180)" fill="#2a2a2a">S173</text>
<text transform="translate(44.80 558.05) rotate(180)" fill="#2a2a2a">S 16</text>
<text transform="translate(44.80 563.35) rotate(180)" fill="#2a2a2a">S158</text>
<text transform="translate(44.80 568.65) rotate(180)" fill="#2a2a2a">S 46</text>
<text transform="translate(44.80 573.95) rotate(180)" fill="#2a2a2a">S 36</text>
<text transform="translate(44.80 579.25) rotate(180)" fill="#2a2a2a">S 31</text>
<text transform="translate(44.80 584.55) rotate(180)" fill="#2a2a2a">S250</text>
<text transform="translate(44.80 589.85) rotate(180)" fill="#2a2a2a">S215</text>
<text transform="translate(44.80 595.15) rotate(180)" fill="#2a2a2a">S 20</text>
<text transform="translate(44.80 600.45) rotate(180)" fill="#2a2a2a">S173</text>
<text transform="translate(44.80 605.75) rotate(180)" fill="#2a2a2a">S 16</text>
<text transform="translate(44.80 611.05) rotate(180)" fill="#2a2a2a">S158</text>
<text transform="translate(44.80 616.35) rotate(180)" fill="#2a2a2a">S 46</text>
<text transform="translate(44.80 621.65) rotate(180)" fill="#2a2a2a">S 36</text>
<text transform="translate(44.80 626.95) rotate(180)" fill="#2a2a2a">S 31</text>
<text transform="translate(44.80 632.25) rotate(180)" fill="#2a2a2a">S 20</text>
<text transform="translate(44.80 637.55) rotate(180)" fill="#2a2a2a">S173</text>
<text transform="translate(44.80 642.85) rotate(180)" fill="#2a2a2a">S 16</text>
<text transform="translate(44.80 648.15) rotate(180)" fill="#2a2a2a">S158</text>
</g>
<text transform="translate(19.30 61.00) rotate(-90)" text-anchor="middle" style="font-size:8.70px;">Cer</text>
<text transform="translate(19.30 108.00) rotate(-90)" text-anchor="middle" style="font-size:8.70px;">Med</text>
<text transform="translate(19.30 164.00) rotate(-90)" text-anchor="middle" style="font-size:8.70px;">Pn</text>
<text transform="translate(19.30 202.40) rotate(-90)" text-anchor="middle" style="font-size:8.70px;">Mb</text>
<text transform="translate(19.30 240.00) rotate(-90)" text-anchor="middle" style="font-size:8.70px;">SN</text>
<text transform="translate(19.30 270.80) rotate(-90)" text-anchor="middle" style="font-size:8.70px;">VTA</text>
<text transform="translate(19.30 301.00) rotate(-90)" text-anchor="middle" style="font-size:8.70px;">Th</text>
<text transform="translate(19.30 334.00) rotate(-90)" text-anchor="middle" style="font-size:8.70px;">Hb</text>
<text transform="translate(19.30 385.30) rotate(-90)" text-anchor="middle" style="font-size:8.70px;">CP</text>
<text transform="translate(19.30 449.70) rotate(-90)" text-anchor="middle" style="font-size:8.70px;">ACB</text>
<text transform="translate(19.30 495.80) rotate(-90)" text-anchor="middle" style="font-size:8.70px;">SSCtx</text>
<text transform="translate(19.30 544.50) rotate(-90)" text-anchor="middle" style="font-size:8.70px;">MoCtx</text>
<text transform="translate(19.30 590.00) rotate(-90)" text-anchor="middle" style="font-size:8.70px;">PFC</text>
<text transform="translate(19.30 634.00) rotate(-90)" text-anchor="middle" style="font-size:8.70px;">OFC</text>
<path d="M32.8 34.95H24.2V183.35H32.8" fill="none" stroke="#f79646" stroke-width="1.6"/>
<text transform="translate(7.00 101.60) rotate(-90)" text-anchor="middle" fill="#f79646" style="font-size:8.50px;">Hindbrain</text>
<path d="M32.8 188.65H24.2V284.05H32.8" fill="none" stroke="#7f5fa9" stroke-width="1.6"/>
<text transform="translate(7.00 235.80) rotate(-90)" text-anchor="middle" fill="#7f5fa9" style="font-size:8.50px;">Midbrain</text>
<path d="M32.8 289.35H24.2V352.95H32.8" fill="none" stroke="#d098dc" stroke-width="1.6"/>
<text transform="translate(7.00 319.50) rotate(-90)" text-anchor="middle" fill="#ee58cc" style="font-size:8.50px;">Interbrain</text>
<path d="M32.8 358.25H24.2V469.55H32.8" fill="none" stroke="#4a86d8" stroke-width="1.6"/>
<text transform="translate(7.00 414.20) rotate(-90)" text-anchor="middle" fill="#4a86d8" style="font-size:8.50px;">Striatum</text>
<path d="M32.8 474.85H24.2V649.75H32.8" fill="none" stroke="#1aab54" stroke-width="1.6"/>
<text transform="translate(7.00 563.00) rotate(-90)" text-anchor="middle" fill="#1aab54" style="font-size:8.50px;">Cerebral cortex</text>
<text x="0.30" y="9.30" style="font-size:12.20px;font-weight:bold;">a</text>
<path d="M67.31 652.70V656.70H73.02V652.70M78.74 652.70V657.10H84.45V652.70M70.16 656.70V661.90H81.60V657.10M61.59 652.70V663.60H75.88V661.90M55.87 652.70V666.60H68.73V663.60M90.17 652.70V668.80H95.89V652.70M62.30 666.60V675.60H93.03V668.80M50.16 652.70V676.60H77.67V675.60M118.75 652.70V654.30H124.47V652.70M113.03 652.70V656.50H121.61V654.30M117.32 656.50V660.60H130.18V652.70M107.32 652.70V662.50H123.75V660.60M101.60 652.70V664.50H115.53V662.50M135.90 652.70V662.80H141.61V652.70M147.33 652.70V661.10H153.05V652.70M138.76 662.80V667.00H150.19V661.10M108.57 664.50V674.40H144.47V667.00M170.19 652.70V656.00H175.91V652.70M164.48 652.70V664.00H173.05V656.00M158.76 652.70V667.00H168.77V664.00M181.63 652.70V670.10H187.34V652.70M163.76 667.00V673.90H184.48V670.10M63.91 676.60V682.40H126.52V674.40M95.22 682.40V684.10H174.12V673.90" fill="none" stroke="#8a8a8a" stroke-width="0.5"/>
<text x="209.40" y="9.00" style="font-size:12.20px;font-weight:bold;">b</text>
<rect x="215.70" y="50.40" width="344.43" height="32.60" fill="#000"/>
<rect x="383.85" y="50.40" width="1.40" height="32.60" fill="#8c8c8c"/>
<rect x="494.00" y="50.40" width="1.40" height="32.60" fill="#8c8c8c"/>
<path fill="#043c27" d="M216.41 51.01h4.50v4.88h-4.50zM221.34 51.01h4.50v4.88h-4.50zM245.96 51.01h4.50v4.88h-4.50zM290.28 51.01h4.50v4.88h-4.50zM324.76 51.01h4.50v4.88h-4.50zM349.38 51.01h4.50v4.88h-4.50zM364.16 51.01h4.50v4.88h-4.50zM295.21 56.31h4.50v4.88h-4.50zM349.38 56.31h4.50v4.88h-4.50zM280.43 77.51h4.50v4.88h-4.50z"/>
<path fill="#021e14" d="M226.26 51.01h4.50v4.88h-4.50zM236.11 51.01h4.50v4.88h-4.50zM280.43 51.01h4.50v4.88h-4.50zM305.06 51.01h4.50v4.88h-4.50zM309.98 51.01h4.50v4.88h-4.50zM329.68 51.01h4.50v4.88h-4.50z"/>
<path fill="#1e031c" d="M231.19 51.01h4.50v4.88h-4.50zM250.88 51.01h4.50v4.88h-4.50zM255.81 51.01h4.50v4.88h-4.50zM270.58 51.01h4.50v4.88h-4.50zM275.51 51.01h4.50v4.88h-4.50zM285.36 51.01h4.50v4.88h-4.50zM300.13 51.01h4.50v4.88h-4.50zM314.91 51.01h4.50v4.88h-4.50zM359.23 51.01h4.50v4.88h-4.50zM369.08 51.01h4.50v4.88h-4.50zM374.01 51.01h4.50v4.88h-4.50zM329.68 56.31h4.50v4.88h-4.50zM221.34 77.51h4.50v4.88h-4.50zM236.11 77.51h4.50v4.88h-4.50zM255.81 77.51h4.50v4.88h-4.50zM260.73 77.51h4.50v4.88h-4.50zM265.66 77.51h4.50v4.88h-4.50zM295.21 77.51h4.50v4.88h-4.50zM305.06 77.51h4.50v4.88h-4.50zM309.98 77.51h4.50v4.88h-4.50zM324.76 77.51h4.50v4.88h-4.50zM334.61 77.51h4.50v4.88h-4.50zM339.53 77.51h4.50v4.88h-4.50zM344.46 77.51h4.50v4.88h-4.50zM349.38 77.51h4.50v4.88h-4.50zM354.31 77.51h4.50v4.88h-4.50zM369.08 77.51h4.50v4.88h-4.50zM374.01 77.51h4.50v4.88h-4.50z"/>
<path fill="#030303" d="M241.03 51.01h4.50v4.88h-4.50zM260.73 51.01h4.50v4.88h-4.50zM265.66 51.01h4.50v4.88h-4.50zM319.83 51.01h4.50v4.88h-4.50zM334.61 51.01h4.50v4.88h-4.50zM300.13 56.31h4.50v4.88h-4.50zM319.83 56.31h4.50v4.88h-4.50zM324.76 56.31h4.50v4.88h-4.50zM339.53 56.31h4.50v4.88h-4.50zM378.94 56.31h4.50v4.88h-4.50zM359.23 66.91h4.50v4.88h-4.50zM364.16 77.51h4.50v4.88h-4.50z"/>
<path fill="#3c0738" d="M295.21 51.01h4.50v4.88h-4.50zM339.53 51.01h4.50v4.88h-4.50zM344.46 51.01h4.50v4.88h-4.50zM354.31 51.01h4.50v4.88h-4.50zM378.94 51.01h4.50v4.88h-4.50zM250.88 56.31h4.50v4.88h-4.50zM260.73 56.31h4.50v4.88h-4.50zM285.36 56.31h4.50v4.88h-4.50zM290.28 56.31h4.50v4.88h-4.50zM334.61 56.31h4.50v4.88h-4.50zM344.46 56.31h4.50v4.88h-4.50zM354.31 56.31h4.50v4.88h-4.50zM359.23 56.31h4.50v4.88h-4.50zM364.16 56.31h4.50v4.88h-4.50zM369.08 56.31h4.50v4.88h-4.50zM374.01 56.31h4.50v4.88h-4.50zM309.98 61.61h4.50v4.88h-4.50zM314.91 61.61h4.50v4.88h-4.50zM334.61 61.61h4.50v4.88h-4.50zM309.98 66.91h4.50v4.88h-4.50zM344.46 66.91h4.50v4.88h-4.50zM349.38 66.91h4.50v4.88h-4.50zM226.26 77.51h4.50v4.88h-4.50zM231.19 77.51h4.50v4.88h-4.50zM250.88 77.51h4.50v4.88h-4.50zM270.58 77.51h4.50v4.88h-4.50zM275.51 77.51h4.50v4.88h-4.50zM285.36 77.51h4.50v4.88h-4.50zM290.28 77.51h4.50v4.88h-4.50zM300.13 77.51h4.50v4.88h-4.50zM314.91 77.51h4.50v4.88h-4.50zM319.83 77.51h4.50v4.88h-4.50zM329.68 77.51h4.50v4.88h-4.50zM359.23 77.51h4.50v4.88h-4.50zM378.94 77.51h4.50v4.88h-4.50z"/>
<path fill="#600b5a" d="M216.41 56.31h4.50v4.88h-4.50zM221.34 56.31h4.50v4.88h-4.50zM241.03 56.31h4.50v4.88h-4.50zM255.81 56.31h4.50v4.88h-4.50zM270.58 56.31h4.50v4.88h-4.50zM275.51 56.31h4.50v4.88h-4.50zM221.34 61.61h4.50v4.88h-4.50zM241.03 61.61h4.50v4.88h-4.50zM250.88 61.61h4.50v4.88h-4.50zM260.73 61.61h4.50v4.88h-4.50zM275.51 61.61h4.50v4.88h-4.50zM280.43 61.61h4.50v4.88h-4.50zM295.21 61.61h4.50v4.88h-4.50zM305.06 61.61h4.50v4.88h-4.50zM324.76 61.61h4.50v4.88h-4.50zM344.46 61.61h4.50v4.88h-4.50zM349.38 61.61h4.50v4.88h-4.50zM359.23 61.61h4.50v4.88h-4.50zM364.16 61.61h4.50v4.88h-4.50zM374.01 61.61h4.50v4.88h-4.50zM216.41 66.91h4.50v4.88h-4.50zM221.34 66.91h4.50v4.88h-4.50zM231.19 66.91h4.50v4.88h-4.50zM250.88 66.91h4.50v4.88h-4.50zM265.66 66.91h4.50v4.88h-4.50zM270.58 66.91h4.50v4.88h-4.50zM275.51 66.91h4.50v4.88h-4.50zM280.43 66.91h4.50v4.88h-4.50zM295.21 66.91h4.50v4.88h-4.50zM305.06 66.91h4.50v4.88h-4.50zM314.91 66.91h4.50v4.88h-4.50zM319.83 66.91h4.50v4.88h-4.50zM324.76 66.91h4.50v4.88h-4.50zM329.68 66.91h4.50v4.88h-4.50zM339.53 66.91h4.50v4.88h-4.50zM354.31 66.91h4.50v4.88h-4.50zM364.16 66.91h4.50v4.88h-4.50zM374.01 66.91h4.50v4.88h-4.50zM378.94 66.91h4.50v4.88h-4.50zM270.58 72.21h4.50v4.88h-4.50zM275.51 72.21h4.50v4.88h-4.50zM295.21 72.21h4.50v4.88h-4.50zM305.06 72.21h4.50v4.88h-4.50zM309.98 72.21h4.50v4.88h-4.50zM314.91 72.21h4.50v4.88h-4.50zM339.53 72.21h4.50v4.88h-4.50zM349.38 72.21h4.50v4.88h-4.50zM378.94 72.21h4.50v4.88h-4.50zM216.41 77.51h4.50v4.88h-4.50zM241.03 77.51h4.50v4.88h-4.50zM245.96 77.51h4.50v4.88h-4.50z"/>
<path fill="#b81da8" d="M226.26 56.31h4.50v4.88h-4.50zM236.11 56.31h4.50v4.88h-4.50zM265.66 56.31h4.50v4.88h-4.50zM280.43 56.31h4.50v4.88h-4.50zM290.28 66.91h4.50v4.88h-4.50zM221.34 72.21h4.50v4.88h-4.50zM241.03 72.21h4.50v4.88h-4.50zM245.96 72.21h4.50v4.88h-4.50zM265.66 72.21h4.50v4.88h-4.50zM280.43 72.21h4.50v4.88h-4.50zM324.76 72.21h4.50v4.88h-4.50zM329.68 72.21h4.50v4.88h-4.50zM334.61 72.21h4.50v4.88h-4.50zM344.46 72.21h4.50v4.88h-4.50z"/>
<path fill="#86117c" d="M231.19 56.31h4.50v4.88h-4.50zM245.96 56.31h4.50v4.88h-4.50zM216.41 61.61h4.50v4.88h-4.50zM226.26 61.61h4.50v4.88h-4.50zM231.19 61.61h4.50v4.88h-4.50zM236.11 61.61h4.50v4.88h-4.50zM245.96 61.61h4.50v4.88h-4.50zM255.81 61.61h4.50v4.88h-4.50zM265.66 61.61h4.50v4.88h-4.50zM270.58 61.61h4.50v4.88h-4.50zM285.36 61.61h4.50v4.88h-4.50zM290.28 61.61h4.50v4.88h-4.50zM300.13 61.61h4.50v4.88h-4.50zM319.83 61.61h4.50v4.88h-4.50zM329.68 61.61h4.50v4.88h-4.50zM339.53 61.61h4.50v4.88h-4.50zM354.31 61.61h4.50v4.88h-4.50zM369.08 61.61h4.50v4.88h-4.50zM378.94 61.61h4.50v4.88h-4.50zM226.26 66.91h4.50v4.88h-4.50zM236.11 66.91h4.50v4.88h-4.50zM241.03 66.91h4.50v4.88h-4.50zM245.96 66.91h4.50v4.88h-4.50zM255.81 66.91h4.50v4.88h-4.50zM260.73 66.91h4.50v4.88h-4.50zM285.36 66.91h4.50v4.88h-4.50zM300.13 66.91h4.50v4.88h-4.50zM334.61 66.91h4.50v4.88h-4.50zM369.08 66.91h4.50v4.88h-4.50zM216.41 72.21h4.50v4.88h-4.50zM226.26 72.21h4.50v4.88h-4.50zM231.19 72.21h4.50v4.88h-4.50zM236.11 72.21h4.50v4.88h-4.50zM250.88 72.21h4.50v4.88h-4.50zM255.81 72.21h4.50v4.88h-4.50zM260.73 72.21h4.50v4.88h-4.50zM285.36 72.21h4.50v4.88h-4.50zM290.28 72.21h4.50v4.88h-4.50zM300.13 72.21h4.50v4.88h-4.50zM319.83 72.21h4.50v4.88h-4.50zM354.31 72.21h4.50v4.88h-4.50zM359.23 72.21h4.50v4.88h-4.50zM364.16 72.21h4.50v4.88h-4.50zM369.08 72.21h4.50v4.88h-4.50zM374.01 72.21h4.50v4.88h-4.50z"/>
<path fill="#18bc7e" d="M305.06 56.31h4.50v4.88h-4.50zM314.91 56.31h4.50v4.88h-4.50z"/>
<path fill="#0a7049" d="M309.98 56.31h4.50v4.88h-4.50z"/>
<path fill="#14a670" d="M385.66 51.01h4.50v4.88h-4.50zM395.51 51.01h4.50v4.88h-4.50zM415.21 51.01h4.50v4.88h-4.50zM425.06 51.01h4.50v4.88h-4.50zM434.91 51.01h4.50v4.88h-4.50zM439.83 51.01h4.50v4.88h-4.50zM444.76 51.01h4.50v4.88h-4.50zM489.08 51.01h4.50v4.88h-4.50zM410.28 56.31h4.50v4.88h-4.50zM479.23 56.31h4.50v4.88h-4.50zM484.16 56.31h4.50v4.88h-4.50zM390.58 61.61h4.50v4.88h-4.50zM400.43 61.61h4.50v4.88h-4.50zM405.36 61.61h4.50v4.88h-4.50zM429.98 61.61h4.50v4.88h-4.50zM434.91 61.61h4.50v4.88h-4.50zM444.76 61.61h4.50v4.88h-4.50zM449.68 61.61h4.50v4.88h-4.50zM454.61 61.61h4.50v4.88h-4.50zM469.38 61.61h4.50v4.88h-4.50zM400.43 66.91h4.50v4.88h-4.50zM405.36 66.91h4.50v4.88h-4.50zM410.28 66.91h4.50v4.88h-4.50zM415.21 66.91h4.50v4.88h-4.50zM420.13 66.91h4.50v4.88h-4.50zM469.38 72.21h4.50v4.88h-4.50zM390.58 77.51h4.50v4.88h-4.50zM405.36 77.51h4.50v4.88h-4.50zM425.06 77.51h4.50v4.88h-4.50zM464.46 77.51h4.50v4.88h-4.50zM469.38 77.51h4.50v4.88h-4.50zM479.23 77.51h4.50v4.88h-4.50z"/>
<path fill="#0d8055" d="M390.58 51.01h4.50v4.88h-4.50zM405.36 51.01h4.50v4.88h-4.50zM410.28 51.01h4.50v4.88h-4.50zM469.38 51.01h4.50v4.88h-4.50zM474.31 51.01h4.50v4.88h-4.50zM479.23 51.01h4.50v4.88h-4.50zM484.16 51.01h4.50v4.88h-4.50zM385.66 56.31h4.50v4.88h-4.50zM405.36 56.31h4.50v4.88h-4.50zM429.98 56.31h4.50v4.88h-4.50zM444.76 56.31h4.50v4.88h-4.50zM449.68 56.31h4.50v4.88h-4.50zM395.51 61.61h4.50v4.88h-4.50zM415.21 61.61h4.50v4.88h-4.50zM420.13 61.61h4.50v4.88h-4.50zM425.06 61.61h4.50v4.88h-4.50zM439.83 61.61h4.50v4.88h-4.50zM479.23 61.61h4.50v4.88h-4.50zM484.16 61.61h4.50v4.88h-4.50zM489.08 61.61h4.50v4.88h-4.50zM390.58 66.91h4.50v4.88h-4.50zM395.51 66.91h4.50v4.88h-4.50zM425.06 66.91h4.50v4.88h-4.50zM429.98 66.91h4.50v4.88h-4.50zM434.91 66.91h4.50v4.88h-4.50zM444.76 66.91h4.50v4.88h-4.50zM449.68 66.91h4.50v4.88h-4.50zM454.61 66.91h4.50v4.88h-4.50zM459.53 66.91h4.50v4.88h-4.50zM464.46 66.91h4.50v4.88h-4.50zM474.31 66.91h4.50v4.88h-4.50zM479.23 66.91h4.50v4.88h-4.50zM484.16 66.91h4.50v4.88h-4.50zM489.08 66.91h4.50v4.88h-4.50zM390.58 72.21h4.50v4.88h-4.50zM400.43 72.21h4.50v4.88h-4.50zM405.36 72.21h4.50v4.88h-4.50zM415.21 72.21h4.50v4.88h-4.50zM420.13 72.21h4.50v4.88h-4.50zM425.06 72.21h4.50v4.88h-4.50zM429.98 72.21h4.50v4.88h-4.50zM434.91 72.21h4.50v4.88h-4.50zM444.76 72.21h4.50v4.88h-4.50zM449.68 72.21h4.50v4.88h-4.50zM459.53 72.21h4.50v4.88h-4.50zM484.16 72.21h4.50v4.88h-4.50zM489.08 72.21h4.50v4.88h-4.50zM415.21 77.51h4.50v4.88h-4.50zM444.76 77.51h4.50v4.88h-4.50zM449.68 77.51h4.50v4.88h-4.50zM454.61 77.51h4.50v4.88h-4.50zM474.31 77.51h4.50v4.88h-4.50zM489.08 77.51h4.50v4.88h-4.50z"/>
<path fill="#075437" d="M400.43 51.01h4.50v4.88h-4.50zM429.98 51.01h4.50v4.88h-4.50zM400.43 56.31h4.50v4.88h-4.50zM454.61 56.31h4.50v4.88h-4.50zM464.46 56.31h4.50v4.88h-4.50zM469.38 56.31h4.50v4.88h-4.50zM464.46 61.61h4.50v4.88h-4.50zM474.31 61.61h4.50v4.88h-4.50zM385.66 66.91h4.50v4.88h-4.50zM439.83 66.91h4.50v4.88h-4.50zM385.66 72.21h4.50v4.88h-4.50zM439.83 72.21h4.50v4.88h-4.50zM464.46 72.21h4.50v4.88h-4.50zM474.31 72.21h4.50v4.88h-4.50zM395.51 77.51h4.50v4.88h-4.50zM484.16 77.51h4.50v4.88h-4.50z"/>
<path fill="#032c1d" d="M420.13 51.01h4.50v4.88h-4.50zM454.61 51.01h4.50v4.88h-4.50zM469.38 66.91h4.50v4.88h-4.50zM395.51 72.21h4.50v4.88h-4.50zM410.28 72.21h4.50v4.88h-4.50z"/>
<path fill="#2cf0a6" d="M449.68 51.01h4.50v4.88h-4.50zM385.66 61.61h4.50v4.88h-4.50zM479.23 72.21h4.50v4.88h-4.50z"/>
<path fill="#1cc888" d="M459.53 51.01h4.50v4.88h-4.50zM410.28 61.61h4.50v4.88h-4.50zM459.53 61.61h4.50v4.88h-4.50zM454.61 72.21h4.50v4.88h-4.50zM385.66 77.51h4.50v4.88h-4.50zM400.43 77.51h4.50v4.88h-4.50zM410.28 77.51h4.50v4.88h-4.50zM420.13 77.51h4.50v4.88h-4.50zM429.98 77.51h4.50v4.88h-4.50zM434.91 77.51h4.50v4.88h-4.50zM439.83 77.51h4.50v4.88h-4.50zM459.53 77.51h4.50v4.88h-4.50z"/>
<path fill="#3c0738" d="M464.46 51.01h4.50v4.88h-4.50zM395.51 56.31h4.50v4.88h-4.50zM474.31 56.31h4.50v4.88h-4.50z"/>
<path fill="#1e031c" d="M390.58 56.31h4.50v4.88h-4.50zM415.21 56.31h4.50v4.88h-4.50zM425.06 56.31h4.50v4.88h-4.50z"/>
<path fill="#030303" d="M420.13 56.31h4.50v4.88h-4.50zM434.91 56.31h4.50v4.88h-4.50zM439.83 56.31h4.50v4.88h-4.50zM459.53 56.31h4.50v4.88h-4.50zM489.08 56.31h4.50v4.88h-4.50z"/>
<path fill="#b81da8" d="M495.81 51.01h4.50v4.88h-4.50zM535.21 51.01h4.50v4.88h-4.50zM505.66 56.31h4.50v4.88h-4.50zM540.13 56.31h4.50v4.88h-4.50zM554.91 56.31h4.50v4.88h-4.50zM505.66 61.61h4.50v4.88h-4.50zM515.51 61.61h4.50v4.88h-4.50zM520.43 61.61h4.50v4.88h-4.50zM525.36 61.61h4.50v4.88h-4.50zM545.06 61.61h4.50v4.88h-4.50zM495.81 77.51h4.50v4.88h-4.50z"/>
<path fill="#030303" d="M500.73 51.01h4.50v4.88h-4.50zM510.58 51.01h4.50v4.88h-4.50z"/>
<path fill="#1e031c" d="M505.66 51.01h4.50v4.88h-4.50zM540.13 51.01h4.50v4.88h-4.50zM500.73 66.91h4.50v4.88h-4.50zM510.58 66.91h4.50v4.88h-4.50zM540.13 66.91h4.50v4.88h-4.50zM500.73 72.21h4.50v4.88h-4.50zM505.66 72.21h4.50v4.88h-4.50zM515.51 72.21h4.50v4.88h-4.50zM520.43 72.21h4.50v4.88h-4.50zM545.06 72.21h4.50v4.88h-4.50zM554.91 72.21h4.50v4.88h-4.50zM510.58 77.51h4.50v4.88h-4.50zM525.36 77.51h4.50v4.88h-4.50zM540.13 77.51h4.50v4.88h-4.50z"/>
<path fill="#86117c" d="M515.51 51.01h4.50v4.88h-4.50zM520.43 51.01h4.50v4.88h-4.50zM549.99 51.01h4.50v4.88h-4.50zM500.73 56.31h4.50v4.88h-4.50zM510.58 56.31h4.50v4.88h-4.50zM549.99 56.31h4.50v4.88h-4.50zM530.28 61.61h4.50v4.88h-4.50zM535.21 61.61h4.50v4.88h-4.50zM540.13 61.61h4.50v4.88h-4.50zM549.99 61.61h4.50v4.88h-4.50zM554.91 61.61h4.50v4.88h-4.50zM495.81 66.91h4.50v4.88h-4.50zM515.51 66.91h4.50v4.88h-4.50zM505.66 77.51h4.50v4.88h-4.50zM535.21 77.51h4.50v4.88h-4.50zM549.99 77.51h4.50v4.88h-4.50z"/>
<path fill="#600b5a" d="M525.36 51.01h4.50v4.88h-4.50zM554.91 51.01h4.50v4.88h-4.50zM500.73 61.61h4.50v4.88h-4.50zM505.66 66.91h4.50v4.88h-4.50zM530.28 66.91h4.50v4.88h-4.50zM535.21 66.91h4.50v4.88h-4.50zM545.06 66.91h4.50v4.88h-4.50zM500.73 77.51h4.50v4.88h-4.50zM515.51 77.51h4.50v4.88h-4.50zM530.28 77.51h4.50v4.88h-4.50zM545.06 77.51h4.50v4.88h-4.50zM554.91 77.51h4.50v4.88h-4.50z"/>
<path fill="#3c0738" d="M530.28 51.01h4.50v4.88h-4.50zM545.06 51.01h4.50v4.88h-4.50zM510.58 61.61h4.50v4.88h-4.50zM520.43 66.91h4.50v4.88h-4.50zM554.91 66.91h4.50v4.88h-4.50zM495.81 72.21h4.50v4.88h-4.50zM510.58 72.21h4.50v4.88h-4.50zM525.36 72.21h4.50v4.88h-4.50zM530.28 72.21h4.50v4.88h-4.50zM535.21 72.21h4.50v4.88h-4.50zM540.13 72.21h4.50v4.88h-4.50zM549.99 72.21h4.50v4.88h-4.50zM520.43 77.51h4.50v4.88h-4.50z"/>
<path fill="#ff58ec" d="M495.81 56.31h4.50v4.88h-4.50zM535.21 56.31h4.50v4.88h-4.50zM545.06 56.31h4.50v4.88h-4.50z"/>
<path fill="#e62cd2" d="M515.51 56.31h4.50v4.88h-4.50zM520.43 56.31h4.50v4.88h-4.50zM525.36 56.31h4.50v4.88h-4.50zM530.28 56.31h4.50v4.88h-4.50zM495.81 61.61h4.50v4.88h-4.50z"/>
<path fill="#043c27" d="M525.36 66.91h4.50v4.88h-4.50z"/>
<path fill="#021e14" d="M549.99 66.91h4.50v4.88h-4.50z"/>
<g style="font-size:4.7px" fill="#0a0a0a">
<text transform="translate(220.26 48.10) rotate(-90)">S158</text>
<text transform="translate(225.19 48.10) rotate(-90)">S 16</text>
<text transform="translate(230.11 48.10) rotate(-90)">S173</text>
<text transform="translate(235.04 48.10) rotate(-90)">S 20</text>
<text transform="translate(239.96 48.10) rotate(-90)">S 31</text>
<text transform="translate(244.89 48.10) rotate(-90)">S 36</text>
<text transform="translate(249.81 48.10) rotate(-90)">S 46</text>
<text transform="translate(254.74 48.10) rotate(-90)">S158</text>
<text transform="translate(259.66 48.10) rotate(-90)">S 16</text>
<text transform="translate(264.59 48.10) rotate(-90)">S173</text>
<text transform="translate(269.51 48.10) rotate(-90)">S 20</text>
<text transform="translate(274.44 48.10) rotate(-90)">S215</text>
<text transform="translate(279.36 48.10) rotate(-90)">S250</text>
<text transform="translate(284.29 48.10) rotate(-90)">S 31</text>
<text transform="translate(289.21 48.10) rotate(-90)">S 36</text>
<text transform="translate(294.14 48.10) rotate(-90)">S 46</text>
<text transform="translate(299.06 48.10) rotate(-90)">S158</text>
<text transform="translate(303.99 48.10) rotate(-90)">S 16</text>
<text transform="translate(308.91 48.10) rotate(-90)">S173</text>
<text transform="translate(313.84 48.10) rotate(-90)">S 20</text>
<text transform="translate(318.76 48.10) rotate(-90)">S215</text>
<text transform="translate(323.69 48.10) rotate(-90)">S250</text>
<text transform="translate(328.61 48.10) rotate(-90)">S 31</text>
<text transform="translate(333.54 48.10) rotate(-90)">S 36</text>
<text transform="translate(338.46 48.10) rotate(-90)">S 46</text>
<text transform="translate(343.39 48.10) rotate(-90)">S158</text>
<text transform="translate(348.31 48.10) rotate(-90)">S 16</text>
<text transform="translate(353.24 48.10) rotate(-90)">S173</text>
<text transform="translate(358.16 48.10) rotate(-90)">S 20</text>
<text transform="translate(363.09 48.10) rotate(-90)">S215</text>
<text transform="translate(368.01 48.10) rotate(-90)">S250</text>
<text transform="translate(372.94 48.10) rotate(-90)">S 31</text>
<text transform="translate(377.86 48.10) rotate(-90)">S 36</text>
<text transform="translate(382.79 48.10) rotate(-90)">S 46</text>
<text transform="translate(389.51 48.10) rotate(-90)">S 16</text>
<text transform="translate(394.44 48.10) rotate(-90)">S 20</text>
<text transform="translate(399.36 48.10) rotate(-90)">S 31</text>
<text transform="translate(404.29 48.10) rotate(-90)">S 36</text>
<text transform="translate(409.21 48.10) rotate(-90)">S158</text>
<text transform="translate(414.14 48.10) rotate(-90)">S173</text>
<text transform="translate(419.06 48.10) rotate(-90)">S215</text>
<text transform="translate(423.99 48.10) rotate(-90)">S250</text>
<text transform="translate(428.91 48.10) rotate(-90)">S 46</text>
<text transform="translate(433.84 48.10) rotate(-90)">S158</text>
<text transform="translate(438.76 48.10) rotate(-90)">S 16</text>
<text transform="translate(443.69 48.10) rotate(-90)">S173</text>
<text transform="translate(448.61 48.10) rotate(-90)">S 20</text>
<text transform="translate(453.54 48.10) rotate(-90)">S215</text>
<text transform="translate(458.46 48.10) rotate(-90)">S250</text>
<text transform="translate(463.39 48.10) rotate(-90)">S 31</text>
<text transform="translate(468.31 48.10) rotate(-90)">S 36</text>
<text transform="translate(473.24 48.10) rotate(-90)">S 46</text>
<text transform="translate(478.16 48.10) rotate(-90)">S104</text>
<text transform="translate(483.09 48.10) rotate(-90)">S133</text>
<text transform="translate(488.01 48.10) rotate(-90)">S165</text>
<text transform="translate(492.94 48.10) rotate(-90)">S223</text>
<text transform="translate(499.66 48.10) rotate(-90)">S104</text>
<text transform="translate(504.59 48.10) rotate(-90)">S133</text>
<text transform="translate(509.51 48.10) rotate(-90)">S165</text>
<text transform="translate(514.44 48.10) rotate(-90)">S223</text>
<text transform="translate(519.36 48.10) rotate(-90)">S146</text>
<text transform="translate(524.29 48.10) rotate(-90)">S 16</text>
<text transform="translate(529.21 48.10) rotate(-90)">S173</text>
<text transform="translate(534.14 48.10) rotate(-90)">S 20</text>
<text transform="translate(539.06 48.10) rotate(-90)">S215</text>
<text transform="translate(543.99 48.10) rotate(-90)">S250</text>
<text transform="translate(548.91 48.10) rotate(-90)">S 31</text>
<text transform="translate(553.84 48.10) rotate(-90)">S 36</text>
<text transform="translate(558.76 48.10) rotate(-90)">S 46</text>
</g>
<path d="M215.60 32.40H245.50" stroke="#111" stroke-width="1.00"/>
<path d="M247.60 32.40H290.20" stroke="#111" stroke-width="1.00"/>
<path d="M294.10 32.40H336.80" stroke="#111" stroke-width="1.00"/>
<path d="M340.40 32.40H383.50" stroke="#111" stroke-width="1.00"/>
<path d="M388.10 32.40H431.80" stroke="#111" stroke-width="1.00"/>
<path d="M434.80 32.40H497.00" stroke="#111" stroke-width="1.00"/>
<path d="M500.40 32.40H519.50" stroke="#111" stroke-width="1.00"/>
<path d="M521.70 32.40H560.60" stroke="#111" stroke-width="1.00"/>
<text x="235.70" y="29.00" text-anchor="middle" style="font-size:8.50px;">OFC</text>
<text x="273.30" y="29.00" text-anchor="middle" style="font-size:8.50px;">PFC</text>
<text x="320.60" y="29.00" text-anchor="middle" style="font-size:8.50px;">MoCtx</text>
<text x="366.50" y="29.00" text-anchor="middle" style="font-size:8.50px;">SSCtx</text>
<text x="414.00" y="29.00" text-anchor="middle" style="font-size:8.50px;">ACB</text>
<text x="469.80" y="29.00" text-anchor="middle" style="font-size:8.50px;">CP</text>
<text x="512.00" y="29.00" text-anchor="middle" style="font-size:8.50px;">Hb</text>
<text x="544.00" y="29.00" text-anchor="middle" style="font-size:8.50px;">Th</text>
<text x="298.80" y="15.70" text-anchor="middle" fill="#1aab54" style="font-size:8.60px;">Cerebral cortex</text>
<text x="439.50" y="15.70" text-anchor="middle" fill="#4a86d8" style="font-size:8.60px;">Striatum</text>
<text x="527.50" y="15.70" text-anchor="middle" fill="#f04fd2" style="font-size:8.60px;">Interbrain</text>
<text x="563.30" y="55.30" style="font-size:6.40px;font-style:italic;">GPR161</text>
<text x="563.30" y="60.99" style="font-size:6.40px;font-style:italic;">GPR153</text>
<text x="563.30" y="66.68" style="font-size:6.40px;font-style:italic;">GPR123</text>
<text x="563.30" y="72.37" style="font-size:6.40px;font-style:italic;">GPR26</text>
<text x="563.30" y="78.06" style="font-size:6.40px;font-style:italic;">GPR162</text>
<text x="563.30" y="83.75" style="font-size:6.40px;font-style:italic;">GPR68</text>
<rect x="215.90" y="134.20" width="283.00" height="36.04" fill="#000"/>
<rect x="386.60" y="134.20" width="1.60" height="36.04" fill="#8c8c8c"/>
<rect x="215.90" y="150.97" width="283.00" height="2.50" fill="#f4f4f4"/>
<path fill="#043c27" d="M216.61 134.81h4.58v5.02h-4.58zM221.61 134.81h4.58v5.02h-4.58zM231.61 134.81h4.58v5.02h-4.58zM236.61 134.81h4.58v5.02h-4.58zM241.61 134.81h4.58v5.02h-4.58zM246.61 134.81h4.58v5.02h-4.58zM251.61 134.81h4.58v5.02h-4.58zM256.61 134.81h4.58v5.02h-4.58zM271.61 134.81h4.58v5.02h-4.58zM276.61 134.81h4.58v5.02h-4.58zM281.61 134.81h4.58v5.02h-4.58zM286.61 134.81h4.58v5.02h-4.58zM321.61 134.81h4.58v5.02h-4.58zM331.61 134.81h4.58v5.02h-4.58zM346.61 134.81h4.58v5.02h-4.58zM351.61 134.81h4.58v5.02h-4.58zM356.61 134.81h4.58v5.02h-4.58zM371.61 134.81h4.58v5.02h-4.58zM381.61 134.81h4.58v5.02h-4.58zM216.61 140.25h4.58v5.02h-4.58zM221.61 140.25h4.58v5.02h-4.58zM236.61 140.25h4.58v5.02h-4.58zM251.61 140.25h4.58v5.02h-4.58zM281.61 140.25h4.58v5.02h-4.58zM306.61 140.25h4.58v5.02h-4.58zM216.61 145.69h4.58v5.02h-4.58zM221.61 145.69h4.58v5.02h-4.58zM226.61 145.69h4.58v5.02h-4.58zM236.61 145.69h4.58v5.02h-4.58z"/>
<path fill="#18bc7e" d="M226.61 134.81h4.58v5.02h-4.58z"/>
<path fill="#021e14" d="M261.61 134.81h4.58v5.02h-4.58zM336.61 134.81h4.58v5.02h-4.58zM376.61 134.81h4.58v5.02h-4.58zM231.61 140.25h4.58v5.02h-4.58z"/>
<path fill="#109663" d="M266.61 134.81h4.58v5.02h-4.58zM306.61 134.81h4.58v5.02h-4.58zM326.61 134.81h4.58v5.02h-4.58zM341.61 134.81h4.58v5.02h-4.58zM271.61 140.25h4.58v5.02h-4.58zM311.61 140.25h4.58v5.02h-4.58zM316.61 140.25h4.58v5.02h-4.58zM251.61 145.69h4.58v5.02h-4.58zM256.61 145.69h4.58v5.02h-4.58zM261.61 145.69h4.58v5.02h-4.58zM266.61 145.69h4.58v5.02h-4.58zM271.61 145.69h4.58v5.02h-4.58zM291.61 145.69h4.58v5.02h-4.58zM296.61 145.69h4.58v5.02h-4.58zM311.61 145.69h4.58v5.02h-4.58zM316.61 145.69h4.58v5.02h-4.58zM321.61 145.69h4.58v5.02h-4.58zM326.61 145.69h4.58v5.02h-4.58zM331.61 145.69h4.58v5.02h-4.58zM336.61 145.69h4.58v5.02h-4.58zM341.61 145.69h4.58v5.02h-4.58zM346.61 145.69h4.58v5.02h-4.58z"/>
<path fill="#0a7049" d="M291.61 134.81h4.58v5.02h-4.58zM296.61 134.81h4.58v5.02h-4.58zM301.61 134.81h4.58v5.02h-4.58zM316.61 134.81h4.58v5.02h-4.58zM366.61 134.81h4.58v5.02h-4.58zM241.61 140.25h4.58v5.02h-4.58zM256.61 140.25h4.58v5.02h-4.58zM261.61 140.25h4.58v5.02h-4.58zM266.61 140.25h4.58v5.02h-4.58zM276.61 140.25h4.58v5.02h-4.58zM286.61 140.25h4.58v5.02h-4.58zM291.61 140.25h4.58v5.02h-4.58zM296.61 140.25h4.58v5.02h-4.58zM301.61 140.25h4.58v5.02h-4.58zM321.61 140.25h4.58v5.02h-4.58zM326.61 140.25h4.58v5.02h-4.58zM331.61 140.25h4.58v5.02h-4.58zM336.61 140.25h4.58v5.02h-4.58zM341.61 140.25h4.58v5.02h-4.58zM346.61 140.25h4.58v5.02h-4.58zM351.61 140.25h4.58v5.02h-4.58zM356.61 140.25h4.58v5.02h-4.58zM361.61 140.25h4.58v5.02h-4.58zM366.61 140.25h4.58v5.02h-4.58zM371.61 140.25h4.58v5.02h-4.58zM376.61 140.25h4.58v5.02h-4.58zM381.61 140.25h4.58v5.02h-4.58zM231.61 145.69h4.58v5.02h-4.58zM241.61 145.69h4.58v5.02h-4.58zM246.61 145.69h4.58v5.02h-4.58zM276.61 145.69h4.58v5.02h-4.58zM281.61 145.69h4.58v5.02h-4.58zM286.61 145.69h4.58v5.02h-4.58zM301.61 145.69h4.58v5.02h-4.58zM306.61 145.69h4.58v5.02h-4.58zM351.61 145.69h4.58v5.02h-4.58zM356.61 145.69h4.58v5.02h-4.58zM361.61 145.69h4.58v5.02h-4.58zM366.61 145.69h4.58v5.02h-4.58zM371.61 145.69h4.58v5.02h-4.58zM376.61 145.69h4.58v5.02h-4.58zM381.61 145.69h4.58v5.02h-4.58z"/>
<path fill="#22e298" d="M311.61 134.81h4.58v5.02h-4.58zM361.61 134.81h4.58v5.02h-4.58z"/>
<path fill="#030303" d="M226.61 140.25h4.58v5.02h-4.58z"/>
<path fill="#1e031c" d="M246.61 140.25h4.58v5.02h-4.58z"/>
<path fill="#030303" d="M216.61 153.73h4.58v5.02h-4.58zM276.61 153.73h4.58v5.02h-4.58zM321.61 153.73h4.58v5.02h-4.58zM331.61 153.73h4.58v5.02h-4.58zM346.61 153.73h4.58v5.02h-4.58zM356.61 153.73h4.58v5.02h-4.58zM371.61 153.73h4.58v5.02h-4.58zM376.61 153.73h4.58v5.02h-4.58zM381.61 153.73h4.58v5.02h-4.58zM221.61 159.17h4.58v5.02h-4.58zM256.61 159.17h4.58v5.02h-4.58zM261.61 159.17h4.58v5.02h-4.58zM266.61 159.17h4.58v5.02h-4.58zM271.61 159.17h4.58v5.02h-4.58zM291.61 159.17h4.58v5.02h-4.58zM296.61 159.17h4.58v5.02h-4.58zM311.61 159.17h4.58v5.02h-4.58zM316.61 159.17h4.58v5.02h-4.58zM341.61 159.17h4.58v5.02h-4.58zM356.61 159.17h4.58v5.02h-4.58zM361.61 159.17h4.58v5.02h-4.58zM376.61 159.17h4.58v5.02h-4.58zM381.61 159.17h4.58v5.02h-4.58zM341.61 164.61h4.58v5.02h-4.58zM366.61 164.61h4.58v5.02h-4.58z"/>
<path fill="#3c0738" d="M221.61 153.73h4.58v5.02h-4.58zM256.61 153.73h4.58v5.02h-4.58zM216.61 164.61h4.58v5.02h-4.58zM251.61 164.61h4.58v5.02h-4.58zM261.61 164.61h4.58v5.02h-4.58zM271.61 164.61h4.58v5.02h-4.58zM291.61 164.61h4.58v5.02h-4.58zM306.61 164.61h4.58v5.02h-4.58zM331.61 164.61h4.58v5.02h-4.58zM361.61 164.61h4.58v5.02h-4.58zM371.61 164.61h4.58v5.02h-4.58z"/>
<path fill="#86117c" d="M226.61 153.73h4.58v5.02h-4.58zM231.61 153.73h4.58v5.02h-4.58zM266.61 153.73h4.58v5.02h-4.58zM221.61 164.61h4.58v5.02h-4.58zM241.61 164.61h4.58v5.02h-4.58zM281.61 164.61h4.58v5.02h-4.58z"/>
<path fill="#600b5a" d="M236.61 153.73h4.58v5.02h-4.58zM336.61 153.73h4.58v5.02h-4.58zM226.61 164.61h4.58v5.02h-4.58zM231.61 164.61h4.58v5.02h-4.58zM236.61 164.61h4.58v5.02h-4.58zM246.61 164.61h4.58v5.02h-4.58zM256.61 164.61h4.58v5.02h-4.58zM266.61 164.61h4.58v5.02h-4.58zM276.61 164.61h4.58v5.02h-4.58zM286.61 164.61h4.58v5.02h-4.58zM336.61 164.61h4.58v5.02h-4.58zM346.61 164.61h4.58v5.02h-4.58z"/>
<path fill="#b81da8" d="M241.61 153.73h4.58v5.02h-4.58zM246.61 153.73h4.58v5.02h-4.58z"/>
<path fill="#1e031c" d="M251.61 153.73h4.58v5.02h-4.58zM286.61 153.73h4.58v5.02h-4.58zM291.61 153.73h4.58v5.02h-4.58zM366.61 153.73h4.58v5.02h-4.58zM216.61 159.17h4.58v5.02h-4.58zM226.61 159.17h4.58v5.02h-4.58zM246.61 159.17h4.58v5.02h-4.58zM251.61 159.17h4.58v5.02h-4.58zM281.61 159.17h4.58v5.02h-4.58zM286.61 159.17h4.58v5.02h-4.58zM301.61 159.17h4.58v5.02h-4.58zM326.61 159.17h4.58v5.02h-4.58zM331.61 159.17h4.58v5.02h-4.58zM336.61 159.17h4.58v5.02h-4.58zM346.61 159.17h4.58v5.02h-4.58zM371.61 159.17h4.58v5.02h-4.58zM296.61 164.61h4.58v5.02h-4.58zM301.61 164.61h4.58v5.02h-4.58zM311.61 164.61h4.58v5.02h-4.58zM316.61 164.61h4.58v5.02h-4.58zM321.61 164.61h4.58v5.02h-4.58zM326.61 164.61h4.58v5.02h-4.58zM356.61 164.61h4.58v5.02h-4.58zM376.61 164.61h4.58v5.02h-4.58z"/>
<path fill="#043c27" d="M261.61 153.73h4.58v5.02h-4.58zM271.61 153.73h4.58v5.02h-4.58zM306.61 153.73h4.58v5.02h-4.58zM311.61 153.73h4.58v5.02h-4.58zM361.61 153.73h4.58v5.02h-4.58zM241.61 159.17h4.58v5.02h-4.58zM351.61 159.17h4.58v5.02h-4.58zM366.61 159.17h4.58v5.02h-4.58z"/>
<path fill="#e62cd2" d="M281.61 153.73h4.58v5.02h-4.58z"/>
<path fill="#0a7049" d="M296.61 153.73h4.58v5.02h-4.58zM351.61 153.73h4.58v5.02h-4.58zM306.61 159.17h4.58v5.02h-4.58zM321.61 159.17h4.58v5.02h-4.58z"/>
<path fill="#021e14" d="M301.61 153.73h4.58v5.02h-4.58zM326.61 153.73h4.58v5.02h-4.58zM341.61 153.73h4.58v5.02h-4.58zM231.61 159.17h4.58v5.02h-4.58zM276.61 159.17h4.58v5.02h-4.58zM351.61 164.61h4.58v5.02h-4.58zM381.61 164.61h4.58v5.02h-4.58z"/>
<path fill="#109663" d="M316.61 153.73h4.58v5.02h-4.58zM236.61 159.17h4.58v5.02h-4.58z"/>
<path fill="#aa139c" d="M388.60 134.80h4.60v5.04h-4.60zM398.60 134.80h4.60v5.04h-4.60zM408.60 134.80h4.60v5.04h-4.60zM418.60 134.80h4.60v5.04h-4.60zM423.60 134.80h4.60v5.04h-4.60zM433.60 134.80h4.60v5.04h-4.60zM438.60 134.80h4.60v5.04h-4.60zM443.60 134.80h4.60v5.04h-4.60zM453.60 134.80h4.60v5.04h-4.60zM458.60 134.80h4.60v5.04h-4.60zM473.60 134.80h4.60v5.04h-4.60zM478.60 134.80h4.60v5.04h-4.60zM468.60 140.24h4.60v5.04h-4.60zM483.60 140.24h4.60v5.04h-4.60zM488.60 140.24h4.60v5.04h-4.60zM493.60 140.24h4.60v5.04h-4.60zM428.60 145.68h4.60v5.04h-4.60zM488.60 145.68h4.60v5.04h-4.60z"/>
<path fill="#d21dc1" d="M393.60 134.80h4.60v5.04h-4.60zM403.60 134.80h4.60v5.04h-4.60zM413.60 134.80h4.60v5.04h-4.60zM428.60 134.80h4.60v5.04h-4.60zM448.60 134.80h4.60v5.04h-4.60zM463.60 134.80h4.60v5.04h-4.60zM493.60 134.80h4.60v5.04h-4.60zM433.60 140.24h4.60v5.04h-4.60zM438.60 140.24h4.60v5.04h-4.60zM443.60 140.24h4.60v5.04h-4.60zM453.60 140.24h4.60v5.04h-4.60zM458.60 140.24h4.60v5.04h-4.60zM463.60 140.24h4.60v5.04h-4.60zM473.60 140.24h4.60v5.04h-4.60zM478.60 140.24h4.60v5.04h-4.60zM388.60 145.68h4.60v5.04h-4.60zM398.60 145.68h4.60v5.04h-4.60zM403.60 145.68h4.60v5.04h-4.60zM413.60 145.68h4.60v5.04h-4.60zM418.60 145.68h4.60v5.04h-4.60zM423.60 145.68h4.60v5.04h-4.60zM433.60 145.68h4.60v5.04h-4.60zM438.60 145.68h4.60v5.04h-4.60zM448.60 145.68h4.60v5.04h-4.60zM453.60 145.68h4.60v5.04h-4.60zM458.60 145.68h4.60v5.04h-4.60zM468.60 145.68h4.60v5.04h-4.60zM478.60 145.68h4.60v5.04h-4.60zM483.60 145.68h4.60v5.04h-4.60z"/>
<path fill="#870f7c" d="M468.60 134.80h4.60v5.04h-4.60zM483.60 134.80h4.60v5.04h-4.60zM488.60 134.80h4.60v5.04h-4.60z"/>
<path fill="#ee2edc" d="M388.60 140.24h4.60v5.04h-4.60zM408.60 140.24h4.60v5.04h-4.60zM413.60 140.24h4.60v5.04h-4.60zM423.60 140.24h4.60v5.04h-4.60zM428.60 140.24h4.60v5.04h-4.60zM448.60 140.24h4.60v5.04h-4.60zM393.60 145.68h4.60v5.04h-4.60zM408.60 145.68h4.60v5.04h-4.60zM443.60 145.68h4.60v5.04h-4.60zM463.60 145.68h4.60v5.04h-4.60zM473.60 145.68h4.60v5.04h-4.60zM493.60 145.68h4.60v5.04h-4.60z"/>
<path fill="#ff54ee" d="M393.60 140.24h4.60v5.04h-4.60zM398.60 140.24h4.60v5.04h-4.60zM403.60 140.24h4.60v5.04h-4.60zM418.60 140.24h4.60v5.04h-4.60z"/>
<path fill="#aa139c" d="M388.60 153.72h4.60v5.04h-4.60zM408.60 153.72h4.60v5.04h-4.60zM418.60 153.72h4.60v5.04h-4.60zM478.60 153.72h4.60v5.04h-4.60zM388.60 164.60h4.60v5.04h-4.60zM393.60 164.60h4.60v5.04h-4.60zM398.60 164.60h4.60v5.04h-4.60zM413.60 164.60h4.60v5.04h-4.60zM418.60 164.60h4.60v5.04h-4.60zM428.60 164.60h4.60v5.04h-4.60zM438.60 164.60h4.60v5.04h-4.60zM443.60 164.60h4.60v5.04h-4.60zM448.60 164.60h4.60v5.04h-4.60zM453.60 164.60h4.60v5.04h-4.60zM458.60 164.60h4.60v5.04h-4.60zM463.60 164.60h4.60v5.04h-4.60zM468.60 164.60h4.60v5.04h-4.60zM473.60 164.60h4.60v5.04h-4.60zM478.60 164.60h4.60v5.04h-4.60zM483.60 164.60h4.60v5.04h-4.60zM488.60 164.60h4.60v5.04h-4.60zM493.60 164.60h4.60v5.04h-4.60z"/>
<path fill="#d21dc1" d="M393.60 153.72h4.60v5.04h-4.60zM398.60 153.72h4.60v5.04h-4.60zM403.60 153.72h4.60v5.04h-4.60zM413.60 153.72h4.60v5.04h-4.60zM428.60 153.72h4.60v5.04h-4.60zM433.60 153.72h4.60v5.04h-4.60zM438.60 153.72h4.60v5.04h-4.60zM448.60 153.72h4.60v5.04h-4.60zM453.60 153.72h4.60v5.04h-4.60zM458.60 153.72h4.60v5.04h-4.60zM463.60 153.72h4.60v5.04h-4.60zM473.60 153.72h4.60v5.04h-4.60zM483.60 153.72h4.60v5.04h-4.60zM488.60 153.72h4.60v5.04h-4.60zM428.60 159.16h4.60v5.04h-4.60zM463.60 159.16h4.60v5.04h-4.60zM468.60 159.16h4.60v5.04h-4.60zM478.60 159.16h4.60v5.04h-4.60zM488.60 159.16h4.60v5.04h-4.60zM493.60 159.16h4.60v5.04h-4.60zM403.60 164.60h4.60v5.04h-4.60zM408.60 164.60h4.60v5.04h-4.60zM423.60 164.60h4.60v5.04h-4.60zM433.60 164.60h4.60v5.04h-4.60z"/>
<path fill="#ee2edc" d="M423.60 153.72h4.60v5.04h-4.60zM443.60 153.72h4.60v5.04h-4.60zM493.60 153.72h4.60v5.04h-4.60zM388.60 159.16h4.60v5.04h-4.60zM393.60 159.16h4.60v5.04h-4.60zM398.60 159.16h4.60v5.04h-4.60zM403.60 159.16h4.60v5.04h-4.60zM408.60 159.16h4.60v5.04h-4.60zM413.60 159.16h4.60v5.04h-4.60zM418.60 159.16h4.60v5.04h-4.60zM423.60 159.16h4.60v5.04h-4.60zM433.60 159.16h4.60v5.04h-4.60zM438.60 159.16h4.60v5.04h-4.60zM443.60 159.16h4.60v5.04h-4.60zM448.60 159.16h4.60v5.04h-4.60zM453.60 159.16h4.60v5.04h-4.60zM458.60 159.16h4.60v5.04h-4.60zM473.60 159.16h4.60v5.04h-4.60zM483.60 159.16h4.60v5.04h-4.60z"/>
<path fill="#870f7c" d="M468.60 153.72h4.60v5.04h-4.60z"/>
<g style="font-size:4.7px" fill="#0a0a0a">
<text transform="translate(220.50 132.30) rotate(-90)">S158</text>
<text transform="translate(225.50 132.30) rotate(-90)">S 16</text>
<text transform="translate(230.50 132.30) rotate(-90)">S173</text>
<text transform="translate(235.50 132.30) rotate(-90)">S 20</text>
<text transform="translate(240.50 132.30) rotate(-90)">S 31</text>
<text transform="translate(245.50 132.30) rotate(-90)">S 36</text>
<text transform="translate(250.50 132.30) rotate(-90)">S 46</text>
<text transform="translate(255.50 132.30) rotate(-90)">S158</text>
<text transform="translate(260.50 132.30) rotate(-90)">S 16</text>
<text transform="translate(265.50 132.30) rotate(-90)">S173</text>
<text transform="translate(270.50 132.30) rotate(-90)">S 20</text>
<text transform="translate(275.50 132.30) rotate(-90)">S215</text>
<text transform="translate(280.50 132.30) rotate(-90)">S250</text>
<text transform="translate(285.50 132.30) rotate(-90)">S 31</text>
<text transform="translate(290.50 132.30) rotate(-90)">S 36</text>
<text transform="translate(295.50 132.30) rotate(-90)">S 46</text>
<text transform="translate(300.50 132.30) rotate(-90)">S158</text>
<text transform="translate(305.50 132.30) rotate(-90)">S 16</text>
<text transform="translate(310.50 132.30) rotate(-90)">S173</text>
<text transform="translate(315.50 132.30) rotate(-90)">S 20</text>
<text transform="translate(320.50 132.30) rotate(-90)">S215</text>
<text transform="translate(325.50 132.30) rotate(-90)">S250</text>
<text transform="translate(330.50 132.30) rotate(-90)">S 31</text>
<text transform="translate(335.50 132.30) rotate(-90)">S 36</text>
<text transform="translate(340.50 132.30) rotate(-90)">S 46</text>
<text transform="translate(345.50 132.30) rotate(-90)">S158</text>
<text transform="translate(350.50 132.30) rotate(-90)">S 16</text>
<text transform="translate(355.50 132.30) rotate(-90)">S173</text>
<text transform="translate(360.50 132.30) rotate(-90)">S 20</text>
<text transform="translate(365.50 132.30) rotate(-90)">S215</text>
<text transform="translate(370.50 132.30) rotate(-90)">S250</text>
<text transform="translate(375.50 132.30) rotate(-90)">S 31</text>
<text transform="translate(380.50 132.30) rotate(-90)">S 36</text>
<text transform="translate(385.50 132.30) rotate(-90)">S 46</text>
<text transform="translate(392.50 132.30) rotate(-90)">S 16</text>
<text transform="translate(397.50 132.30) rotate(-90)">S 20</text>
<text transform="translate(402.50 132.30) rotate(-90)">S 31</text>
<text transform="translate(407.50 132.30) rotate(-90)">S 36</text>
<text transform="translate(412.50 132.30) rotate(-90)">S158</text>
<text transform="translate(417.50 132.30) rotate(-90)">S173</text>
<text transform="translate(422.50 132.30) rotate(-90)">S215</text>
<text transform="translate(427.50 132.30) rotate(-90)">S250</text>
<text transform="translate(432.50 132.30) rotate(-90)">S 46</text>
<text transform="translate(437.50 132.30) rotate(-90)">S158</text>
<text transform="translate(442.50 132.30) rotate(-90)">S 16</text>
<text transform="translate(447.50 132.30) rotate(-90)">S173</text>
<text transform="translate(452.50 132.30) rotate(-90)">S 20</text>
<text transform="translate(457.50 132.30) rotate(-90)">S215</text>
<text transform="translate(462.50 132.30) rotate(-90)">S250</text>
<text transform="translate(467.50 132.30) rotate(-90)">S 31</text>
<text transform="translate(472.50 132.30) rotate(-90)">S 36</text>
<text transform="translate(477.50 132.30) rotate(-90)">S 46</text>
<text transform="translate(482.50 132.30) rotate(-90)">S104</text>
<text transform="translate(487.50 132.30) rotate(-90)">S133</text>
<text transform="translate(492.50 132.30) rotate(-90)">S165</text>
<text transform="translate(497.50 132.30) rotate(-90)">S223</text>
</g>
<path d="M219.50 119.50H248.40" stroke="#111" stroke-width="1.00"/>
<path d="M250.10 119.50H292.20" stroke="#111" stroke-width="1.00"/>
<path d="M296.40 119.50H337.90" stroke="#111" stroke-width="1.00"/>
<path d="M341.30 119.50H382.90" stroke="#111" stroke-width="1.00"/>
<path d="M387.40 119.50H429.80" stroke="#111" stroke-width="1.00"/>
<path d="M432.90 119.50H493.80" stroke="#111" stroke-width="1.00"/>
<text x="239.20" y="116.70" text-anchor="middle" style="font-size:8.50px;">OFC</text>
<text x="276.20" y="116.70" text-anchor="middle" style="font-size:8.50px;">PFC</text>
<text x="321.50" y="116.70" text-anchor="middle" style="font-size:8.50px;">MoCtx</text>
<text x="367.50" y="116.70" text-anchor="middle" style="font-size:8.50px;">SSCtx</text>
<text x="414.50" y="116.70" text-anchor="middle" style="font-size:8.50px;">ACB</text>
<text x="467.00" y="116.70" text-anchor="middle" style="font-size:8.50px;">CP</text>
<text x="297.00" y="105.30" text-anchor="middle" fill="#1aab54" style="font-size:8.60px;">Cerebral cortex</text>
<text x="439.50" y="105.30" text-anchor="middle" fill="#4a86d8" style="font-size:8.60px;">Striatum</text>
<text x="501.00" y="139.20" style="font-size:6.30px;font-style:italic;">GPR27</text>
<text x="501.00" y="144.60" style="font-size:6.30px;font-style:italic;">GPR88</text>
<text x="501.00" y="150.40" style="font-size:6.30px;font-style:italic;">GPR98</text>
<text x="501.00" y="158.30" style="font-size:6.30px;font-style:italic;">GPR149</text>
<text x="501.00" y="164.00" style="font-size:6.30px;font-style:italic;">GPR101</text>
<text x="501.00" y="169.90" style="font-size:6.30px;font-style:italic;">GPR139</text>
<rect x="213.10" y="226.40" width="104.60" height="14.30" fill="#000"/>
<rect x="213.90" y="232.60" width="103.00" height="1.90" fill="#fff"/>
<rect x="213.10" y="243.60" width="104.60" height="35.32" fill="#000"/>
<rect x="245.10" y="226.40" width="1.80" height="14.30" fill="#8c8c8c"/>
<rect x="245.10" y="243.60" width="1.80" height="35.32" fill="#8c8c8c"/>
<rect x="283.90" y="226.40" width="1.80" height="14.30" fill="#8c8c8c"/>
<rect x="283.90" y="243.60" width="1.80" height="35.32" fill="#8c8c8c"/>
<path fill="#30f0aa" d="M213.81 227.11h4.78v4.98h-4.78z"/>
<path fill="#44083e" d="M219.01 227.11h4.78v4.98h-4.78z"/>
<path fill="#109663" d="M224.21 227.11h4.78v4.98h-4.78z"/>
<path fill="#021e14" d="M229.41 227.11h4.78v4.98h-4.78z"/>
<path fill="#9a128e" d="M234.61 227.11h4.78v4.98h-4.78z"/>
<path fill="#cd1ebc" d="M239.81 227.11h4.78v4.98h-4.78z"/>
<path fill="#44083e" d="M213.81 235.01h4.78v4.98h-4.78zM219.01 235.01h4.78v4.98h-4.78zM224.21 235.01h4.78v4.98h-4.78zM229.41 235.01h4.78v4.98h-4.78zM234.61 235.01h4.78v4.98h-4.78z"/>
<path fill="#9a128e" d="M239.81 235.01h4.78v4.98h-4.78z"/>
<path fill="#cd1ebc" d="M213.81 244.31h4.78v5.30h-4.78zM234.61 250.03h4.78v5.30h-4.78zM219.01 267.19h4.78v5.30h-4.78zM224.21 267.19h4.78v5.30h-4.78z"/>
<path fill="#44083e" d="M219.01 244.31h4.78v5.30h-4.78zM224.21 244.31h4.78v5.30h-4.78zM234.61 255.75h4.78v5.30h-4.78zM234.61 267.19h4.78v5.30h-4.78zM219.01 272.91h4.78v5.30h-4.78zM234.61 272.91h4.78v5.30h-4.78z"/>
<path fill="#9a128e" d="M229.41 244.31h4.78v5.30h-4.78zM219.01 250.03h4.78v5.30h-4.78zM224.21 250.03h4.78v5.30h-4.78zM229.41 261.47h4.78v5.30h-4.78z"/>
<path fill="#1e031c" d="M234.61 244.31h4.78v5.30h-4.78zM213.81 250.03h4.78v5.30h-4.78zM239.81 250.03h4.78v5.30h-4.78zM239.81 255.75h4.78v5.30h-4.78zM239.81 261.47h4.78v5.30h-4.78zM213.81 272.91h4.78v5.30h-4.78zM224.21 272.91h4.78v5.30h-4.78zM229.41 272.91h4.78v5.30h-4.78z"/>
<path fill="#030303" d="M239.81 244.31h4.78v5.30h-4.78z"/>
<path fill="#700d68" d="M229.41 250.03h4.78v5.30h-4.78zM224.21 255.75h4.78v5.30h-4.78zM229.41 255.75h4.78v5.30h-4.78zM219.01 261.47h4.78v5.30h-4.78zM224.21 261.47h4.78v5.30h-4.78zM234.61 261.47h4.78v5.30h-4.78zM239.81 267.19h4.78v5.30h-4.78z"/>
<path fill="#ee2eda" d="M213.81 255.75h4.78v5.30h-4.78zM213.81 261.47h4.78v5.30h-4.78z"/>
<path fill="#021e14" d="M219.01 255.75h4.78v5.30h-4.78zM213.81 267.19h4.78v5.30h-4.78z"/>
<path fill="#30f0aa" d="M229.41 267.19h4.78v5.30h-4.78z"/>
<path fill="#109663" d="M239.81 272.91h4.78v5.30h-4.78z"/>
<path fill="#ee2eda" d="M247.41 227.11h4.78v4.98h-4.78zM252.61 227.11h4.78v4.98h-4.78zM278.61 227.11h4.78v4.98h-4.78z"/>
<path fill="#cd1ebc" d="M257.81 227.11h4.78v4.98h-4.78zM263.01 227.11h4.78v4.98h-4.78zM268.21 227.11h4.78v4.98h-4.78zM273.41 227.11h4.78v4.98h-4.78z"/>
<path fill="#9a128e" d="M247.41 235.01h4.78v4.98h-4.78zM257.81 235.01h4.78v4.98h-4.78zM263.01 235.01h4.78v4.98h-4.78zM273.41 235.01h4.78v4.98h-4.78zM278.61 235.01h4.78v4.98h-4.78z"/>
<path fill="#cd1ebc" d="M252.61 235.01h4.78v4.98h-4.78z"/>
<path fill="#700d68" d="M268.21 235.01h4.78v4.98h-4.78z"/>
<path fill="#cd1ebc" d="M247.41 244.31h4.78v5.30h-4.78zM263.01 244.31h4.78v5.30h-4.78zM247.41 267.19h4.78v5.30h-4.78zM268.21 267.19h4.78v5.30h-4.78z"/>
<path fill="#030303" d="M252.61 244.31h4.78v5.30h-4.78zM252.61 261.47h4.78v5.30h-4.78zM252.61 272.91h4.78v5.30h-4.78zM278.61 272.91h4.78v5.30h-4.78z"/>
<path fill="#700d68" d="M257.81 244.31h4.78v5.30h-4.78zM273.41 244.31h4.78v5.30h-4.78zM278.61 244.31h4.78v5.30h-4.78zM263.01 261.47h4.78v5.30h-4.78zM273.41 267.19h4.78v5.30h-4.78z"/>
<path fill="#ee2eda" d="M268.21 244.31h4.78v5.30h-4.78zM268.21 250.03h4.78v5.30h-4.78z"/>
<path fill="#1e031c" d="M247.41 250.03h4.78v5.30h-4.78zM252.61 250.03h4.78v5.30h-4.78zM273.41 250.03h4.78v5.30h-4.78zM268.21 255.75h4.78v5.30h-4.78zM257.81 261.47h4.78v5.30h-4.78zM247.41 272.91h4.78v5.30h-4.78z"/>
<path fill="#44083e" d="M257.81 250.03h4.78v5.30h-4.78zM252.61 255.75h4.78v5.30h-4.78zM257.81 272.91h4.78v5.30h-4.78zM263.01 272.91h4.78v5.30h-4.78zM268.21 272.91h4.78v5.30h-4.78zM273.41 272.91h4.78v5.30h-4.78z"/>
<path fill="#9a128e" d="M263.01 250.03h4.78v5.30h-4.78zM268.21 261.47h4.78v5.30h-4.78zM252.61 267.19h4.78v5.30h-4.78zM263.01 267.19h4.78v5.30h-4.78zM278.61 267.19h4.78v5.30h-4.78z"/>
<path fill="#0a7049" d="M278.61 250.03h4.78v5.30h-4.78zM247.41 255.75h4.78v5.30h-4.78zM263.01 255.75h4.78v5.30h-4.78z"/>
<path fill="#18bc7e" d="M257.81 255.75h4.78v5.30h-4.78z"/>
<path fill="#043c27" d="M273.41 255.75h4.78v5.30h-4.78zM247.41 261.47h4.78v5.30h-4.78zM273.41 261.47h4.78v5.30h-4.78zM257.81 267.19h4.78v5.30h-4.78z"/>
<path fill="#021e14" d="M278.61 255.75h4.78v5.30h-4.78z"/>
<path fill="#109663" d="M278.61 261.47h4.78v5.30h-4.78z"/>
<path fill="#30f0aa" d="M286.21 227.11h4.78v4.98h-4.78z"/>
<path fill="#030303" d="M291.41 227.11h4.78v4.98h-4.78z"/>
<path fill="#1e031c" d="M296.61 227.11h4.78v4.98h-4.78z"/>
<path fill="#18bc7e" d="M301.81 227.11h4.78v4.98h-4.78z"/>
<path fill="#043c27" d="M307.01 227.11h4.78v4.98h-4.78z"/>
<path fill="#0a7049" d="M312.21 227.11h4.78v4.98h-4.78z"/>
<path fill="#30f0aa" d="M286.21 235.01h4.78v4.98h-4.78zM301.81 235.01h4.78v4.98h-4.78zM307.01 235.01h4.78v4.98h-4.78zM312.21 235.01h4.78v4.98h-4.78z"/>
<path fill="#44083e" d="M291.41 235.01h4.78v4.98h-4.78zM296.61 235.01h4.78v4.98h-4.78z"/>
<path fill="#9a128e" d="M286.21 244.31h4.78v5.30h-4.78zM291.41 244.31h4.78v5.30h-4.78zM307.01 250.03h4.78v5.30h-4.78zM312.21 250.03h4.78v5.30h-4.78zM296.61 261.47h4.78v5.30h-4.78z"/>
<path fill="#cd1ebc" d="M296.61 244.31h4.78v5.30h-4.78zM312.21 244.31h4.78v5.30h-4.78zM291.41 250.03h4.78v5.30h-4.78zM296.61 250.03h4.78v5.30h-4.78zM312.21 261.47h4.78v5.30h-4.78zM296.61 267.19h4.78v5.30h-4.78z"/>
<path fill="#700d68" d="M301.81 244.31h4.78v5.30h-4.78zM301.81 250.03h4.78v5.30h-4.78zM291.41 255.75h4.78v5.30h-4.78zM291.41 261.47h4.78v5.30h-4.78z"/>
<path fill="#1e031c" d="M307.01 244.31h4.78v5.30h-4.78zM296.61 255.75h4.78v5.30h-4.78zM286.21 267.19h4.78v5.30h-4.78zM307.01 267.19h4.78v5.30h-4.78zM301.81 272.91h4.78v5.30h-4.78z"/>
<path fill="#44083e" d="M286.21 250.03h4.78v5.30h-4.78zM291.41 267.19h4.78v5.30h-4.78zM286.21 272.91h4.78v5.30h-4.78zM291.41 272.91h4.78v5.30h-4.78zM296.61 272.91h4.78v5.30h-4.78zM307.01 272.91h4.78v5.30h-4.78zM312.21 272.91h4.78v5.30h-4.78z"/>
<path fill="#ee2eda" d="M286.21 255.75h4.78v5.30h-4.78zM307.01 255.75h4.78v5.30h-4.78zM312.21 255.75h4.78v5.30h-4.78zM286.21 261.47h4.78v5.30h-4.78zM301.81 261.47h4.78v5.30h-4.78zM307.01 261.47h4.78v5.30h-4.78z"/>
<path fill="#ff56ee" d="M301.81 255.75h4.78v5.30h-4.78z"/>
<path fill="#030303" d="M301.81 267.19h4.78v5.30h-4.78z"/>
<path fill="#30f0aa" d="M312.21 267.19h4.78v5.30h-4.78z"/>
<g style="font-size:4.7px" fill="#0a0a0a">
<text transform="translate(217.80 224.40) rotate(-90)">S 20</text>
<text transform="translate(223.00 224.40) rotate(-90)">S215</text>
<text transform="translate(228.20 224.40) rotate(-90)">S 31</text>
<text transform="translate(233.40 224.40) rotate(-90)">S 46</text>
<text transform="translate(238.60 224.40) rotate(-90)">S158</text>
<text transform="translate(243.80 224.40) rotate(-90)">S250</text>
<text transform="translate(251.40 224.40) rotate(-90)">S158</text>
<text transform="translate(256.60 224.40) rotate(-90)">S 20</text>
<text transform="translate(261.80 224.40) rotate(-90)">S215</text>
<text transform="translate(267.00 224.40) rotate(-90)">S250</text>
<text transform="translate(272.20 224.40) rotate(-90)">S 31</text>
<text transform="translate(277.40 224.40) rotate(-90)">S 36</text>
<text transform="translate(282.60 224.40) rotate(-90)">S 46</text>
<text transform="translate(290.20 224.40) rotate(-90)">S158</text>
<text transform="translate(295.40 224.40) rotate(-90)">S173</text>
<text transform="translate(300.60 224.40) rotate(-90)">S215</text>
<text transform="translate(305.80 224.40) rotate(-90)">S250</text>
<text transform="translate(311.00 224.40) rotate(-90)">S 31</text>
<text transform="translate(316.20 224.40) rotate(-90)">S 46</text>
</g>
<path d="M215.60 208.80H244.90" stroke="#111" stroke-width="1.00"/>
<path d="M248.40 208.80H281.10" stroke="#111" stroke-width="1.00"/>
<path d="M285.20 208.80H316.50" stroke="#111" stroke-width="1.00"/>
<text x="229.50" y="206.20" text-anchor="middle" style="font-size:8.50px;">VTA</text>
<text x="264.30" y="206.20" text-anchor="middle" style="font-size:8.50px;">SN</text>
<text x="301.20" y="206.20" text-anchor="middle" style="font-size:8.50px;">Mb-other</text>
<text x="267.40" y="194.70" text-anchor="middle" fill="#7f5fa9" style="font-size:8.60px;">Midbrain</text>
<text x="320.80" y="232.00" style="font-size:6.30px;font-style:italic;">GPR161</text>
<text x="320.80" y="239.90" style="font-size:6.30px;font-style:italic;">GPR26</text>
<text x="320.80" y="248.90" style="font-size:6.30px;font-style:italic;">GPR108</text>
<text x="320.80" y="254.80" style="font-size:6.30px;font-style:italic;">GPR125</text>
<text x="320.80" y="260.70" style="font-size:6.30px;font-style:italic;">GPR37</text>
<text x="320.80" y="266.60" style="font-size:6.30px;font-style:italic;">GPRc5b</text>
<text x="320.80" y="272.40" style="font-size:6.30px;font-style:italic;">GPR39</text>
<text x="320.80" y="278.30" style="font-size:6.30px;font-style:italic;">GPRc5c</text>
<defs><linearGradient id="gb" x1="0" x2="1" y1="0" y2="0"><stop offset="0" stop-color="#2df0a8"/><stop offset="0.397" stop-color="#000"/><stop offset="0.7" stop-color="#a02092"/><stop offset="1" stop-color="#ff3cdc"/></linearGradient>
<linearGradient id="gm" x1="0" x2="1" y1="0" y2="0"><stop offset="0" stop-color="#0c0c86"/><stop offset="0.42" stop-color="#8a8a8c"/><stop offset="1" stop-color="#ff8800"/></linearGradient>
<linearGradient id="gh" x1="0" x2="1" y1="0" y2="0"><stop offset="0" stop-color="#40ecb0"/><stop offset="0.385" stop-color="#000"/><stop offset="1" stop-color="#f850e0"/></linearGradient>
<linearGradient id="gr" x1="0" x2="0" y1="0" y2="1"><stop offset="0" stop-color="#fff"/><stop offset="1" stop-color="#000"/></linearGradient></defs>
<rect x="374.3" y="234.8" width="157" height="17.4" fill="url(#gb)" stroke="#000" stroke-width="1"/>
<path d="M387.80 234.8v2.2M387.80 252.2v-2.2" stroke="#000" stroke-width="0.8"/>
<text x="387.80" y="262.60" text-anchor="middle" style="font-size:8.30px;">−3</text>
<path d="M436.60 234.8v2.2M436.60 252.2v-2.2" stroke="#000" stroke-width="0.8"/>
<text x="436.60" y="262.60" text-anchor="middle" style="font-size:8.30px;">0</text>
<path d="M484.90 234.8v2.2M484.90 252.2v-2.2" stroke="#000" stroke-width="0.8"/>
<text x="484.90" y="262.60" text-anchor="middle" style="font-size:8.30px;">3</text>
<text x="447" y="228.2" text-anchor="middle" style="font-size:8.5px">Gene <tspan style="font-style:italic">Z</tspan>-score</text>
<text x="209.40" y="329.50" style="font-size:12.20px;font-weight:bold;">c</text>
<rect x="250.25" y="402.30" width="117.44" height="233.40" fill="#d6d6d6"/>
<path fill="#6a6a90" d="M250.25 402.30h13.89v8.86h-13.89zM265.04 402.30h13.89v8.86h-13.89zM279.83 402.30h13.89v8.86h-13.89zM309.42 402.30h13.89v8.86h-13.89zM324.21 402.30h13.89v8.86h-13.89zM339.00 402.30h13.89v8.86h-13.89zM353.80 402.30h13.89v8.86h-13.89zM250.25 509.69h13.89v8.86h-13.89zM265.04 509.69h13.89v8.86h-13.89zM279.83 509.69h13.89v8.86h-13.89zM294.63 509.69h13.89v8.86h-13.89zM309.42 509.69h13.89v8.86h-13.89zM324.21 509.69h13.89v8.86h-13.89zM339.00 509.69h13.89v8.86h-13.89zM250.25 578.03h13.89v8.86h-13.89zM265.04 578.03h13.89v8.86h-13.89zM279.83 578.03h13.89v8.86h-13.89zM294.63 578.03h13.89v8.86h-13.89zM309.42 578.03h13.89v8.86h-13.89zM339.00 578.03h13.89v8.86h-13.89zM353.80 578.03h13.89v8.86h-13.89zM265.04 607.31h13.89v8.86h-13.89zM279.83 607.31h13.89v8.86h-13.89zM294.63 607.31h13.89v8.86h-13.89zM324.21 607.31h13.89v8.86h-13.89zM353.80 607.31h13.89v8.86h-13.89zM339.00 617.08h13.89v8.86h-13.89z"/>
<path fill="#ff8800" d="M294.63 402.30h13.89v8.86h-13.89zM353.80 509.69h13.89v8.86h-13.89zM324.21 578.03h13.89v8.86h-13.89z"/>
<path fill="#8c8c8c" d="M250.25 412.06h13.89v8.86h-13.89zM294.63 412.06h13.89v8.86h-13.89zM309.42 421.82h13.89v8.86h-13.89zM324.21 421.82h13.89v8.86h-13.89zM339.00 421.82h13.89v8.86h-13.89zM279.83 480.40h13.89v8.86h-13.89zM294.63 480.40h13.89v8.86h-13.89zM309.42 480.40h13.89v8.86h-13.89zM353.80 480.40h13.89v8.86h-13.89zM250.25 490.16h13.89v8.86h-13.89zM309.42 490.16h13.89v8.86h-13.89zM353.80 519.45h13.89v8.86h-13.89z"/>
<path fill="#c08850" d="M265.04 412.06h13.89v8.86h-13.89zM250.25 451.11h13.89v8.86h-13.89zM294.63 451.11h13.89v8.86h-13.89zM309.42 451.11h13.89v8.86h-13.89zM265.04 490.16h13.89v8.86h-13.89zM279.83 490.16h13.89v8.86h-13.89zM324.21 490.16h13.89v8.86h-13.89zM250.25 519.45h13.89v8.86h-13.89zM279.83 519.45h13.89v8.86h-13.89zM294.63 519.45h13.89v8.86h-13.89zM250.25 548.74h13.89v8.86h-13.89zM294.63 548.74h13.89v8.86h-13.89zM309.42 548.74h13.89v8.86h-13.89zM250.25 626.84h13.89v8.86h-13.89zM324.21 626.84h13.89v8.86h-13.89z"/>
<path fill="#f0881a" d="M279.83 412.06h13.89v8.86h-13.89zM250.25 470.64h13.89v8.86h-13.89zM250.25 607.31h13.89v8.86h-13.89z"/>
<path fill="#42428c" d="M309.42 412.06h13.89v8.86h-13.89zM324.21 412.06h13.89v8.86h-13.89zM339.00 412.06h13.89v8.86h-13.89zM353.80 412.06h13.89v8.86h-13.89zM265.04 441.35h13.89v8.86h-13.89zM279.83 441.35h13.89v8.86h-13.89zM309.42 441.35h13.89v8.86h-13.89zM324.21 441.35h13.89v8.86h-13.89zM339.00 441.35h13.89v8.86h-13.89zM339.00 451.11h13.89v8.86h-13.89zM294.63 460.88h13.89v8.86h-13.89zM324.21 460.88h13.89v8.86h-13.89zM339.00 460.88h13.89v8.86h-13.89zM353.80 460.88h13.89v8.86h-13.89zM265.04 470.64h13.89v8.86h-13.89zM279.83 470.64h13.89v8.86h-13.89zM324.21 470.64h13.89v8.86h-13.89zM339.00 470.64h13.89v8.86h-13.89zM265.04 538.98h13.89v8.86h-13.89zM279.83 538.98h13.89v8.86h-13.89zM324.21 548.74h13.89v8.86h-13.89zM339.00 548.74h13.89v8.86h-13.89zM353.80 548.74h13.89v8.86h-13.89zM265.04 597.55h13.89v8.86h-13.89zM279.83 597.55h13.89v8.86h-13.89zM339.00 597.55h13.89v8.86h-13.89zM353.80 597.55h13.89v8.86h-13.89zM279.83 626.84h13.89v8.86h-13.89zM294.63 626.84h13.89v8.86h-13.89zM339.00 626.84h13.89v8.86h-13.89zM353.80 626.84h13.89v8.86h-13.89z"/>
<path fill="#2e2e8a" d="M250.25 421.82h13.89v8.86h-13.89zM294.63 421.82h13.89v8.86h-13.89zM353.80 421.82h13.89v8.86h-13.89zM324.21 480.40h13.89v8.86h-13.89zM339.00 480.40h13.89v8.86h-13.89zM294.63 490.16h13.89v8.86h-13.89zM339.00 490.16h13.89v8.86h-13.89zM353.80 490.16h13.89v8.86h-13.89zM265.04 499.93h13.89v8.86h-13.89zM279.83 499.93h13.89v8.86h-13.89zM294.63 499.93h13.89v8.86h-13.89z"/>
<path fill="#d48838" d="M265.04 421.82h13.89v8.86h-13.89zM279.83 421.82h13.89v8.86h-13.89zM250.25 431.59h13.89v8.86h-13.89zM294.63 431.59h13.89v8.86h-13.89zM250.25 441.35h13.89v8.86h-13.89zM294.63 441.35h13.89v8.86h-13.89zM353.80 441.35h13.89v8.86h-13.89zM309.42 460.88h13.89v8.86h-13.89zM250.25 480.40h13.89v8.86h-13.89zM265.04 480.40h13.89v8.86h-13.89zM279.83 529.21h13.89v8.86h-13.89zM294.63 529.21h13.89v8.86h-13.89zM324.21 558.50h13.89v8.86h-13.89z"/>
<path fill="#58588e" d="M265.04 431.59h13.89v8.86h-13.89zM279.83 431.59h13.89v8.86h-13.89zM324.21 431.59h13.89v8.86h-13.89zM265.04 451.11h13.89v8.86h-13.89zM353.80 451.11h13.89v8.86h-13.89zM250.25 529.21h13.89v8.86h-13.89zM265.04 529.21h13.89v8.86h-13.89zM309.42 529.21h13.89v8.86h-13.89zM324.21 529.21h13.89v8.86h-13.89zM339.00 529.21h13.89v8.86h-13.89zM353.80 529.21h13.89v8.86h-13.89zM265.04 548.74h13.89v8.86h-13.89zM279.83 548.74h13.89v8.86h-13.89zM294.63 558.50h13.89v8.86h-13.89zM353.80 558.50h13.89v8.86h-13.89z"/>
<path fill="#a08870" d="M309.42 431.59h13.89v8.86h-13.89zM339.00 431.59h13.89v8.86h-13.89zM279.83 451.11h13.89v8.86h-13.89zM294.63 470.64h13.89v8.86h-13.89zM309.42 470.64h13.89v8.86h-13.89zM353.80 470.64h13.89v8.86h-13.89zM250.25 558.50h13.89v8.86h-13.89zM265.04 558.50h13.89v8.86h-13.89zM309.42 558.50h13.89v8.86h-13.89zM339.00 558.50h13.89v8.86h-13.89zM250.25 568.26h13.89v8.86h-13.89zM279.83 568.26h13.89v8.86h-13.89zM309.42 568.26h13.89v8.86h-13.89zM324.21 568.26h13.89v8.86h-13.89zM339.00 568.26h13.89v8.86h-13.89zM353.80 568.26h13.89v8.86h-13.89zM265.04 587.79h13.89v8.86h-13.89zM279.83 587.79h13.89v8.86h-13.89zM309.42 587.79h13.89v8.86h-13.89zM324.21 587.79h13.89v8.86h-13.89zM339.00 587.79h13.89v8.86h-13.89zM353.80 587.79h13.89v8.86h-13.89zM265.04 626.84h13.89v8.86h-13.89zM309.42 626.84h13.89v8.86h-13.89z"/>
<path fill="#101080" d="M353.80 431.59h13.89v8.86h-13.89zM324.21 451.11h13.89v8.86h-13.89zM265.04 519.45h13.89v8.86h-13.89zM339.00 519.45h13.89v8.86h-13.89zM294.63 538.98h13.89v8.86h-13.89zM279.83 558.50h13.89v8.86h-13.89zM265.04 568.26h13.89v8.86h-13.89zM294.63 568.26h13.89v8.86h-13.89zM250.25 587.79h13.89v8.86h-13.89zM294.63 587.79h13.89v8.86h-13.89zM339.00 607.31h13.89v8.86h-13.89zM265.04 617.08h13.89v8.86h-13.89zM279.83 617.08h13.89v8.86h-13.89z"/>
<path fill="#ac8864" d="M250.25 460.88h13.89v8.86h-13.89zM265.04 460.88h13.89v8.86h-13.89zM279.83 460.88h13.89v8.86h-13.89zM250.25 499.93h13.89v8.86h-13.89zM309.42 499.93h13.89v8.86h-13.89zM324.21 499.93h13.89v8.86h-13.89zM339.00 499.93h13.89v8.86h-13.89zM353.80 499.93h13.89v8.86h-13.89zM250.25 538.98h13.89v8.86h-13.89zM309.42 538.98h13.89v8.86h-13.89zM324.21 538.98h13.89v8.86h-13.89zM339.00 538.98h13.89v8.86h-13.89zM353.80 538.98h13.89v8.86h-13.89zM250.25 597.55h13.89v8.86h-13.89zM294.63 597.55h13.89v8.86h-13.89zM309.42 597.55h13.89v8.86h-13.89zM324.21 597.55h13.89v8.86h-13.89zM309.42 607.31h13.89v8.86h-13.89zM250.25 617.08h13.89v8.86h-13.89zM294.63 617.08h13.89v8.86h-13.89zM309.42 617.08h13.89v8.86h-13.89zM324.21 617.08h13.89v8.86h-13.89zM353.80 617.08h13.89v8.86h-13.89z"/>
<path fill="#78788e" d="M309.42 519.45h13.89v8.86h-13.89zM324.21 519.45h13.89v8.86h-13.89z"/>
<rect x="250.25" y="402.30" width="117.44" height="233.40" fill="none" stroke="#222" stroke-width="0.8"/>
<rect x="376.05" y="402.30" width="117.44" height="233.40" fill="#d6d6d6"/>
<path fill="#103a2a" d="M376.05 402.30h13.89v8.86h-13.89zM390.84 402.30h13.89v8.86h-13.89zM405.63 402.30h13.89v8.86h-13.89zM435.22 402.30h13.89v8.86h-13.89zM450.01 402.30h13.89v8.86h-13.89zM464.81 402.30h13.89v8.86h-13.89zM479.60 402.30h13.89v8.86h-13.89zM420.43 421.82h13.89v8.86h-13.89zM464.81 431.59h13.89v8.86h-13.89zM390.84 470.64h13.89v8.86h-13.89zM450.01 519.45h13.89v8.86h-13.89zM435.22 538.98h13.89v8.86h-13.89zM420.43 578.03h13.89v8.86h-13.89zM450.01 587.79h13.89v8.86h-13.89zM390.84 607.31h13.89v8.86h-13.89zM420.43 626.84h13.89v8.86h-13.89z"/>
<path fill="#f050da" d="M420.43 402.30h13.89v8.86h-13.89zM435.22 451.11h13.89v8.86h-13.89zM390.84 490.16h13.89v8.86h-13.89zM420.43 519.45h13.89v8.86h-13.89zM376.05 558.50h13.89v8.86h-13.89zM435.22 587.79h13.89v8.86h-13.89z"/>
<path fill="#16543e" d="M376.05 412.06h13.89v8.86h-13.89zM420.43 412.06h13.89v8.86h-13.89zM435.22 412.06h13.89v8.86h-13.89zM450.01 412.06h13.89v8.86h-13.89zM464.81 412.06h13.89v8.86h-13.89zM479.60 412.06h13.89v8.86h-13.89zM435.22 421.82h13.89v8.86h-13.89zM435.22 441.35h13.89v8.86h-13.89zM390.84 451.11h13.89v8.86h-13.89zM405.63 451.11h13.89v8.86h-13.89zM450.01 451.11h13.89v8.86h-13.89zM464.81 451.11h13.89v8.86h-13.89zM435.22 460.88h13.89v8.86h-13.89zM479.60 460.88h13.89v8.86h-13.89zM435.22 480.40h13.89v8.86h-13.89zM464.81 480.40h13.89v8.86h-13.89zM376.05 490.16h13.89v8.86h-13.89zM420.43 490.16h13.89v8.86h-13.89zM435.22 490.16h13.89v8.86h-13.89zM450.01 490.16h13.89v8.86h-13.89zM464.81 490.16h13.89v8.86h-13.89zM479.60 490.16h13.89v8.86h-13.89zM376.05 499.93h13.89v8.86h-13.89zM479.60 499.93h13.89v8.86h-13.89zM435.22 509.69h13.89v8.86h-13.89zM390.84 519.45h13.89v8.86h-13.89zM405.63 519.45h13.89v8.86h-13.89zM435.22 519.45h13.89v8.86h-13.89zM464.81 519.45h13.89v8.86h-13.89zM479.60 519.45h13.89v8.86h-13.89zM420.43 529.21h13.89v8.86h-13.89zM435.22 529.21h13.89v8.86h-13.89zM464.81 529.21h13.89v8.86h-13.89zM450.01 558.50h13.89v8.86h-13.89zM479.60 587.79h13.89v8.86h-13.89zM405.63 626.84h13.89v8.86h-13.89z"/>
<path fill="#581a54" d="M390.84 412.06h13.89v8.86h-13.89zM376.05 431.59h13.89v8.86h-13.89zM420.43 441.35h13.89v8.86h-13.89zM376.05 470.64h13.89v8.86h-13.89zM479.60 538.98h13.89v8.86h-13.89zM420.43 568.26h13.89v8.86h-13.89zM464.81 568.26h13.89v8.86h-13.89zM376.05 578.03h13.89v8.86h-13.89zM435.22 607.31h13.89v8.86h-13.89zM420.43 617.08h13.89v8.86h-13.89z"/>
<path fill="#d240c0" d="M405.63 412.06h13.89v8.86h-13.89zM420.43 431.59h13.89v8.86h-13.89zM479.60 470.64h13.89v8.86h-13.89zM405.63 529.21h13.89v8.86h-13.89zM435.22 578.03h13.89v8.86h-13.89zM420.43 607.31h13.89v8.86h-13.89zM435.22 626.84h13.89v8.86h-13.89z"/>
<path fill="#228664" d="M376.05 421.82h13.89v8.86h-13.89zM479.60 421.82h13.89v8.86h-13.89zM390.84 431.59h13.89v8.86h-13.89zM405.63 431.59h13.89v8.86h-13.89zM420.43 460.88h13.89v8.86h-13.89zM450.01 460.88h13.89v8.86h-13.89zM464.81 460.88h13.89v8.86h-13.89zM450.01 470.64h13.89v8.86h-13.89zM450.01 480.40h13.89v8.86h-13.89zM479.60 480.40h13.89v8.86h-13.89zM390.84 538.98h13.89v8.86h-13.89zM405.63 538.98h13.89v8.86h-13.89zM464.81 538.98h13.89v8.86h-13.89zM376.05 548.74h13.89v8.86h-13.89zM390.84 548.74h13.89v8.86h-13.89zM405.63 548.74h13.89v8.86h-13.89zM479.60 548.74h13.89v8.86h-13.89zM390.84 568.26h13.89v8.86h-13.89zM405.63 568.26h13.89v8.86h-13.89zM479.60 568.26h13.89v8.86h-13.89zM390.84 578.03h13.89v8.86h-13.89zM464.81 578.03h13.89v8.86h-13.89zM390.84 587.79h13.89v8.86h-13.89zM405.63 587.79h13.89v8.86h-13.89z"/>
<path fill="#b036a0" d="M390.84 421.82h13.89v8.86h-13.89zM405.63 421.82h13.89v8.86h-13.89zM479.60 441.35h13.89v8.86h-13.89zM405.63 460.88h13.89v8.86h-13.89zM405.63 480.40h13.89v8.86h-13.89zM420.43 509.69h13.89v8.86h-13.89zM479.60 509.69h13.89v8.86h-13.89zM376.05 538.98h13.89v8.86h-13.89zM435.22 548.74h13.89v8.86h-13.89zM435.22 568.26h13.89v8.86h-13.89zM479.60 597.55h13.89v8.86h-13.89zM405.63 617.08h13.89v8.86h-13.89z"/>
<path fill="#061c14" d="M450.01 421.82h13.89v8.86h-13.89zM435.22 431.59h13.89v8.86h-13.89zM450.01 431.59h13.89v8.86h-13.89zM420.43 451.11h13.89v8.86h-13.89zM405.63 470.64h13.89v8.86h-13.89zM450.01 538.98h13.89v8.86h-13.89zM420.43 548.74h13.89v8.86h-13.89zM405.63 558.50h13.89v8.86h-13.89zM420.43 558.50h13.89v8.86h-13.89zM450.01 568.26h13.89v8.86h-13.89zM450.01 578.03h13.89v8.86h-13.89zM376.05 587.79h13.89v8.86h-13.89zM464.81 587.79h13.89v8.86h-13.89zM435.22 597.55h13.89v8.86h-13.89zM390.84 617.08h13.89v8.86h-13.89zM479.60 626.84h13.89v8.86h-13.89z"/>
<path fill="#1c6c50" d="M464.81 421.82h13.89v8.86h-13.89zM479.60 431.59h13.89v8.86h-13.89zM479.60 451.11h13.89v8.86h-13.89zM435.22 470.64h13.89v8.86h-13.89zM420.43 480.40h13.89v8.86h-13.89zM464.81 509.69h13.89v8.86h-13.89zM376.05 529.21h13.89v8.86h-13.89zM450.01 529.21h13.89v8.86h-13.89zM479.60 529.21h13.89v8.86h-13.89zM390.84 558.50h13.89v8.86h-13.89zM464.81 558.50h13.89v8.86h-13.89zM479.60 558.50h13.89v8.86h-13.89zM405.63 597.55h13.89v8.86h-13.89zM376.05 607.31h13.89v8.86h-13.89zM450.01 607.31h13.89v8.86h-13.89z"/>
<path fill="#060406" d="M376.05 441.35h13.89v8.86h-13.89zM390.84 441.35h13.89v8.86h-13.89zM420.43 470.64h13.89v8.86h-13.89zM450.01 509.69h13.89v8.86h-13.89zM405.63 607.31h13.89v8.86h-13.89zM376.05 617.08h13.89v8.86h-13.89zM450.01 617.08h13.89v8.86h-13.89zM479.60 617.08h13.89v8.86h-13.89zM464.81 626.84h13.89v8.86h-13.89z"/>
<path fill="#2e0e2c" d="M405.63 441.35h13.89v8.86h-13.89zM376.05 451.11h13.89v8.86h-13.89zM376.05 460.88h13.89v8.86h-13.89zM376.05 480.40h13.89v8.86h-13.89zM405.63 490.16h13.89v8.86h-13.89zM420.43 499.93h13.89v8.86h-13.89zM450.01 499.93h13.89v8.86h-13.89zM376.05 509.69h13.89v8.86h-13.89zM376.05 519.45h13.89v8.86h-13.89zM420.43 538.98h13.89v8.86h-13.89zM450.01 548.74h13.89v8.86h-13.89zM435.22 558.50h13.89v8.86h-13.89zM405.63 578.03h13.89v8.86h-13.89zM420.43 587.79h13.89v8.86h-13.89zM376.05 597.55h13.89v8.86h-13.89zM390.84 597.55h13.89v8.86h-13.89zM450.01 597.55h13.89v8.86h-13.89zM464.81 607.31h13.89v8.86h-13.89z"/>
<path fill="#2eac82" d="M450.01 441.35h13.89v8.86h-13.89zM464.81 470.64h13.89v8.86h-13.89zM405.63 499.93h13.89v8.86h-13.89zM390.84 509.69h13.89v8.86h-13.89zM405.63 509.69h13.89v8.86h-13.89zM376.05 568.26h13.89v8.86h-13.89zM479.60 578.03h13.89v8.86h-13.89zM420.43 597.55h13.89v8.86h-13.89zM464.81 597.55h13.89v8.86h-13.89zM479.60 607.31h13.89v8.86h-13.89zM435.22 617.08h13.89v8.86h-13.89zM376.05 626.84h13.89v8.86h-13.89zM450.01 626.84h13.89v8.86h-13.89z"/>
<path fill="#3ee8ac" d="M464.81 441.35h13.89v8.86h-13.89zM390.84 499.93h13.89v8.86h-13.89zM464.81 617.08h13.89v8.86h-13.89z"/>
<path fill="#82287a" d="M390.84 460.88h13.89v8.86h-13.89zM390.84 480.40h13.89v8.86h-13.89zM435.22 499.93h13.89v8.86h-13.89zM464.81 499.93h13.89v8.86h-13.89zM390.84 529.21h13.89v8.86h-13.89zM464.81 548.74h13.89v8.86h-13.89zM390.84 626.84h13.89v8.86h-13.89z"/>
<rect x="376.05" y="402.30" width="117.44" height="233.40" fill="none" stroke="#222" stroke-width="0.8"/>
<text x="246.80" y="410.06" text-anchor="end" style="font-size:8.50px;font-style:italic;">GPRc151</text>
<text x="246.80" y="419.79" text-anchor="end" style="font-size:8.50px;font-style:italic;">GPR88</text>
<text x="246.80" y="429.51" text-anchor="end" style="font-size:8.50px;font-style:italic;">GPR149</text>
<text x="246.80" y="439.24" text-anchor="end" style="font-size:8.50px;font-style:italic;">GPR123</text>
<text x="246.80" y="448.96" text-anchor="end" style="font-size:8.50px;font-style:italic;">GPR85</text>
<text x="246.80" y="458.69" text-anchor="end" style="font-size:8.50px;font-style:italic;">GPR26</text>
<text x="246.80" y="468.41" text-anchor="end" style="font-size:8.50px;font-style:italic;">GPR98</text>
<text x="246.80" y="478.14" text-anchor="end" style="font-size:8.50px;font-style:italic;">CELSR3</text>
<text x="246.80" y="487.86" text-anchor="end" style="font-size:8.50px;font-style:italic;">GPR27</text>
<text x="246.80" y="497.59" text-anchor="end" style="font-size:8.50px;font-style:italic;">GPR101</text>
<text x="246.80" y="507.31" text-anchor="end" style="font-size:8.50px;font-style:italic;">GPR108</text>
<text x="246.80" y="517.04" text-anchor="end" style="font-size:8.50px;font-style:italic;">GPR68</text>
<text x="246.80" y="526.76" text-anchor="end" style="font-size:8.50px;font-style:italic;">GPR153</text>
<text x="246.80" y="536.49" text-anchor="end" style="font-size:8.50px;font-style:italic;">GPR139</text>
<text x="246.80" y="546.21" text-anchor="end" style="font-size:8.50px;font-style:italic;">GPR162</text>
<text x="246.80" y="555.94" text-anchor="end" style="font-size:8.50px;font-style:italic;">GPR37</text>
<text x="246.80" y="565.66" text-anchor="end" style="font-size:8.50px;font-style:italic;">GPR150</text>
<text x="246.80" y="575.39" text-anchor="end" style="font-size:8.50px;font-style:italic;">GPRc5b</text>
<text x="246.80" y="585.11" text-anchor="end" style="font-size:8.50px;font-style:italic;">GPR50</text>
<text x="246.80" y="594.84" text-anchor="end" style="font-size:8.50px;font-style:italic;">GPR161</text>
<text x="246.80" y="604.56" text-anchor="end" style="font-size:8.50px;font-style:italic;">GPR176</text>
<text x="246.80" y="614.29" text-anchor="end" style="font-size:8.50px;font-style:italic;">GPR125</text>
<text x="246.80" y="624.01" text-anchor="end" style="font-size:8.50px;font-style:italic;">GPR63</text>
<text x="246.80" y="633.74" text-anchor="end" style="font-size:8.50px;font-style:italic;">GPR39</text>
<text transform="translate(260.89 399.00) rotate(-90)" style="font-size:8.80px;">Ctx</text>
<text transform="translate(275.57 399.00) rotate(-90)" style="font-size:8.80px;">ACB</text>
<text transform="translate(290.25 399.00) rotate(-90)" style="font-size:8.80px;">CP</text>
<text transform="translate(304.93 399.00) rotate(-90)" style="font-size:8.80px;">Hb/Th</text>
<text transform="translate(319.61 399.00) rotate(-90)" style="font-size:8.80px;">Mb-VTA-SN</text>
<text transform="translate(334.29 399.00) rotate(-90)" style="font-size:8.80px;">Pn</text>
<text transform="translate(348.97 399.00) rotate(-90)" style="font-size:8.80px;">Med</text>
<text transform="translate(363.65 399.00) rotate(-90)" style="font-size:8.80px;">Cer</text>
<text transform="translate(386.69 399.00) rotate(-90)" style="font-size:8.80px;">Ctx</text>
<text transform="translate(401.37 399.00) rotate(-90)" style="font-size:8.80px;">ACB</text>
<text transform="translate(416.05 399.00) rotate(-90)" style="font-size:8.80px;">CP</text>
<text transform="translate(430.73 399.00) rotate(-90)" style="font-size:8.80px;">Hb/Th</text>
<text transform="translate(445.41 399.00) rotate(-90)" style="font-size:8.80px;">Mb-VTA-SN</text>
<text transform="translate(460.09 399.00) rotate(-90)" style="font-size:8.80px;">Pn</text>
<text transform="translate(474.77 399.00) rotate(-90)" style="font-size:8.80px;">Med</text>
<text transform="translate(489.45 399.00) rotate(-90)" style="font-size:8.80px;">Cer</text>
<text x="309.50" y="330.80" text-anchor="middle" style="font-size:8.50px;">Mouse ISH</text>
<text x="309.50" y="342.00" text-anchor="middle" style="font-size:8.50px;">(This study)</text>
<text x="435.50" y="330.80" text-anchor="middle" style="font-size:8.50px;">Human nanoString</text>
<text x="435.50" y="342.00" text-anchor="middle" style="font-size:8.50px;">(This study)</text>
<rect x="250.3" y="653.0" width="117.4" height="14.4" fill="url(#gm)" stroke="#000" stroke-width="1"/>
<rect x="376.3" y="653.0" width="117.4" height="14.4" fill="url(#gh)" stroke="#000" stroke-width="1"/>
<path d="M271.60 653v2M271.60 667.4v-2" stroke="#000" stroke-width="0.8"/>
<text x="271.60" y="678.40" text-anchor="middle" style="font-size:8.30px;">−1</text>
<path d="M299.30 653v2M299.30 667.4v-2" stroke="#000" stroke-width="0.8"/>
<text x="299.30" y="678.40" text-anchor="middle" style="font-size:8.30px;">0</text>
<path d="M326.80 653v2M326.80 667.4v-2" stroke="#000" stroke-width="0.8"/>
<text x="326.80" y="678.40" text-anchor="middle" style="font-size:8.30px;">1</text>
<path d="M354.30 653v2M354.30 667.4v-2" stroke="#000" stroke-width="0.8"/>
<text x="354.30" y="678.40" text-anchor="middle" style="font-size:8.30px;">2</text>
<path d="M391.80 653v2M391.80 667.4v-2" stroke="#000" stroke-width="0.8"/>
<text x="391.80" y="678.40" text-anchor="middle" style="font-size:8.30px;">−1</text>
<path d="M421.50 653v2M421.50 667.4v-2" stroke="#000" stroke-width="0.8"/>
<text x="421.50" y="678.40" text-anchor="middle" style="font-size:8.30px;">0</text>
<path d="M450.80 653v2M450.80 667.4v-2" stroke="#000" stroke-width="0.8"/>
<text x="450.80" y="678.40" text-anchor="middle" style="font-size:8.30px;">1</text>
<path d="M480.30 653v2M480.30 667.4v-2" stroke="#000" stroke-width="0.8"/>
<text x="480.30" y="678.40" text-anchor="middle" style="font-size:8.30px;">2</text>
<text x="313" y="646.8" text-anchor="middle" style="font-size:8.5px">Gene <tspan style="font-style:italic">Z</tspan>-score</text>
<text x="433.5" y="646.8" text-anchor="middle" style="font-size:8.5px">Gene <tspan style="font-style:italic">Z</tspan>-score</text>
<rect x="503.90" y="402.30" width="24.80" height="9.72" fill="#ffffff"/>
<rect x="503.90" y="412.03" width="24.80" height="9.72" fill="#f6f6f6"/>
<rect x="503.90" y="421.75" width="24.80" height="9.72" fill="#eeeeee"/>
<rect x="503.90" y="431.48" width="24.80" height="9.72" fill="#e6e6e6"/>
<rect x="503.90" y="441.20" width="24.80" height="9.72" fill="#dedede"/>
<rect x="503.90" y="450.93" width="24.80" height="9.72" fill="#dadada"/>
<rect x="503.90" y="460.65" width="24.80" height="9.72" fill="#d6d6d6"/>
<rect x="503.90" y="470.38" width="24.80" height="9.72" fill="#d2d2d2"/>
<rect x="503.90" y="480.10" width="24.80" height="9.72" fill="#cfcfcf"/>
<rect x="503.90" y="489.82" width="24.80" height="9.72" fill="#cbcbcb"/>
<rect x="503.90" y="499.55" width="24.80" height="9.72" fill="#c7c7c7"/>
<rect x="503.90" y="509.27" width="24.80" height="9.72" fill="#c3c3c3"/>
<rect x="503.90" y="519.00" width="24.80" height="9.72" fill="#bebebe"/>
<rect x="503.90" y="528.73" width="24.80" height="9.72" fill="#b8b8b8"/>
<rect x="503.90" y="538.45" width="24.80" height="9.72" fill="#9e9e9e"/>
<rect x="503.90" y="548.17" width="24.80" height="9.72" fill="#969696"/>
<rect x="503.90" y="557.90" width="24.80" height="9.72" fill="#919191"/>
<rect x="503.90" y="567.62" width="24.80" height="9.72" fill="#8a8a8a"/>
<rect x="503.90" y="577.35" width="24.80" height="9.72" fill="#898989"/>
<rect x="503.90" y="587.08" width="24.80" height="9.72" fill="#888888"/>
<rect x="503.90" y="596.80" width="24.80" height="9.72" fill="#878787"/>
<rect x="503.90" y="606.52" width="24.80" height="9.72" fill="#868686"/>
<rect x="503.90" y="616.25" width="24.80" height="9.72" fill="#858585"/>
<rect x="503.90" y="625.98" width="24.80" height="9.72" fill="#848484"/>
<rect x="503.90" y="402.10" width="24.80" height="233.60" fill="none" stroke="#111" stroke-width="0.9"/>
<text x="515.80" y="410.96" text-anchor="middle" style="font-size:10.80px;" letter-spacing="-1.3">★★★</text>
<text x="515.80" y="420.69" text-anchor="middle" style="font-size:10.80px;" letter-spacing="-1.3">★★★</text>
<text x="515.80" y="430.41" text-anchor="middle" style="font-size:10.80px;" letter-spacing="-1.3">★★</text>
<text x="515.80" y="440.14" text-anchor="middle" style="font-size:10.80px;" letter-spacing="-1.3">★</text>
<text x="516.30" y="448.56" text-anchor="middle" fill="#111" style="font-size:6.90px;">0.0678</text>
<text x="516.30" y="458.29" text-anchor="middle" fill="#111" style="font-size:6.90px;">0.0875</text>
<text x="516.30" y="468.01" text-anchor="middle" fill="#111" style="font-size:6.90px;">0.1021</text>
<text x="516.30" y="477.74" text-anchor="middle" fill="#111" style="font-size:6.90px;">0.1179</text>
<text x="516.30" y="487.46" text-anchor="middle" fill="#111" style="font-size:6.90px;">0.122</text>
<text x="516.30" y="497.19" text-anchor="middle" fill="#111" style="font-size:6.90px;">0.1311</text>
<text x="516.30" y="506.91" text-anchor="middle" fill="#111" style="font-size:6.90px;">0.1472</text>
<text x="516.30" y="516.64" text-anchor="middle" fill="#111" style="font-size:6.90px;">0.1516</text>
<text x="516.30" y="526.36" text-anchor="middle" fill="#111" style="font-size:6.90px;">0.1653</text>
<text x="516.30" y="536.09" text-anchor="middle" fill="#111" style="font-size:6.90px;">0.2161</text>
<text x="516.30" y="545.81" text-anchor="middle" fill="#111" style="font-size:6.90px;">0.5278</text>
<text x="516.30" y="555.54" text-anchor="middle" fill="#111" style="font-size:6.90px;">0.6282</text>
<text x="516.30" y="565.26" text-anchor="middle" fill="#111" style="font-size:6.90px;">0.7191</text>
<text x="516.30" y="574.99" text-anchor="middle" fill="#111" style="font-size:6.90px;">0.9569</text>
<text x="516.30" y="584.71" text-anchor="middle" fill="#111" style="font-size:6.90px;">0.9214</text>
<text x="516.30" y="594.44" text-anchor="middle" fill="#111" style="font-size:6.90px;">0.8856</text>
<text x="516.30" y="604.16" text-anchor="middle" fill="#111" style="font-size:6.90px;">0.754</text>
<text x="516.30" y="613.89" text-anchor="middle" fill="#111" style="font-size:6.90px;">0.7258</text>
<text x="516.30" y="623.61" text-anchor="middle" fill="#111" style="font-size:6.90px;">0.6294</text>
<text x="516.30" y="633.34" text-anchor="middle" fill="#111" style="font-size:6.90px;">0.6028</text>
<text x="516.50" y="386.00" text-anchor="middle" style="font-size:8.50px;font-style:italic;">r</text>
<text x="517" y="396.3" text-anchor="middle" style="font-size:8.5px">(<tspan style="font-style:italic">P</tspan>-value)</text>
<rect x="544.3" y="552.7" width="10.6" height="78" fill="url(#gr)" stroke="#000" stroke-width="1.1"/>
<path d="M544.3 553.30h2M554.9 553.30h-2" stroke="#000" stroke-width="0.8"/>
<text x="558.20" y="556.10" style="font-size:8.00px;">1.0</text>
<path d="M544.3 572.90h2M554.9 572.90h-2" stroke="#000" stroke-width="0.8"/>
<text x="558.20" y="575.70" style="font-size:8.00px;">0.5</text>
<path d="M544.3 591.90h2M554.9 591.90h-2" stroke="#000" stroke-width="0.8"/>
<text x="558.20" y="594.70" style="font-size:8.00px;">0</text>
<path d="M544.3 611.20h2M554.9 611.20h-2" stroke="#000" stroke-width="0.8"/>
<text x="558.20" y="614.00" style="font-size:8.00px;">−0.5</text>
<path d="M544.3 630.60h2M554.9 630.60h-2" stroke="#000" stroke-width="0.8"/>
<text x="558.20" y="633.40" style="font-size:8.00px;">−1.0</text>
<text x="549.70" y="548.50" text-anchor="middle" style="font-size:8.50px;font-style:italic;">r</text>
</svg></body></html>
